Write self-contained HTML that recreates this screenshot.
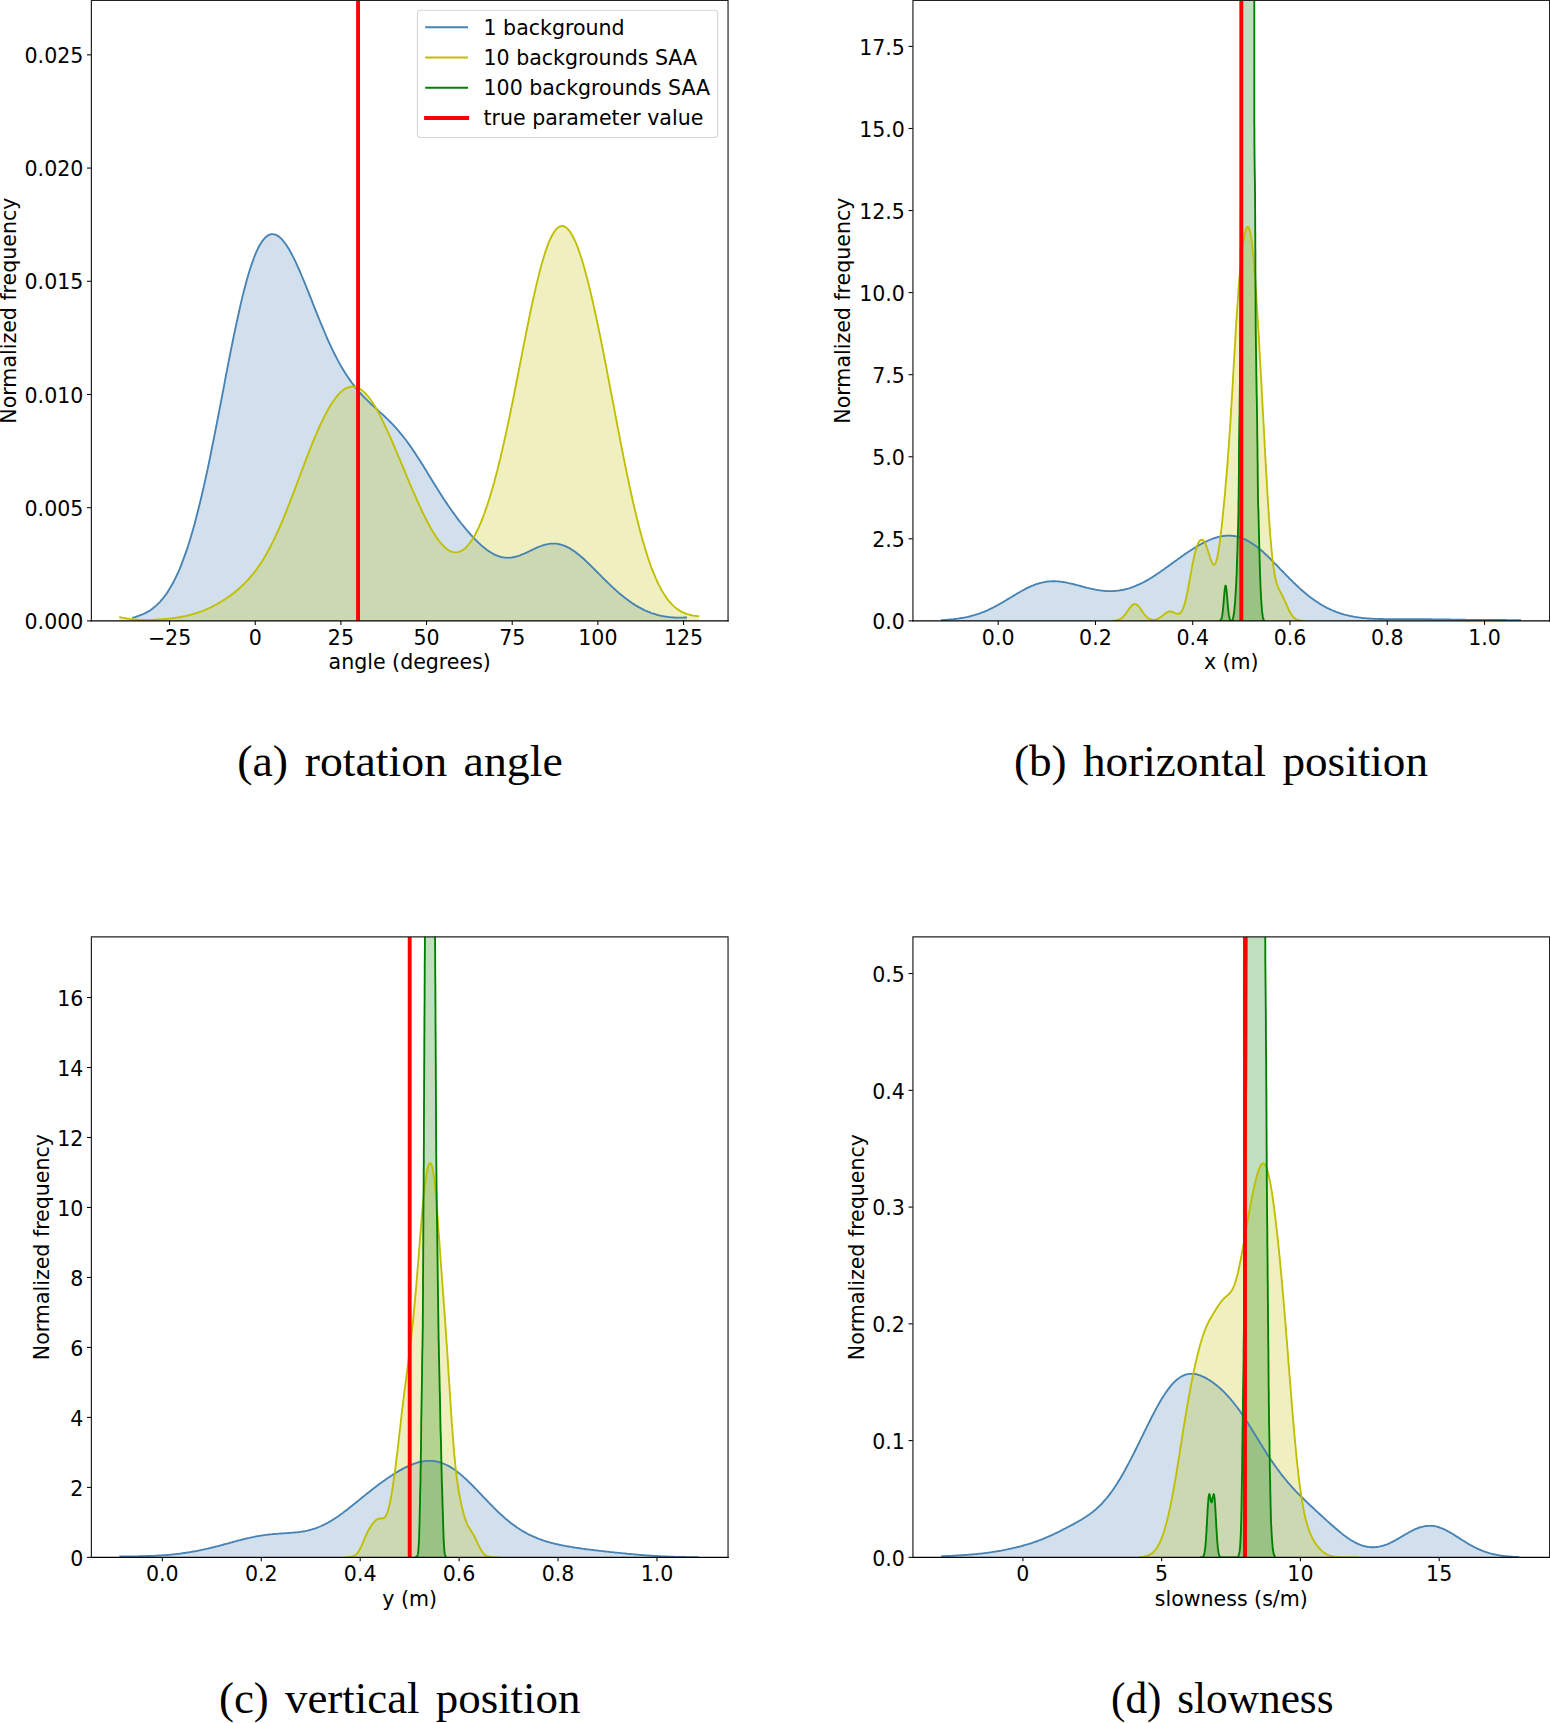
<!DOCTYPE html>
<html><head><meta charset="utf-8"><title>figure</title>
<style>
html,body{margin:0;padding:0;background:#fff}
body{width:1550px;height:1723px;overflow:hidden}
svg{display:block}
.t{font-family:"DejaVu Sans", "Liberation Sans", sans-serif;font-size:20.55px;fill:#000}
.c{font-family:"Liberation Serif","DejaVu Serif",serif;font-size:44.5px;word-spacing:5px;fill:#000}
</style></head><body>
<svg width="1550" height="1723" viewBox="0 0 1550 1723">
<rect width="1550" height="1723" fill="#fff"/>
<defs><clipPath id="cla"><rect x="91.39" y="0.36" width="636.66" height="620.52"/></clipPath></defs>
<g clip-path="url(#cla)">
<polygon points="132.2,620.9 132.2,617.8 133.6,617.4 135.0,617.1 136.4,616.6 137.8,616.2 139.1,615.7 140.5,615.2 141.9,614.7 143.3,614.0 144.7,613.4 146.1,612.7 147.5,611.9 148.9,611.1 150.3,610.2 151.7,609.2 153.0,608.2 154.4,607.0 155.8,605.9 157.2,604.6 158.6,603.2 160.0,601.8 161.4,600.2 162.8,598.6 164.2,596.8 165.6,594.9 167.0,593.0 168.3,590.9 169.7,588.6 171.1,586.3 172.5,583.8 173.9,581.2 175.3,578.4 176.7,575.5 178.1,572.5 179.5,569.3 180.9,565.9 182.2,562.4 183.6,558.7 185.0,554.9 186.4,550.9 187.8,546.7 189.2,542.3 190.6,537.8 192.0,533.1 193.4,528.3 194.8,523.2 196.1,518.0 197.5,512.6 198.9,507.1 200.3,501.4 201.7,495.5 203.1,489.5 204.5,483.4 205.9,477.0 207.3,470.6 208.7,464.0 210.1,457.3 211.4,450.5 212.8,443.6 214.2,436.6 215.6,429.5 217.0,422.4 218.4,415.2 219.8,407.9 221.2,400.6 222.6,393.4 224.0,386.1 225.3,378.8 226.7,371.6 228.1,364.4 229.5,357.3 230.9,350.2 232.3,343.3 233.7,336.4 235.1,329.7 236.5,323.1 237.9,316.7 239.3,310.5 240.6,304.4 242.0,298.6 243.4,292.9 244.8,287.5 246.2,282.3 247.6,277.3 249.0,272.6 250.4,268.1 251.8,263.9 253.2,260.0 254.5,256.3 255.9,252.9 257.3,249.8 258.7,247.0 260.1,244.5 261.5,242.2 262.9,240.3 264.3,238.6 265.7,237.2 267.1,236.0 268.4,235.2 269.8,234.6 271.2,234.2 272.6,234.1 274.0,234.3 275.4,234.6 276.8,235.3 278.2,236.1 279.6,237.2 281.0,238.4 282.4,239.9 283.7,241.5 285.1,243.3 286.5,245.3 287.9,247.5 289.3,249.8 290.7,252.3 292.1,254.9 293.5,257.6 294.9,260.4 296.3,263.3 297.6,266.4 299.0,269.5 300.4,272.7 301.8,276.0 303.2,279.3 304.6,282.7 306.0,286.1 307.4,289.6 308.8,293.1 310.2,296.6 311.6,300.1 312.9,303.6 314.3,307.1 315.7,310.6 317.1,314.1 318.5,317.6 319.9,321.0 321.3,324.4 322.7,327.7 324.1,331.0 325.5,334.3 326.8,337.5 328.2,340.6 329.6,343.7 331.0,346.7 332.4,349.6 333.8,352.5 335.2,355.2 336.6,357.9 338.0,360.6 339.4,363.1 340.7,365.6 342.1,368.0 343.5,370.3 344.9,372.6 346.3,374.7 347.7,376.8 349.1,378.9 350.5,380.9 351.9,382.8 353.3,384.6 354.7,386.4 356.0,388.1 357.4,389.8 358.8,391.4 360.2,393.0 361.6,394.5 363.0,396.0 364.4,397.4 365.8,398.8 367.2,400.2 368.6,401.6 369.9,402.9 371.3,404.2 372.7,405.5 374.1,406.8 375.5,408.1 376.9,409.3 378.3,410.6 379.7,411.9 381.1,413.1 382.5,414.4 383.9,415.7 385.2,417.0 386.6,418.3 388.0,419.7 389.4,421.1 390.8,422.5 392.2,423.9 393.6,425.4 395.0,426.9 396.4,428.4 397.8,430.0 399.1,431.6 400.5,433.3 401.9,435.0 403.3,436.7 404.7,438.5 406.1,440.3 407.5,442.2 408.9,444.1 410.3,446.1 411.7,448.0 413.0,450.1 414.4,452.1 415.8,454.2 417.2,456.4 418.6,458.5 420.0,460.7 421.4,462.9 422.8,465.1 424.2,467.4 425.6,469.6 427.0,471.9 428.3,474.2 429.7,476.5 431.1,478.7 432.5,481.0 433.9,483.3 435.3,485.5 436.7,487.7 438.1,490.0 439.5,492.2 440.9,494.4 442.2,496.5 443.6,498.7 445.0,500.8 446.4,502.9 447.8,504.9 449.2,507.0 450.6,509.0 452.0,511.0 453.4,512.9 454.8,514.8 456.2,516.7 457.5,518.6 458.9,520.4 460.3,522.2 461.7,524.0 463.1,525.7 464.5,527.4 465.9,529.1 467.3,530.7 468.7,532.3 470.1,533.9 471.4,535.4 472.8,537.0 474.2,538.4 475.6,539.9 477.0,541.2 478.4,542.6 479.8,543.9 481.2,545.2 482.6,546.4 484.0,547.5 485.3,548.6 486.7,549.7 488.1,550.7 489.5,551.6 490.9,552.5 492.3,553.3 493.7,554.1 495.1,554.8 496.5,555.4 497.9,555.9 499.3,556.4 500.6,556.8 502.0,557.2 503.4,557.4 504.8,557.6 506.2,557.7 507.6,557.8 509.0,557.7 510.4,557.6 511.8,557.5 513.2,557.2 514.5,557.0 515.9,556.6 517.3,556.2 518.7,555.8 520.1,555.3 521.5,554.7 522.9,554.2 524.3,553.6 525.7,552.9 527.1,552.3 528.5,551.6 529.8,551.0 531.2,550.3 532.6,549.6 534.0,549.0 535.4,548.3 536.8,547.7 538.2,547.1 539.6,546.5 541.0,546.0 542.4,545.5 543.7,545.1 545.1,544.7 546.5,544.3 547.9,544.1 549.3,543.8 550.7,543.7 552.1,543.6 553.5,543.6 554.9,543.6 556.3,543.7 557.6,543.9 559.0,544.1 560.4,544.5 561.8,544.8 563.2,545.3 564.6,545.8 566.0,546.4 567.4,547.1 568.8,547.8 570.2,548.6 571.6,549.5 572.9,550.4 574.3,551.3 575.7,552.3 577.1,553.4 578.5,554.5 579.9,555.6 581.3,556.8 582.7,558.0 584.1,559.3 585.5,560.6 586.8,561.9 588.2,563.2 589.6,564.5 591.0,565.9 592.4,567.3 593.8,568.7 595.2,570.1 596.6,571.5 598.0,572.9 599.4,574.3 600.8,575.7 602.1,577.1 603.5,578.5 604.9,579.9 606.3,581.2 607.7,582.6 609.1,583.9 610.5,585.3 611.9,586.6 613.3,587.9 614.7,589.2 616.0,590.4 617.4,591.6 618.8,592.9 620.2,594.0 621.6,595.2 623.0,596.3 624.4,597.4 625.8,598.5 627.2,599.6 628.6,600.6 629.9,601.6 631.3,602.5 632.7,603.5 634.1,604.4 635.5,605.3 636.9,606.1 638.3,606.9 639.7,607.7 641.1,608.4 642.5,609.1 643.9,609.8 645.2,610.5 646.6,611.1 648.0,611.7 649.4,612.2 650.8,612.8 652.2,613.3 653.6,613.7 655.0,614.2 656.4,614.6 657.8,615.0 659.1,615.3 660.5,615.7 661.9,616.0 663.3,616.2 664.7,616.5 666.1,616.7 667.5,616.9 668.9,617.1 670.3,617.2 671.7,617.3 673.0,617.4 674.4,617.5 675.8,617.6 677.2,617.6 678.6,617.6 680.0,617.6 681.4,617.6 682.8,617.6 684.2,617.5 685.6,617.5 687.0,617.4 687.0,620.9" fill="#4682b4" fill-opacity="0.25"/>
<polygon points="119.3,620.9 119.3,616.9 120.8,617.3 122.2,617.6 123.7,617.9 125.1,618.2 126.6,618.5 128.0,618.7 129.5,618.9 130.9,619.1 132.4,619.3 133.9,619.4 135.3,619.5 136.8,619.6 138.2,619.7 139.7,619.8 141.1,619.8 142.6,619.9 144.0,619.9 145.5,619.9 146.9,619.9 148.4,619.9 149.8,619.8 151.3,619.8 152.7,619.8 154.2,619.7 155.7,619.6 157.1,619.6 158.6,619.5 160.0,619.4 161.5,619.3 162.9,619.2 164.4,619.0 165.8,618.9 167.3,618.8 168.7,618.6 170.2,618.5 171.6,618.3 173.1,618.1 174.6,617.9 176.0,617.7 177.5,617.5 178.9,617.3 180.4,617.0 181.8,616.7 183.3,616.5 184.7,616.2 186.2,615.8 187.6,615.5 189.1,615.2 190.5,614.8 192.0,614.4 193.4,614.0 194.9,613.5 196.4,613.1 197.8,612.6 199.3,612.1 200.7,611.6 202.2,611.0 203.6,610.5 205.1,609.9 206.5,609.3 208.0,608.6 209.4,608.0 210.9,607.3 212.3,606.6 213.8,605.8 215.3,605.0 216.7,604.3 218.2,603.4 219.6,602.6 221.1,601.7 222.5,600.8 224.0,599.9 225.4,599.0 226.9,598.0 228.3,597.0 229.8,595.9 231.2,594.9 232.7,593.8 234.2,592.7 235.6,591.5 237.1,590.3 238.5,589.0 240.0,587.8 241.4,586.4 242.9,585.0 244.3,583.6 245.8,582.1 247.2,580.6 248.7,579.0 250.1,577.4 251.6,575.7 253.0,573.9 254.5,572.1 256.0,570.1 257.4,568.2 258.9,566.1 260.3,563.9 261.8,561.7 263.2,559.4 264.7,557.0 266.1,554.5 267.6,551.9 269.0,549.3 270.5,546.5 271.9,543.7 273.4,540.7 274.9,537.7 276.3,534.6 277.8,531.4 279.2,528.2 280.7,524.8 282.1,521.4 283.6,517.9 285.0,514.4 286.5,510.8 287.9,507.1 289.4,503.4 290.8,499.6 292.3,495.8 293.8,492.0 295.2,488.2 296.7,484.3 298.1,480.4 299.6,476.5 301.0,472.7 302.5,468.8 303.9,465.0 305.4,461.1 306.8,457.3 308.3,453.6 309.7,449.9 311.2,446.2 312.6,442.6 314.1,439.1 315.6,435.6 317.0,432.3 318.5,428.9 319.9,425.7 321.4,422.6 322.8,419.6 324.3,416.6 325.7,413.8 327.2,411.1 328.6,408.5 330.1,406.1 331.5,403.7 333.0,401.5 334.5,399.5 335.9,397.5 337.4,395.7 338.8,394.1 340.3,392.6 341.7,391.3 343.2,390.1 344.6,389.1 346.1,388.3 347.5,387.6 349.0,387.1 350.4,386.8 351.9,386.6 353.3,386.6 354.8,386.8 356.3,387.2 357.7,387.7 359.2,388.4 360.6,389.3 362.1,390.4 363.5,391.6 365.0,393.0 366.4,394.5 367.9,396.2 369.3,398.0 370.8,400.0 372.2,402.1 373.7,404.4 375.2,406.7 376.6,409.2 378.1,411.8 379.5,414.6 381.0,417.4 382.4,420.3 383.9,423.3 385.3,426.3 386.8,429.5 388.2,432.7 389.7,435.9 391.1,439.2 392.6,442.6 394.1,445.9 395.5,449.4 397.0,452.8 398.4,456.3 399.9,459.7 401.3,463.2 402.8,466.7 404.2,470.2 405.7,473.7 407.1,477.2 408.6,480.6 410.0,484.1 411.5,487.5 412.9,490.9 414.4,494.2 415.9,497.5 417.3,500.8 418.8,504.0 420.2,507.2 421.7,510.3 423.1,513.4 424.6,516.4 426.0,519.3 427.5,522.1 428.9,524.8 430.4,527.5 431.8,530.0 433.3,532.4 434.8,534.8 436.2,537.0 437.7,539.1 439.1,541.0 440.6,542.8 442.0,544.5 443.5,546.0 444.9,547.4 446.4,548.6 447.8,549.7 449.3,550.6 450.7,551.3 452.2,551.8 453.7,552.2 455.1,552.3 456.6,552.3 458.0,552.1 459.5,551.7 460.9,551.1 462.4,550.3 463.8,549.3 465.3,548.1 466.7,546.7 468.2,545.0 469.6,543.2 471.1,541.2 472.5,539.0 474.0,536.6 475.5,534.0 476.9,531.1 478.4,528.1 479.8,524.9 481.3,521.4 482.7,517.8 484.2,514.0 485.6,509.9 487.1,505.7 488.5,501.2 490.0,496.6 491.4,491.8 492.9,486.7 494.4,481.5 495.8,476.1 497.3,470.5 498.7,464.7 500.2,458.8 501.6,452.7 503.1,446.4 504.5,439.9 506.0,433.4 507.4,426.6 508.9,419.7 510.3,412.8 511.8,405.7 513.3,398.5 514.7,391.2 516.2,383.8 517.6,376.5 519.1,369.0 520.5,361.6 522.0,354.1 523.4,346.7 524.9,339.4 526.3,332.0 527.8,324.8 529.2,317.7 530.7,310.7 532.1,303.9 533.6,297.2 535.1,290.7 536.5,284.4 538.0,278.4 539.4,272.6 540.9,267.1 542.3,261.9 543.8,257.0 545.2,252.4 546.7,248.1 548.1,244.2 549.6,240.6 551.0,237.5 552.5,234.7 554.0,232.2 555.4,230.2 556.9,228.6 558.3,227.4 559.8,226.5 561.2,226.1 562.7,226.0 564.1,226.4 565.6,227.1 567.0,228.3 568.5,229.8 569.9,231.6 571.4,233.9 572.8,236.5 574.3,239.4 575.8,242.6 577.2,246.2 578.7,250.1 580.1,254.3 581.6,258.8 583.0,263.6 584.5,268.6 585.9,273.9 587.4,279.4 588.8,285.1 590.3,291.1 591.7,297.3 593.2,303.6 594.7,310.2 596.1,316.9 597.6,323.7 599.0,330.7 600.5,337.8 601.9,345.1 603.4,352.4 604.8,359.8 606.3,367.3 607.7,374.9 609.2,382.5 610.6,390.1 612.1,397.8 613.6,405.4 615.0,413.1 616.5,420.7 617.9,428.3 619.4,435.8 620.8,443.3 622.3,450.7 623.7,458.0 625.2,465.2 626.6,472.3 628.1,479.3 629.5,486.1 631.0,492.8 632.4,499.3 633.9,505.7 635.4,511.9 636.8,517.9 638.3,523.7 639.7,529.4 641.2,534.8 642.6,540.1 644.1,545.1 645.5,550.0 647.0,554.6 648.4,559.1 649.9,563.3 651.3,567.3 652.8,571.1 654.3,574.7 655.7,578.2 657.2,581.4 658.6,584.4 660.1,587.3 661.5,590.0 663.0,592.5 664.4,594.8 665.9,596.9 667.3,599.0 668.8,600.8 670.2,602.5 671.7,604.1 673.2,605.6 674.6,606.9 676.1,608.1 677.5,609.2 679.0,610.2 680.4,611.1 681.9,611.9 683.3,612.6 684.8,613.2 686.2,613.8 687.7,614.2 689.1,614.7 690.6,615.0 692.0,615.3 693.5,615.6 695.0,615.8 696.4,616.0 697.9,616.1 699.3,616.2 699.3,620.9" fill="#bfbf00" fill-opacity="0.25"/>
<polyline points="132.2,617.8 133.6,617.4 135.0,617.1 136.4,616.6 137.8,616.2 139.1,615.7 140.5,615.2 141.9,614.7 143.3,614.0 144.7,613.4 146.1,612.7 147.5,611.9 148.9,611.1 150.3,610.2 151.7,609.2 153.0,608.2 154.4,607.0 155.8,605.9 157.2,604.6 158.6,603.2 160.0,601.8 161.4,600.2 162.8,598.6 164.2,596.8 165.6,594.9 167.0,593.0 168.3,590.9 169.7,588.6 171.1,586.3 172.5,583.8 173.9,581.2 175.3,578.4 176.7,575.5 178.1,572.5 179.5,569.3 180.9,565.9 182.2,562.4 183.6,558.7 185.0,554.9 186.4,550.9 187.8,546.7 189.2,542.3 190.6,537.8 192.0,533.1 193.4,528.3 194.8,523.2 196.1,518.0 197.5,512.6 198.9,507.1 200.3,501.4 201.7,495.5 203.1,489.5 204.5,483.4 205.9,477.0 207.3,470.6 208.7,464.0 210.1,457.3 211.4,450.5 212.8,443.6 214.2,436.6 215.6,429.5 217.0,422.4 218.4,415.2 219.8,407.9 221.2,400.6 222.6,393.4 224.0,386.1 225.3,378.8 226.7,371.6 228.1,364.4 229.5,357.3 230.9,350.2 232.3,343.3 233.7,336.4 235.1,329.7 236.5,323.1 237.9,316.7 239.3,310.5 240.6,304.4 242.0,298.6 243.4,292.9 244.8,287.5 246.2,282.3 247.6,277.3 249.0,272.6 250.4,268.1 251.8,263.9 253.2,260.0 254.5,256.3 255.9,252.9 257.3,249.8 258.7,247.0 260.1,244.5 261.5,242.2 262.9,240.3 264.3,238.6 265.7,237.2 267.1,236.0 268.4,235.2 269.8,234.6 271.2,234.2 272.6,234.1 274.0,234.3 275.4,234.6 276.8,235.3 278.2,236.1 279.6,237.2 281.0,238.4 282.4,239.9 283.7,241.5 285.1,243.3 286.5,245.3 287.9,247.5 289.3,249.8 290.7,252.3 292.1,254.9 293.5,257.6 294.9,260.4 296.3,263.3 297.6,266.4 299.0,269.5 300.4,272.7 301.8,276.0 303.2,279.3 304.6,282.7 306.0,286.1 307.4,289.6 308.8,293.1 310.2,296.6 311.6,300.1 312.9,303.6 314.3,307.1 315.7,310.6 317.1,314.1 318.5,317.6 319.9,321.0 321.3,324.4 322.7,327.7 324.1,331.0 325.5,334.3 326.8,337.5 328.2,340.6 329.6,343.7 331.0,346.7 332.4,349.6 333.8,352.5 335.2,355.2 336.6,357.9 338.0,360.6 339.4,363.1 340.7,365.6 342.1,368.0 343.5,370.3 344.9,372.6 346.3,374.7 347.7,376.8 349.1,378.9 350.5,380.9 351.9,382.8 353.3,384.6 354.7,386.4 356.0,388.1 357.4,389.8 358.8,391.4 360.2,393.0 361.6,394.5 363.0,396.0 364.4,397.4 365.8,398.8 367.2,400.2 368.6,401.6 369.9,402.9 371.3,404.2 372.7,405.5 374.1,406.8 375.5,408.1 376.9,409.3 378.3,410.6 379.7,411.9 381.1,413.1 382.5,414.4 383.9,415.7 385.2,417.0 386.6,418.3 388.0,419.7 389.4,421.1 390.8,422.5 392.2,423.9 393.6,425.4 395.0,426.9 396.4,428.4 397.8,430.0 399.1,431.6 400.5,433.3 401.9,435.0 403.3,436.7 404.7,438.5 406.1,440.3 407.5,442.2 408.9,444.1 410.3,446.1 411.7,448.0 413.0,450.1 414.4,452.1 415.8,454.2 417.2,456.4 418.6,458.5 420.0,460.7 421.4,462.9 422.8,465.1 424.2,467.4 425.6,469.6 427.0,471.9 428.3,474.2 429.7,476.5 431.1,478.7 432.5,481.0 433.9,483.3 435.3,485.5 436.7,487.7 438.1,490.0 439.5,492.2 440.9,494.4 442.2,496.5 443.6,498.7 445.0,500.8 446.4,502.9 447.8,504.9 449.2,507.0 450.6,509.0 452.0,511.0 453.4,512.9 454.8,514.8 456.2,516.7 457.5,518.6 458.9,520.4 460.3,522.2 461.7,524.0 463.1,525.7 464.5,527.4 465.9,529.1 467.3,530.7 468.7,532.3 470.1,533.9 471.4,535.4 472.8,537.0 474.2,538.4 475.6,539.9 477.0,541.2 478.4,542.6 479.8,543.9 481.2,545.2 482.6,546.4 484.0,547.5 485.3,548.6 486.7,549.7 488.1,550.7 489.5,551.6 490.9,552.5 492.3,553.3 493.7,554.1 495.1,554.8 496.5,555.4 497.9,555.9 499.3,556.4 500.6,556.8 502.0,557.2 503.4,557.4 504.8,557.6 506.2,557.7 507.6,557.8 509.0,557.7 510.4,557.6 511.8,557.5 513.2,557.2 514.5,557.0 515.9,556.6 517.3,556.2 518.7,555.8 520.1,555.3 521.5,554.7 522.9,554.2 524.3,553.6 525.7,552.9 527.1,552.3 528.5,551.6 529.8,551.0 531.2,550.3 532.6,549.6 534.0,549.0 535.4,548.3 536.8,547.7 538.2,547.1 539.6,546.5 541.0,546.0 542.4,545.5 543.7,545.1 545.1,544.7 546.5,544.3 547.9,544.1 549.3,543.8 550.7,543.7 552.1,543.6 553.5,543.6 554.9,543.6 556.3,543.7 557.6,543.9 559.0,544.1 560.4,544.5 561.8,544.8 563.2,545.3 564.6,545.8 566.0,546.4 567.4,547.1 568.8,547.8 570.2,548.6 571.6,549.5 572.9,550.4 574.3,551.3 575.7,552.3 577.1,553.4 578.5,554.5 579.9,555.6 581.3,556.8 582.7,558.0 584.1,559.3 585.5,560.6 586.8,561.9 588.2,563.2 589.6,564.5 591.0,565.9 592.4,567.3 593.8,568.7 595.2,570.1 596.6,571.5 598.0,572.9 599.4,574.3 600.8,575.7 602.1,577.1 603.5,578.5 604.9,579.9 606.3,581.2 607.7,582.6 609.1,583.9 610.5,585.3 611.9,586.6 613.3,587.9 614.7,589.2 616.0,590.4 617.4,591.6 618.8,592.9 620.2,594.0 621.6,595.2 623.0,596.3 624.4,597.4 625.8,598.5 627.2,599.6 628.6,600.6 629.9,601.6 631.3,602.5 632.7,603.5 634.1,604.4 635.5,605.3 636.9,606.1 638.3,606.9 639.7,607.7 641.1,608.4 642.5,609.1 643.9,609.8 645.2,610.5 646.6,611.1 648.0,611.7 649.4,612.2 650.8,612.8 652.2,613.3 653.6,613.7 655.0,614.2 656.4,614.6 657.8,615.0 659.1,615.3 660.5,615.7 661.9,616.0 663.3,616.2 664.7,616.5 666.1,616.7 667.5,616.9 668.9,617.1 670.3,617.2 671.7,617.3 673.0,617.4 674.4,617.5 675.8,617.6 677.2,617.6 678.6,617.6 680.0,617.6 681.4,617.6 682.8,617.6 684.2,617.5 685.6,617.5 687.0,617.4" fill="none" stroke="#4682b4" stroke-width="1.85" stroke-linejoin="round"/>
<polyline points="119.3,616.9 120.8,617.3 122.2,617.6 123.7,617.9 125.1,618.2 126.6,618.5 128.0,618.7 129.5,618.9 130.9,619.1 132.4,619.3 133.9,619.4 135.3,619.5 136.8,619.6 138.2,619.7 139.7,619.8 141.1,619.8 142.6,619.9 144.0,619.9 145.5,619.9 146.9,619.9 148.4,619.9 149.8,619.8 151.3,619.8 152.7,619.8 154.2,619.7 155.7,619.6 157.1,619.6 158.6,619.5 160.0,619.4 161.5,619.3 162.9,619.2 164.4,619.0 165.8,618.9 167.3,618.8 168.7,618.6 170.2,618.5 171.6,618.3 173.1,618.1 174.6,617.9 176.0,617.7 177.5,617.5 178.9,617.3 180.4,617.0 181.8,616.7 183.3,616.5 184.7,616.2 186.2,615.8 187.6,615.5 189.1,615.2 190.5,614.8 192.0,614.4 193.4,614.0 194.9,613.5 196.4,613.1 197.8,612.6 199.3,612.1 200.7,611.6 202.2,611.0 203.6,610.5 205.1,609.9 206.5,609.3 208.0,608.6 209.4,608.0 210.9,607.3 212.3,606.6 213.8,605.8 215.3,605.0 216.7,604.3 218.2,603.4 219.6,602.6 221.1,601.7 222.5,600.8 224.0,599.9 225.4,599.0 226.9,598.0 228.3,597.0 229.8,595.9 231.2,594.9 232.7,593.8 234.2,592.7 235.6,591.5 237.1,590.3 238.5,589.0 240.0,587.8 241.4,586.4 242.9,585.0 244.3,583.6 245.8,582.1 247.2,580.6 248.7,579.0 250.1,577.4 251.6,575.7 253.0,573.9 254.5,572.1 256.0,570.1 257.4,568.2 258.9,566.1 260.3,563.9 261.8,561.7 263.2,559.4 264.7,557.0 266.1,554.5 267.6,551.9 269.0,549.3 270.5,546.5 271.9,543.7 273.4,540.7 274.9,537.7 276.3,534.6 277.8,531.4 279.2,528.2 280.7,524.8 282.1,521.4 283.6,517.9 285.0,514.4 286.5,510.8 287.9,507.1 289.4,503.4 290.8,499.6 292.3,495.8 293.8,492.0 295.2,488.2 296.7,484.3 298.1,480.4 299.6,476.5 301.0,472.7 302.5,468.8 303.9,465.0 305.4,461.1 306.8,457.3 308.3,453.6 309.7,449.9 311.2,446.2 312.6,442.6 314.1,439.1 315.6,435.6 317.0,432.3 318.5,428.9 319.9,425.7 321.4,422.6 322.8,419.6 324.3,416.6 325.7,413.8 327.2,411.1 328.6,408.5 330.1,406.1 331.5,403.7 333.0,401.5 334.5,399.5 335.9,397.5 337.4,395.7 338.8,394.1 340.3,392.6 341.7,391.3 343.2,390.1 344.6,389.1 346.1,388.3 347.5,387.6 349.0,387.1 350.4,386.8 351.9,386.6 353.3,386.6 354.8,386.8 356.3,387.2 357.7,387.7 359.2,388.4 360.6,389.3 362.1,390.4 363.5,391.6 365.0,393.0 366.4,394.5 367.9,396.2 369.3,398.0 370.8,400.0 372.2,402.1 373.7,404.4 375.2,406.7 376.6,409.2 378.1,411.8 379.5,414.6 381.0,417.4 382.4,420.3 383.9,423.3 385.3,426.3 386.8,429.5 388.2,432.7 389.7,435.9 391.1,439.2 392.6,442.6 394.1,445.9 395.5,449.4 397.0,452.8 398.4,456.3 399.9,459.7 401.3,463.2 402.8,466.7 404.2,470.2 405.7,473.7 407.1,477.2 408.6,480.6 410.0,484.1 411.5,487.5 412.9,490.9 414.4,494.2 415.9,497.5 417.3,500.8 418.8,504.0 420.2,507.2 421.7,510.3 423.1,513.4 424.6,516.4 426.0,519.3 427.5,522.1 428.9,524.8 430.4,527.5 431.8,530.0 433.3,532.4 434.8,534.8 436.2,537.0 437.7,539.1 439.1,541.0 440.6,542.8 442.0,544.5 443.5,546.0 444.9,547.4 446.4,548.6 447.8,549.7 449.3,550.6 450.7,551.3 452.2,551.8 453.7,552.2 455.1,552.3 456.6,552.3 458.0,552.1 459.5,551.7 460.9,551.1 462.4,550.3 463.8,549.3 465.3,548.1 466.7,546.7 468.2,545.0 469.6,543.2 471.1,541.2 472.5,539.0 474.0,536.6 475.5,534.0 476.9,531.1 478.4,528.1 479.8,524.9 481.3,521.4 482.7,517.8 484.2,514.0 485.6,509.9 487.1,505.7 488.5,501.2 490.0,496.6 491.4,491.8 492.9,486.7 494.4,481.5 495.8,476.1 497.3,470.5 498.7,464.7 500.2,458.8 501.6,452.7 503.1,446.4 504.5,439.9 506.0,433.4 507.4,426.6 508.9,419.7 510.3,412.8 511.8,405.7 513.3,398.5 514.7,391.2 516.2,383.8 517.6,376.5 519.1,369.0 520.5,361.6 522.0,354.1 523.4,346.7 524.9,339.4 526.3,332.0 527.8,324.8 529.2,317.7 530.7,310.7 532.1,303.9 533.6,297.2 535.1,290.7 536.5,284.4 538.0,278.4 539.4,272.6 540.9,267.1 542.3,261.9 543.8,257.0 545.2,252.4 546.7,248.1 548.1,244.2 549.6,240.6 551.0,237.5 552.5,234.7 554.0,232.2 555.4,230.2 556.9,228.6 558.3,227.4 559.8,226.5 561.2,226.1 562.7,226.0 564.1,226.4 565.6,227.1 567.0,228.3 568.5,229.8 569.9,231.6 571.4,233.9 572.8,236.5 574.3,239.4 575.8,242.6 577.2,246.2 578.7,250.1 580.1,254.3 581.6,258.8 583.0,263.6 584.5,268.6 585.9,273.9 587.4,279.4 588.8,285.1 590.3,291.1 591.7,297.3 593.2,303.6 594.7,310.2 596.1,316.9 597.6,323.7 599.0,330.7 600.5,337.8 601.9,345.1 603.4,352.4 604.8,359.8 606.3,367.3 607.7,374.9 609.2,382.5 610.6,390.1 612.1,397.8 613.6,405.4 615.0,413.1 616.5,420.7 617.9,428.3 619.4,435.8 620.8,443.3 622.3,450.7 623.7,458.0 625.2,465.2 626.6,472.3 628.1,479.3 629.5,486.1 631.0,492.8 632.4,499.3 633.9,505.7 635.4,511.9 636.8,517.9 638.3,523.7 639.7,529.4 641.2,534.8 642.6,540.1 644.1,545.1 645.5,550.0 647.0,554.6 648.4,559.1 649.9,563.3 651.3,567.3 652.8,571.1 654.3,574.7 655.7,578.2 657.2,581.4 658.6,584.4 660.1,587.3 661.5,590.0 663.0,592.5 664.4,594.8 665.9,596.9 667.3,599.0 668.8,600.8 670.2,602.5 671.7,604.1 673.2,605.6 674.6,606.9 676.1,608.1 677.5,609.2 679.0,610.2 680.4,611.1 681.9,611.9 683.3,612.6 684.8,613.2 686.2,613.8 687.7,614.2 689.1,614.7 690.6,615.0 692.0,615.3 693.5,615.6 695.0,615.8 696.4,616.0 697.9,616.1 699.3,616.2" fill="none" stroke="#bfbf00" stroke-width="1.85" stroke-linejoin="round"/>
<line x1="358.05" y1="0.36" x2="358.05" y2="620.88" stroke="#ff0000" stroke-width="3.9"/>
</g>
<line x1="169.58" y1="620.88" x2="169.58" y2="624.88" stroke="#000" stroke-width="1.05"/><text class="t" x="169.58" y="645.38" text-anchor="middle">−25</text>
<line x1="255.24" y1="620.88" x2="255.24" y2="624.88" stroke="#000" stroke-width="1.05"/><text class="t" x="255.24" y="645.38" text-anchor="middle">0</text>
<line x1="340.90" y1="620.88" x2="340.90" y2="624.88" stroke="#000" stroke-width="1.05"/><text class="t" x="340.90" y="645.38" text-anchor="middle">25</text>
<line x1="426.56" y1="620.88" x2="426.56" y2="624.88" stroke="#000" stroke-width="1.05"/><text class="t" x="426.56" y="645.38" text-anchor="middle">50</text>
<line x1="512.23" y1="620.88" x2="512.23" y2="624.88" stroke="#000" stroke-width="1.05"/><text class="t" x="512.23" y="645.38" text-anchor="middle">75</text>
<line x1="597.89" y1="620.88" x2="597.89" y2="624.88" stroke="#000" stroke-width="1.05"/><text class="t" x="597.89" y="645.38" text-anchor="middle">100</text>
<line x1="683.55" y1="620.88" x2="683.55" y2="624.88" stroke="#000" stroke-width="1.05"/><text class="t" x="683.55" y="645.38" text-anchor="middle">125</text>
<line x1="86.99" y1="620.88" x2="91.39" y2="620.88" stroke="#000" stroke-width="1.05"/><text class="t" x="83.39" y="629.08" text-anchor="end">0.000</text>
<line x1="86.99" y1="507.68" x2="91.39" y2="507.68" stroke="#000" stroke-width="1.05"/><text class="t" x="83.39" y="515.88" text-anchor="end">0.005</text>
<line x1="86.99" y1="394.47" x2="91.39" y2="394.47" stroke="#000" stroke-width="1.05"/><text class="t" x="83.39" y="402.67" text-anchor="end">0.010</text>
<line x1="86.99" y1="281.26" x2="91.39" y2="281.26" stroke="#000" stroke-width="1.05"/><text class="t" x="83.39" y="289.46" text-anchor="end">0.015</text>
<line x1="86.99" y1="168.06" x2="91.39" y2="168.06" stroke="#000" stroke-width="1.05"/><text class="t" x="83.39" y="176.26" text-anchor="end">0.020</text>
<line x1="86.99" y1="54.86" x2="91.39" y2="54.86" stroke="#000" stroke-width="1.05"/><text class="t" x="83.39" y="63.06" text-anchor="end">0.025</text>
<path d="M91.39,620.88 L91.39,0.36 L728.05,0.36 L728.05,620.88" fill="none" stroke="#222" stroke-width="1.2" stroke-linecap="square"/>
<line x1="91.39" y1="620.88" x2="728.05" y2="620.88" stroke="#000" stroke-width="1.26" stroke-linecap="square"/>
<text class="t" x="409.72" y="668.68" text-anchor="middle">angle (degrees)</text>
<text class="t" transform="translate(15.50,310.62) rotate(-90)" text-anchor="middle">Normalized frequency</text>
<text class="c" x="400.00" y="776.08" text-anchor="middle" textLength="325.5" lengthAdjust="spacingAndGlyphs">(a) rotation angle</text>
<defs><clipPath id="clb"><rect x="912.94" y="0.36" width="636.66" height="620.52"/></clipPath></defs>
<g clip-path="url(#clb)">
<polygon points="940.9,620.9 940.9,620.2 942.0,620.1 943.2,620.1 944.3,620.0 945.5,619.9 946.7,619.8 947.8,619.7 949.0,619.6 950.2,619.5 951.3,619.4 952.5,619.3 953.6,619.2 954.8,619.0 956.0,618.9 957.1,618.7 958.3,618.6 959.5,618.4 960.6,618.2 961.8,618.0 962.9,617.8 964.1,617.6 965.3,617.4 966.4,617.1 967.6,616.9 968.8,616.6 969.9,616.3 971.1,616.0 972.2,615.7 973.4,615.4 974.6,615.1 975.7,614.7 976.9,614.3 978.1,613.9 979.2,613.5 980.4,613.1 981.5,612.7 982.7,612.2 983.9,611.8 985.0,611.3 986.2,610.8 987.4,610.3 988.5,609.8 989.7,609.2 990.8,608.7 992.0,608.1 993.2,607.5 994.3,606.9 995.5,606.3 996.7,605.7 997.8,605.0 999.0,604.4 1000.1,603.7 1001.3,603.1 1002.5,602.4 1003.6,601.7 1004.8,601.0 1006.0,600.3 1007.1,599.6 1008.3,598.9 1009.5,598.2 1010.6,597.5 1011.8,596.8 1012.9,596.1 1014.1,595.4 1015.3,594.7 1016.4,594.0 1017.6,593.3 1018.8,592.6 1019.9,592.0 1021.1,591.3 1022.2,590.7 1023.4,590.0 1024.6,589.4 1025.7,588.8 1026.9,588.2 1028.1,587.6 1029.2,587.1 1030.4,586.6 1031.5,586.0 1032.7,585.6 1033.9,585.1 1035.0,584.7 1036.2,584.2 1037.4,583.8 1038.5,583.5 1039.7,583.1 1040.8,582.8 1042.0,582.6 1043.2,582.3 1044.3,582.1 1045.5,581.9 1046.7,581.7 1047.8,581.5 1049.0,581.4 1050.1,581.3 1051.3,581.3 1052.5,581.2 1053.6,581.2 1054.8,581.2 1056.0,581.3 1057.1,581.3 1058.3,581.4 1059.4,581.5 1060.6,581.7 1061.8,581.8 1062.9,582.0 1064.1,582.2 1065.3,582.4 1066.4,582.6 1067.6,582.8 1068.7,583.1 1069.9,583.3 1071.1,583.6 1072.2,583.9 1073.4,584.2 1074.6,584.5 1075.7,584.8 1076.9,585.1 1078.0,585.4 1079.2,585.7 1080.4,586.0 1081.5,586.3 1082.7,586.7 1083.9,587.0 1085.0,587.3 1086.2,587.6 1087.3,587.9 1088.5,588.1 1089.7,588.4 1090.8,588.7 1092.0,588.9 1093.2,589.2 1094.3,589.4 1095.5,589.7 1096.6,589.9 1097.8,590.1 1099.0,590.2 1100.1,590.4 1101.3,590.6 1102.5,590.7 1103.6,590.8 1104.8,590.9 1105.9,591.0 1107.1,591.1 1108.3,591.1 1109.4,591.1 1110.6,591.1 1111.8,591.1 1112.9,591.1 1114.1,591.0 1115.2,590.9 1116.4,590.8 1117.6,590.7 1118.7,590.6 1119.9,590.4 1121.1,590.2 1122.2,590.0 1123.4,589.8 1124.5,589.5 1125.7,589.2 1126.9,588.9 1128.0,588.6 1129.2,588.3 1130.4,587.9 1131.5,587.5 1132.7,587.1 1133.9,586.7 1135.0,586.2 1136.2,585.7 1137.3,585.2 1138.5,584.7 1139.7,584.2 1140.8,583.6 1142.0,583.0 1143.2,582.5 1144.3,581.8 1145.5,581.2 1146.6,580.6 1147.8,579.9 1149.0,579.2 1150.1,578.5 1151.3,577.8 1152.5,577.1 1153.6,576.3 1154.8,575.6 1155.9,574.8 1157.1,574.0 1158.3,573.2 1159.4,572.4 1160.6,571.6 1161.8,570.8 1162.9,570.0 1164.1,569.2 1165.2,568.3 1166.4,567.5 1167.6,566.7 1168.7,565.8 1169.9,565.0 1171.1,564.1 1172.2,563.3 1173.4,562.4 1174.5,561.6 1175.7,560.7 1176.9,559.9 1178.0,559.1 1179.2,558.2 1180.4,557.4 1181.5,556.6 1182.7,555.7 1183.8,554.9 1185.0,554.1 1186.2,553.3 1187.3,552.5 1188.5,551.8 1189.7,551.0 1190.8,550.2 1192.0,549.5 1193.1,548.7 1194.3,548.0 1195.5,547.3 1196.6,546.6 1197.8,545.9 1199.0,545.2 1200.1,544.6 1201.3,544.0 1202.4,543.3 1203.6,542.7 1204.8,542.1 1205.9,541.6 1207.1,541.0 1208.3,540.5 1209.4,540.0 1210.6,539.5 1211.7,539.1 1212.9,538.6 1214.1,538.2 1215.2,537.8 1216.4,537.5 1217.6,537.2 1218.7,536.9 1219.9,536.6 1221.0,536.4 1222.2,536.2 1223.4,536.0 1224.5,535.8 1225.7,535.7 1226.9,535.7 1228.0,535.6 1229.2,535.6 1230.3,535.7 1231.5,535.7 1232.7,535.9 1233.8,536.0 1235.0,536.2 1236.2,536.4 1237.3,536.7 1238.5,537.0 1239.6,537.3 1240.8,537.7 1242.0,538.1 1243.1,538.6 1244.3,539.1 1245.5,539.6 1246.6,540.2 1247.8,540.8 1248.9,541.5 1250.1,542.2 1251.3,542.9 1252.4,543.6 1253.6,544.4 1254.8,545.3 1255.9,546.1 1257.1,547.0 1258.3,547.9 1259.4,548.9 1260.6,549.8 1261.7,550.8 1262.9,551.8 1264.1,552.9 1265.2,554.0 1266.4,555.0 1267.6,556.1 1268.7,557.3 1269.9,558.4 1271.0,559.5 1272.2,560.7 1273.4,561.9 1274.5,563.1 1275.7,564.3 1276.9,565.4 1278.0,566.6 1279.2,567.9 1280.3,569.1 1281.5,570.3 1282.7,571.5 1283.8,572.7 1285.0,573.9 1286.2,575.1 1287.3,576.3 1288.5,577.4 1289.6,578.6 1290.8,579.8 1292.0,580.9 1293.1,582.1 1294.3,583.2 1295.5,584.3 1296.6,585.4 1297.8,586.5 1298.9,587.6 1300.1,588.7 1301.3,589.7 1302.4,590.7 1303.6,591.7 1304.8,592.7 1305.9,593.7 1307.1,594.7 1308.2,595.6 1309.4,596.5 1310.6,597.4 1311.7,598.3 1312.9,599.1 1314.1,600.0 1315.2,600.8 1316.4,601.6 1317.5,602.3 1318.7,603.1 1319.9,603.8 1321.0,604.5 1322.2,605.2 1323.4,605.9 1324.5,606.5 1325.7,607.1 1326.8,607.8 1328.0,608.3 1329.2,608.9 1330.3,609.4 1331.5,610.0 1332.7,610.5 1333.8,611.0 1335.0,611.4 1336.1,611.9 1337.3,612.3 1338.5,612.7 1339.6,613.1 1340.8,613.5 1342.0,613.9 1343.1,614.2 1344.3,614.6 1345.4,614.9 1346.6,615.2 1347.8,615.4 1348.9,615.7 1350.1,616.0 1351.3,616.2 1352.4,616.4 1353.6,616.7 1354.7,616.9 1355.9,617.1 1357.1,617.2 1358.2,617.4 1359.4,617.6 1360.6,617.7 1361.7,617.8 1362.9,618.0 1364.0,618.1 1365.2,618.2 1366.4,618.3 1367.5,618.4 1368.7,618.5 1369.9,618.6 1371.0,618.6 1372.2,618.7 1373.4,618.8 1374.5,618.8 1375.7,618.9 1376.8,618.9 1378.0,618.9 1379.2,619.0 1380.3,619.0 1381.5,619.0 1382.7,619.0 1383.8,619.1 1385.0,619.1 1386.1,619.1 1387.3,619.1 1388.5,619.1 1389.6,619.1 1390.8,619.1 1392.0,619.1 1393.1,619.1 1394.3,619.1 1395.4,619.1 1396.6,619.1 1397.8,619.1 1398.9,619.1 1400.1,619.1 1401.3,619.1 1402.4,619.1 1403.6,619.1 1404.7,619.1 1405.9,619.1 1407.1,619.1 1408.2,619.1 1409.4,619.1 1410.6,619.1 1411.7,619.1 1412.9,619.1 1414.0,619.1 1415.2,619.1 1416.4,619.1 1417.5,619.1 1418.7,619.1 1419.9,619.1 1421.0,619.1 1422.2,619.1 1423.3,619.2 1424.5,619.2 1425.7,619.2 1426.8,619.2 1428.0,619.2 1429.2,619.2 1430.3,619.2 1431.5,619.2 1432.6,619.3 1433.8,619.3 1435.0,619.3 1436.1,619.3 1437.3,619.3 1438.5,619.4 1439.6,619.4 1440.8,619.4 1441.9,619.4 1443.1,619.4 1444.3,619.4 1445.4,619.5 1446.6,619.5 1447.8,619.5 1448.9,619.5 1450.1,619.5 1451.2,619.6 1452.4,619.6 1453.6,619.6 1454.7,619.6 1455.9,619.6 1457.1,619.6 1458.2,619.7 1459.4,619.7 1460.5,619.7 1461.7,619.7 1462.9,619.7 1464.0,619.7 1465.2,619.7 1466.4,619.8 1467.5,619.8 1468.7,619.8 1469.8,619.8 1471.0,619.8 1472.2,619.8 1473.3,619.8 1474.5,619.8 1475.7,619.8 1476.8,619.9 1478.0,619.9 1479.1,619.9 1480.3,619.9 1481.5,619.9 1482.6,619.9 1483.8,619.9 1485.0,619.9 1486.1,619.9 1487.3,619.9 1488.4,619.9 1489.6,619.9 1490.8,619.9 1491.9,619.9 1493.1,620.0 1494.3,620.0 1495.4,620.0 1496.6,620.0 1497.8,620.0 1498.9,620.0 1500.1,620.0 1501.2,620.0 1502.4,620.0 1503.6,620.0 1504.7,620.0 1505.9,620.0 1507.1,620.1 1508.2,620.1 1509.4,620.1 1510.5,620.1 1511.7,620.1 1512.9,620.1 1514.0,620.1 1515.2,620.1 1516.4,620.2 1517.5,620.2 1518.7,620.2 1519.8,620.2 1521.0,620.2 1521.0,620.9" fill="#4682b4" fill-opacity="0.25"/>
<polygon points="1112.2,620.9 1112.2,620.8 1112.6,620.8 1112.9,620.8 1113.3,620.7 1113.7,620.7 1114.1,620.7 1114.5,620.6 1114.9,620.6 1115.3,620.6 1115.6,620.5 1116.0,620.4 1116.4,620.4 1116.8,620.3 1117.2,620.2 1117.6,620.1 1118.0,620.0 1118.3,619.9 1118.7,619.7 1119.1,619.6 1119.5,619.4 1119.9,619.2 1120.3,619.0 1120.7,618.8 1121.0,618.5 1121.4,618.3 1121.8,618.0 1122.2,617.7 1122.6,617.3 1123.0,617.0 1123.3,616.6 1123.7,616.2 1124.1,615.7 1124.5,615.3 1124.9,614.8 1125.3,614.3 1125.7,613.8 1126.0,613.3 1126.4,612.8 1126.8,612.2 1127.2,611.7 1127.6,611.1 1128.0,610.5 1128.4,610.0 1128.7,609.4 1129.1,608.9 1129.5,608.3 1129.9,607.8 1130.3,607.3 1130.7,606.8 1131.1,606.4 1131.4,605.9 1131.8,605.5 1132.2,605.2 1132.6,604.9 1133.0,604.6 1133.4,604.4 1133.7,604.3 1134.1,604.1 1134.5,604.1 1134.9,604.1 1135.3,604.1 1135.7,604.2 1136.1,604.3 1136.4,604.5 1136.8,604.8 1137.2,605.0 1137.6,605.4 1138.0,605.7 1138.4,606.1 1138.8,606.6 1139.1,607.0 1139.5,607.5 1139.9,608.0 1140.3,608.6 1140.7,609.1 1141.1,609.7 1141.5,610.2 1141.8,610.8 1142.2,611.4 1142.6,611.9 1143.0,612.5 1143.4,613.0 1143.8,613.6 1144.2,614.1 1144.5,614.6 1144.9,615.1 1145.3,615.5 1145.7,615.9 1146.1,616.4 1146.5,616.7 1146.8,617.1 1147.2,617.5 1147.6,617.8 1148.0,618.1 1148.4,618.3 1148.8,618.6 1149.2,618.8 1149.5,619.0 1149.9,619.2 1150.3,619.3 1150.7,619.5 1151.1,619.6 1151.5,619.7 1151.9,619.7 1152.2,619.8 1152.6,619.8 1153.0,619.9 1153.4,619.9 1153.8,619.9 1154.2,619.8 1154.6,619.8 1154.9,619.7 1155.3,619.7 1155.7,619.6 1156.1,619.5 1156.5,619.3 1156.9,619.2 1157.3,619.1 1157.6,618.9 1158.0,618.7 1158.4,618.5 1158.8,618.3 1159.2,618.1 1159.6,617.8 1159.9,617.6 1160.3,617.3 1160.7,617.0 1161.1,616.8 1161.5,616.5 1161.9,616.2 1162.3,615.9 1162.6,615.5 1163.0,615.2 1163.4,614.9 1163.8,614.6 1164.2,614.3 1164.6,614.0 1165.0,613.7 1165.3,613.4 1165.7,613.1 1166.1,612.9 1166.5,612.7 1166.9,612.4 1167.3,612.2 1167.7,612.1 1168.0,611.9 1168.4,611.8 1168.8,611.7 1169.2,611.6 1169.6,611.5 1170.0,611.5 1170.3,611.5 1170.7,611.5 1171.1,611.6 1171.5,611.6 1171.9,611.7 1172.3,611.9 1172.7,612.0 1173.0,612.1 1173.4,612.3 1173.8,612.5 1174.2,612.7 1174.6,612.8 1175.0,613.0 1175.4,613.2 1175.7,613.4 1176.1,613.5 1176.5,613.6 1176.9,613.7 1177.3,613.8 1177.7,613.9 1178.1,613.9 1178.4,613.8 1178.8,613.7 1179.2,613.6 1179.6,613.4 1180.0,613.2 1180.4,612.8 1180.8,612.4 1181.1,612.0 1181.5,611.4 1181.9,610.8 1182.3,610.1 1182.7,609.3 1183.1,608.4 1183.4,607.4 1183.8,606.3 1184.2,605.1 1184.6,603.9 1185.0,602.5 1185.4,601.1 1185.8,599.5 1186.1,597.9 1186.5,596.2 1186.9,594.4 1187.3,592.6 1187.7,590.7 1188.1,588.7 1188.5,586.7 1188.8,584.6 1189.2,582.5 1189.6,580.4 1190.0,578.2 1190.4,576.1 1190.8,573.9 1191.2,571.8 1191.5,569.7 1191.9,567.6 1192.3,565.5 1192.7,563.5 1193.1,561.6 1193.5,559.7 1193.9,557.9 1194.2,556.1 1194.6,554.5 1195.0,552.9 1195.4,551.4 1195.8,550.0 1196.2,548.6 1196.5,547.4 1196.9,546.3 1197.3,545.2 1197.7,544.3 1198.1,543.4 1198.5,542.6 1198.9,542.0 1199.2,541.4 1199.6,540.9 1200.0,540.5 1200.4,540.1 1200.8,539.9 1201.2,539.8 1201.6,539.7 1201.9,539.7 1202.3,539.9 1202.7,540.1 1203.1,540.4 1203.5,540.7 1203.9,541.2 1204.3,541.7 1204.6,542.4 1205.0,543.1 1205.4,543.9 1205.8,544.7 1206.2,545.7 1206.6,546.7 1206.9,547.8 1207.3,548.9 1207.7,550.1 1208.1,551.3 1208.5,552.5 1208.9,553.7 1209.3,555.0 1209.6,556.2 1210.0,557.4 1210.4,558.6 1210.8,559.7 1211.2,560.7 1211.6,561.7 1212.0,562.5 1212.3,563.2 1212.7,563.8 1213.1,564.3 1213.5,564.6 1213.9,564.7 1214.3,564.6 1214.7,564.4 1215.0,563.9 1215.4,563.3 1215.8,562.4 1216.2,561.3 1216.6,560.1 1217.0,558.6 1217.4,556.9 1217.7,555.0 1218.1,553.0 1218.5,550.7 1218.9,548.2 1219.3,545.6 1219.7,542.9 1220.0,539.9 1220.4,536.9 1220.8,533.7 1221.2,530.4 1221.6,527.0 1222.0,523.4 1222.4,519.8 1222.7,516.1 1223.1,512.3 1223.5,508.4 1223.9,504.4 1224.3,500.4 1224.7,496.3 1225.1,492.0 1225.4,487.7 1225.8,483.3 1226.2,478.8 1226.6,474.2 1227.0,469.5 1227.4,464.6 1227.8,459.7 1228.1,454.5 1228.5,449.3 1228.9,443.9 1229.3,438.4 1229.7,432.7 1230.1,426.9 1230.5,420.9 1230.8,414.9 1231.2,408.6 1231.6,402.3 1232.0,395.9 1232.4,389.4 1232.8,382.8 1233.1,376.2 1233.5,369.5 1233.9,362.8 1234.3,356.2 1234.7,349.5 1235.1,342.9 1235.5,336.4 1235.8,330.0 1236.2,323.7 1236.6,317.6 1237.0,311.6 1237.4,305.7 1237.8,300.1 1238.2,294.6 1238.5,289.4 1238.9,284.3 1239.3,279.5 1239.7,274.9 1240.1,270.5 1240.5,266.3 1240.9,262.3 1241.2,258.6 1241.6,255.1 1242.0,251.7 1242.4,248.6 1242.8,245.7 1243.2,243.0 1243.5,240.5 1243.9,238.2 1244.3,236.1 1244.7,234.2 1245.1,232.5 1245.5,231.0 1245.9,229.7 1246.2,228.6 1246.6,227.8 1247.0,227.2 1247.4,226.8 1247.8,226.7 1248.2,226.9 1248.6,227.3 1248.9,228.0 1249.3,229.0 1249.7,230.2 1250.1,231.8 1250.5,233.7 1250.9,235.9 1251.3,238.4 1251.6,241.2 1252.0,244.3 1252.4,247.6 1252.8,251.3 1253.2,255.3 1253.6,259.5 1254.0,264.0 1254.3,268.8 1254.7,273.8 1255.1,279.0 1255.5,284.4 1255.9,290.0 1256.3,295.8 1256.6,301.7 1257.0,307.8 1257.4,314.0 1257.8,320.4 1258.2,326.9 1258.6,333.4 1259.0,340.1 1259.3,346.8 1259.7,353.6 1260.1,360.5 1260.5,367.5 1260.9,374.5 1261.3,381.5 1261.7,388.6 1262.0,395.7 1262.4,402.9 1262.8,410.0 1263.2,417.2 1263.6,424.3 1264.0,431.5 1264.4,438.6 1264.7,445.7 1265.1,452.7 1265.5,459.7 1265.9,466.6 1266.3,473.4 1266.7,480.1 1267.1,486.7 1267.4,493.1 1267.8,499.4 1268.2,505.5 1268.6,511.5 1269.0,517.2 1269.4,522.7 1269.7,528.0 1270.1,533.1 1270.5,538.0 1270.9,542.5 1271.3,546.9 1271.7,551.0 1272.1,554.8 1272.4,558.4 1272.8,561.7 1273.2,564.8 1273.6,567.7 1274.0,570.3 1274.4,572.7 1274.8,574.9 1275.1,576.9 1275.5,578.7 1275.9,580.3 1276.3,581.8 1276.7,583.2 1277.1,584.4 1277.5,585.6 1277.8,586.6 1278.2,587.5 1278.6,588.4 1279.0,589.2 1279.4,590.0 1279.8,590.8 1280.1,591.5 1280.5,592.3 1280.9,593.0 1281.3,593.7 1281.7,594.4 1282.1,595.2 1282.5,595.9 1282.8,596.7 1283.2,597.5 1283.6,598.3 1284.0,599.1 1284.4,599.9 1284.8,600.8 1285.2,601.7 1285.5,602.5 1285.9,603.4 1286.3,604.3 1286.7,605.2 1287.1,606.0 1287.5,606.9 1287.9,607.8 1288.2,608.6 1288.6,609.4 1289.0,610.2 1289.4,611.0 1289.8,611.7 1290.2,612.4 1290.6,613.1 1290.9,613.7 1291.3,614.3 1291.7,614.9 1292.1,615.5 1292.5,616.0 1292.9,616.4 1293.2,616.9 1293.6,617.3 1294.0,617.7 1294.4,618.0 1294.8,618.3 1295.2,618.6 1295.6,618.9 1295.9,619.1 1296.3,619.3 1296.7,619.5 1297.1,619.7 1297.5,619.8 1297.9,620.0 1298.3,620.1 1298.6,620.2 1299.0,620.3 1299.4,620.4 1299.8,620.5 1300.2,620.5 1300.6,620.6 1301.0,620.6 1301.3,620.7 1301.7,620.7 1302.1,620.7 1302.5,620.7 1302.9,620.8 1303.3,620.8 1303.7,620.8 1304.0,620.8 1304.4,620.8 1304.4,620.9" fill="#bfbf00" fill-opacity="0.25"/>
<polygon points="1219.4,620.9 1219.4,620.8 1219.5,620.8 1219.5,620.8 1219.6,620.8 1219.7,620.8 1219.7,620.7 1219.8,620.7 1219.9,620.7 1219.9,620.7 1220.0,620.7 1220.1,620.6 1220.2,620.6 1220.2,620.6 1220.3,620.5 1220.4,620.5 1220.4,620.4 1220.5,620.4 1220.6,620.3 1220.6,620.2 1220.7,620.2 1220.8,620.1 1220.8,620.0 1220.9,619.9 1221.0,619.8 1221.0,619.7 1221.1,619.5 1221.2,619.4 1221.3,619.2 1221.3,619.1 1221.4,618.9 1221.5,618.7 1221.5,618.5 1221.6,618.2 1221.7,618.0 1221.7,617.7 1221.8,617.4 1221.9,617.1 1221.9,616.8 1222.0,616.5 1222.1,616.1 1222.2,615.7 1222.2,615.3 1222.3,614.9 1222.4,614.4 1222.4,613.9 1222.5,613.4 1222.6,612.9 1222.6,612.4 1222.7,611.8 1222.8,611.2 1222.8,610.6 1222.9,609.9 1223.0,609.2 1223.0,608.5 1223.1,607.8 1223.2,607.1 1223.3,606.3 1223.3,605.6 1223.4,604.8 1223.5,604.0 1223.5,603.2 1223.6,602.3 1223.7,601.5 1223.7,600.7 1223.8,599.8 1223.9,599.0 1223.9,598.1 1224.0,597.3 1224.1,596.5 1224.2,595.7 1224.2,594.8 1224.3,594.1 1224.4,593.3 1224.4,592.5 1224.5,591.8 1224.6,591.1 1224.6,590.4 1224.7,589.8 1224.8,589.2 1224.8,588.6 1224.9,588.1 1225.0,587.6 1225.1,587.2 1225.1,586.8 1225.2,586.5 1225.3,586.2 1225.3,586.0 1225.4,585.8 1225.5,585.7 1225.5,585.6 1225.6,585.6 1225.7,585.6 1225.7,585.7 1225.8,585.8 1225.9,586.0 1225.9,586.3 1226.0,586.6 1226.1,586.9 1226.2,587.3 1226.2,587.8 1226.3,588.3 1226.4,588.8 1226.4,589.4 1226.5,590.0 1226.6,590.7 1226.6,591.3 1226.7,592.0 1226.8,592.8 1226.8,593.5 1226.9,594.3 1227.0,595.1 1227.1,595.9 1227.1,596.8 1227.2,597.6 1227.3,598.4 1227.3,599.3 1227.4,600.1 1227.5,600.9 1227.5,601.8 1227.6,602.6 1227.7,603.4 1227.7,604.2 1227.8,605.0 1227.9,605.8 1227.9,606.6 1228.0,607.3 1228.1,608.1 1228.2,608.8 1228.2,609.5 1228.3,610.1 1228.4,610.8 1228.4,611.4 1228.5,612.0 1228.6,612.5 1228.6,613.1 1228.7,613.6 1228.8,614.1 1228.8,614.6 1228.9,615.0 1229.0,615.5 1229.1,615.9 1229.1,616.2 1229.2,616.6 1229.3,616.9 1229.3,617.2 1229.4,617.5 1229.5,617.8 1229.5,618.1 1229.6,618.3 1229.7,618.5 1229.7,618.7 1229.8,618.9 1229.9,619.1 1229.9,619.3 1230.0,619.4 1230.1,619.6 1230.2,619.7 1230.2,619.8 1230.3,619.9 1230.4,620.0 1230.4,620.1 1230.5,620.2 1230.6,620.3 1230.6,620.3 1230.7,620.4 1230.8,620.4 1230.8,620.5 1230.9,620.5 1231.0,620.6 1231.1,620.6 1231.1,620.6 1231.2,620.7 1231.3,620.7 1231.3,620.7 1231.4,620.7 1231.5,620.8 1231.5,620.8 1231.6,620.8 1231.7,620.8 1231.7,620.8 1231.8,620.8 1231.9,620.8 1231.9,620.8 1232.0,620.8 1232.1,620.8 1232.2,620.8 1232.2,620.9 1232.3,620.9 1232.4,620.9 1232.4,620.9 1232.5,620.9 1232.6,620.9 1232.6,620.9 1232.7,620.9 1232.8,620.9 1232.8,620.9 1232.9,620.9 1233.0,620.9 1233.1,620.9 1233.1,620.9 1233.1,620.9" fill="#008000" fill-opacity="0.25"/>
<polygon points="1232.5,620.9 1232.5,620.9 1232.5,620.8 1232.5,620.7 1232.6,620.4 1232.7,620.1 1232.8,619.6 1232.9,619.0 1233.0,618.4 1233.2,617.6 1233.3,616.8 1233.5,615.8 1233.7,614.7 1233.9,613.5 1234.1,612.3 1234.2,610.9 1234.4,609.4 1234.5,607.8 1234.7,606.2 1234.9,604.4 1235.0,602.5 1235.2,600.5 1235.3,598.4 1235.5,596.2 1235.6,594.0 1235.7,591.6 1235.9,589.1 1236.0,586.5 1236.2,583.8 1236.3,581.0 1236.4,578.1 1236.6,575.1 1236.7,572.0 1236.8,568.8 1236.9,565.4 1237.0,562.0 1237.1,558.5 1237.3,554.9 1237.4,551.2 1237.5,547.4 1237.6,543.5 1237.7,539.4 1237.9,535.3 1238.0,531.1 1238.1,526.8 1238.2,522.3 1238.3,517.8 1238.4,513.2 1238.5,508.4 1238.5,503.6 1238.6,498.7 1238.7,493.6 1238.7,488.5 1238.8,483.2 1238.8,477.9 1238.9,472.4 1238.9,466.9 1238.9,461.2 1238.9,455.5 1239.0,449.6 1239.0,443.7 1239.1,437.6 1239.2,431.5 1239.3,425.2 1239.4,418.8 1239.6,412.4 1239.6,405.8 1239.7,399.1 1239.8,392.4 1239.9,385.5 1240.0,378.5 1240.0,371.4 1240.1,364.3 1240.2,357.0 1240.2,349.6 1240.3,342.1 1240.3,334.5 1240.4,326.8 1240.4,319.1 1240.5,311.2 1240.5,303.2 1240.5,295.1 1240.6,286.9 1240.6,278.6 1240.7,270.2 1240.7,261.7 1240.7,253.1 1240.8,244.4 1240.8,235.6 1240.8,226.7 1240.8,217.7 1240.9,208.5 1240.9,199.3 1240.9,190.0 1241.0,180.6 1241.0,171.1 1241.0,161.5 1241.0,151.7 1241.0,141.9 1241.1,132.0 1241.1,122.0 1241.1,111.8 1241.1,101.6 1241.1,91.3 1241.2,80.8 1241.2,70.3 1241.2,59.6 1241.2,48.9 1241.2,38.1 1241.2,27.1 1241.3,16.1 1241.3,4.9 1241.3,-6.3 1241.3,-17.7 1241.4,-19.6 1241.4,-19.6 1241.4,-19.6 1241.4,-19.6 1241.5,-19.6 1241.5,-19.6 1241.5,-19.6 1254.0,-19.6 1254.0,-19.6 1254.1,-19.6 1254.1,-19.6 1254.2,-19.6 1254.2,-19.6 1254.3,-19.6 1254.3,-17.7 1254.3,-6.3 1254.3,4.9 1254.3,16.1 1254.3,27.1 1254.3,38.1 1254.3,48.9 1254.3,59.6 1254.3,70.3 1254.3,80.8 1254.3,91.3 1254.3,101.6 1254.3,111.8 1254.3,122.0 1254.4,132.0 1254.4,141.9 1254.5,151.7 1254.6,161.5 1254.7,171.1 1254.9,180.6 1255.0,190.0 1255.1,199.3 1255.1,208.5 1255.2,217.7 1255.2,226.7 1255.3,235.6 1255.3,244.4 1255.4,253.1 1255.4,261.7 1255.4,270.2 1255.5,278.6 1255.5,286.9 1255.6,295.1 1255.6,303.2 1255.6,311.2 1255.7,319.1 1255.7,326.8 1255.8,334.5 1255.9,342.1 1256.0,349.6 1256.1,357.0 1256.2,364.3 1256.3,371.4 1256.4,378.5 1256.5,385.5 1256.6,392.4 1256.8,399.1 1256.9,405.8 1257.0,412.4 1257.1,418.8 1257.2,425.2 1257.2,431.5 1257.3,437.6 1257.4,443.7 1257.5,449.6 1257.5,455.5 1257.6,461.2 1257.7,466.9 1257.7,472.4 1257.8,477.9 1257.8,483.2 1257.9,488.5 1257.9,493.6 1258.0,498.7 1258.1,503.6 1258.3,508.4 1258.5,513.2 1258.6,517.8 1258.7,522.3 1258.8,526.8 1258.9,531.1 1259.0,535.3 1259.1,539.4 1259.2,543.5 1259.3,547.4 1259.4,551.2 1259.5,554.9 1259.6,558.5 1259.7,562.0 1259.8,565.4 1259.9,568.8 1260.0,572.0 1260.1,575.1 1260.2,578.1 1260.3,581.0 1260.4,583.8 1260.5,586.5 1260.6,589.1 1260.8,591.6 1260.9,594.0 1261.0,596.2 1261.1,598.4 1261.3,600.5 1261.4,602.5 1261.5,604.4 1261.7,606.2 1261.8,607.8 1261.9,609.4 1262.0,610.9 1262.2,612.3 1262.3,613.5 1262.5,614.7 1262.6,615.8 1262.8,616.8 1263.0,617.6 1263.2,618.4 1263.4,619.0 1263.5,619.6 1263.6,620.1 1263.7,620.4 1263.8,620.7 1263.8,620.8 1263.8,620.9 1263.8,620.9" fill="#008000" fill-opacity="0.25"/>
<polyline points="940.9,620.2 942.0,620.1 943.2,620.1 944.3,620.0 945.5,619.9 946.7,619.8 947.8,619.7 949.0,619.6 950.2,619.5 951.3,619.4 952.5,619.3 953.6,619.2 954.8,619.0 956.0,618.9 957.1,618.7 958.3,618.6 959.5,618.4 960.6,618.2 961.8,618.0 962.9,617.8 964.1,617.6 965.3,617.4 966.4,617.1 967.6,616.9 968.8,616.6 969.9,616.3 971.1,616.0 972.2,615.7 973.4,615.4 974.6,615.1 975.7,614.7 976.9,614.3 978.1,613.9 979.2,613.5 980.4,613.1 981.5,612.7 982.7,612.2 983.9,611.8 985.0,611.3 986.2,610.8 987.4,610.3 988.5,609.8 989.7,609.2 990.8,608.7 992.0,608.1 993.2,607.5 994.3,606.9 995.5,606.3 996.7,605.7 997.8,605.0 999.0,604.4 1000.1,603.7 1001.3,603.1 1002.5,602.4 1003.6,601.7 1004.8,601.0 1006.0,600.3 1007.1,599.6 1008.3,598.9 1009.5,598.2 1010.6,597.5 1011.8,596.8 1012.9,596.1 1014.1,595.4 1015.3,594.7 1016.4,594.0 1017.6,593.3 1018.8,592.6 1019.9,592.0 1021.1,591.3 1022.2,590.7 1023.4,590.0 1024.6,589.4 1025.7,588.8 1026.9,588.2 1028.1,587.6 1029.2,587.1 1030.4,586.6 1031.5,586.0 1032.7,585.6 1033.9,585.1 1035.0,584.7 1036.2,584.2 1037.4,583.8 1038.5,583.5 1039.7,583.1 1040.8,582.8 1042.0,582.6 1043.2,582.3 1044.3,582.1 1045.5,581.9 1046.7,581.7 1047.8,581.5 1049.0,581.4 1050.1,581.3 1051.3,581.3 1052.5,581.2 1053.6,581.2 1054.8,581.2 1056.0,581.3 1057.1,581.3 1058.3,581.4 1059.4,581.5 1060.6,581.7 1061.8,581.8 1062.9,582.0 1064.1,582.2 1065.3,582.4 1066.4,582.6 1067.6,582.8 1068.7,583.1 1069.9,583.3 1071.1,583.6 1072.2,583.9 1073.4,584.2 1074.6,584.5 1075.7,584.8 1076.9,585.1 1078.0,585.4 1079.2,585.7 1080.4,586.0 1081.5,586.3 1082.7,586.7 1083.9,587.0 1085.0,587.3 1086.2,587.6 1087.3,587.9 1088.5,588.1 1089.7,588.4 1090.8,588.7 1092.0,588.9 1093.2,589.2 1094.3,589.4 1095.5,589.7 1096.6,589.9 1097.8,590.1 1099.0,590.2 1100.1,590.4 1101.3,590.6 1102.5,590.7 1103.6,590.8 1104.8,590.9 1105.9,591.0 1107.1,591.1 1108.3,591.1 1109.4,591.1 1110.6,591.1 1111.8,591.1 1112.9,591.1 1114.1,591.0 1115.2,590.9 1116.4,590.8 1117.6,590.7 1118.7,590.6 1119.9,590.4 1121.1,590.2 1122.2,590.0 1123.4,589.8 1124.5,589.5 1125.7,589.2 1126.9,588.9 1128.0,588.6 1129.2,588.3 1130.4,587.9 1131.5,587.5 1132.7,587.1 1133.9,586.7 1135.0,586.2 1136.2,585.7 1137.3,585.2 1138.5,584.7 1139.7,584.2 1140.8,583.6 1142.0,583.0 1143.2,582.5 1144.3,581.8 1145.5,581.2 1146.6,580.6 1147.8,579.9 1149.0,579.2 1150.1,578.5 1151.3,577.8 1152.5,577.1 1153.6,576.3 1154.8,575.6 1155.9,574.8 1157.1,574.0 1158.3,573.2 1159.4,572.4 1160.6,571.6 1161.8,570.8 1162.9,570.0 1164.1,569.2 1165.2,568.3 1166.4,567.5 1167.6,566.7 1168.7,565.8 1169.9,565.0 1171.1,564.1 1172.2,563.3 1173.4,562.4 1174.5,561.6 1175.7,560.7 1176.9,559.9 1178.0,559.1 1179.2,558.2 1180.4,557.4 1181.5,556.6 1182.7,555.7 1183.8,554.9 1185.0,554.1 1186.2,553.3 1187.3,552.5 1188.5,551.8 1189.7,551.0 1190.8,550.2 1192.0,549.5 1193.1,548.7 1194.3,548.0 1195.5,547.3 1196.6,546.6 1197.8,545.9 1199.0,545.2 1200.1,544.6 1201.3,544.0 1202.4,543.3 1203.6,542.7 1204.8,542.1 1205.9,541.6 1207.1,541.0 1208.3,540.5 1209.4,540.0 1210.6,539.5 1211.7,539.1 1212.9,538.6 1214.1,538.2 1215.2,537.8 1216.4,537.5 1217.6,537.2 1218.7,536.9 1219.9,536.6 1221.0,536.4 1222.2,536.2 1223.4,536.0 1224.5,535.8 1225.7,535.7 1226.9,535.7 1228.0,535.6 1229.2,535.6 1230.3,535.7 1231.5,535.7 1232.7,535.9 1233.8,536.0 1235.0,536.2 1236.2,536.4 1237.3,536.7 1238.5,537.0 1239.6,537.3 1240.8,537.7 1242.0,538.1 1243.1,538.6 1244.3,539.1 1245.5,539.6 1246.6,540.2 1247.8,540.8 1248.9,541.5 1250.1,542.2 1251.3,542.9 1252.4,543.6 1253.6,544.4 1254.8,545.3 1255.9,546.1 1257.1,547.0 1258.3,547.9 1259.4,548.9 1260.6,549.8 1261.7,550.8 1262.9,551.8 1264.1,552.9 1265.2,554.0 1266.4,555.0 1267.6,556.1 1268.7,557.3 1269.9,558.4 1271.0,559.5 1272.2,560.7 1273.4,561.9 1274.5,563.1 1275.7,564.3 1276.9,565.4 1278.0,566.6 1279.2,567.9 1280.3,569.1 1281.5,570.3 1282.7,571.5 1283.8,572.7 1285.0,573.9 1286.2,575.1 1287.3,576.3 1288.5,577.4 1289.6,578.6 1290.8,579.8 1292.0,580.9 1293.1,582.1 1294.3,583.2 1295.5,584.3 1296.6,585.4 1297.8,586.5 1298.9,587.6 1300.1,588.7 1301.3,589.7 1302.4,590.7 1303.6,591.7 1304.8,592.7 1305.9,593.7 1307.1,594.7 1308.2,595.6 1309.4,596.5 1310.6,597.4 1311.7,598.3 1312.9,599.1 1314.1,600.0 1315.2,600.8 1316.4,601.6 1317.5,602.3 1318.7,603.1 1319.9,603.8 1321.0,604.5 1322.2,605.2 1323.4,605.9 1324.5,606.5 1325.7,607.1 1326.8,607.8 1328.0,608.3 1329.2,608.9 1330.3,609.4 1331.5,610.0 1332.7,610.5 1333.8,611.0 1335.0,611.4 1336.1,611.9 1337.3,612.3 1338.5,612.7 1339.6,613.1 1340.8,613.5 1342.0,613.9 1343.1,614.2 1344.3,614.6 1345.4,614.9 1346.6,615.2 1347.8,615.4 1348.9,615.7 1350.1,616.0 1351.3,616.2 1352.4,616.4 1353.6,616.7 1354.7,616.9 1355.9,617.1 1357.1,617.2 1358.2,617.4 1359.4,617.6 1360.6,617.7 1361.7,617.8 1362.9,618.0 1364.0,618.1 1365.2,618.2 1366.4,618.3 1367.5,618.4 1368.7,618.5 1369.9,618.6 1371.0,618.6 1372.2,618.7 1373.4,618.8 1374.5,618.8 1375.7,618.9 1376.8,618.9 1378.0,618.9 1379.2,619.0 1380.3,619.0 1381.5,619.0 1382.7,619.0 1383.8,619.1 1385.0,619.1 1386.1,619.1 1387.3,619.1 1388.5,619.1 1389.6,619.1 1390.8,619.1 1392.0,619.1 1393.1,619.1 1394.3,619.1 1395.4,619.1 1396.6,619.1 1397.8,619.1 1398.9,619.1 1400.1,619.1 1401.3,619.1 1402.4,619.1 1403.6,619.1 1404.7,619.1 1405.9,619.1 1407.1,619.1 1408.2,619.1 1409.4,619.1 1410.6,619.1 1411.7,619.1 1412.9,619.1 1414.0,619.1 1415.2,619.1 1416.4,619.1 1417.5,619.1 1418.7,619.1 1419.9,619.1 1421.0,619.1 1422.2,619.1 1423.3,619.2 1424.5,619.2 1425.7,619.2 1426.8,619.2 1428.0,619.2 1429.2,619.2 1430.3,619.2 1431.5,619.2 1432.6,619.3 1433.8,619.3 1435.0,619.3 1436.1,619.3 1437.3,619.3 1438.5,619.4 1439.6,619.4 1440.8,619.4 1441.9,619.4 1443.1,619.4 1444.3,619.4 1445.4,619.5 1446.6,619.5 1447.8,619.5 1448.9,619.5 1450.1,619.5 1451.2,619.6 1452.4,619.6 1453.6,619.6 1454.7,619.6 1455.9,619.6 1457.1,619.6 1458.2,619.7 1459.4,619.7 1460.5,619.7 1461.7,619.7 1462.9,619.7 1464.0,619.7 1465.2,619.7 1466.4,619.8 1467.5,619.8 1468.7,619.8 1469.8,619.8 1471.0,619.8 1472.2,619.8 1473.3,619.8 1474.5,619.8 1475.7,619.8 1476.8,619.9 1478.0,619.9 1479.1,619.9 1480.3,619.9 1481.5,619.9 1482.6,619.9 1483.8,619.9 1485.0,619.9 1486.1,619.9 1487.3,619.9 1488.4,619.9 1489.6,619.9 1490.8,619.9 1491.9,619.9 1493.1,620.0 1494.3,620.0 1495.4,620.0 1496.6,620.0 1497.8,620.0 1498.9,620.0 1500.1,620.0 1501.2,620.0 1502.4,620.0 1503.6,620.0 1504.7,620.0 1505.9,620.0 1507.1,620.1 1508.2,620.1 1509.4,620.1 1510.5,620.1 1511.7,620.1 1512.9,620.1 1514.0,620.1 1515.2,620.1 1516.4,620.2 1517.5,620.2 1518.7,620.2 1519.8,620.2 1521.0,620.2" fill="none" stroke="#4682b4" stroke-width="1.85" stroke-linejoin="round"/>
<polyline points="1112.2,620.8 1112.6,620.8 1112.9,620.8 1113.3,620.7 1113.7,620.7 1114.1,620.7 1114.5,620.6 1114.9,620.6 1115.3,620.6 1115.6,620.5 1116.0,620.4 1116.4,620.4 1116.8,620.3 1117.2,620.2 1117.6,620.1 1118.0,620.0 1118.3,619.9 1118.7,619.7 1119.1,619.6 1119.5,619.4 1119.9,619.2 1120.3,619.0 1120.7,618.8 1121.0,618.5 1121.4,618.3 1121.8,618.0 1122.2,617.7 1122.6,617.3 1123.0,617.0 1123.3,616.6 1123.7,616.2 1124.1,615.7 1124.5,615.3 1124.9,614.8 1125.3,614.3 1125.7,613.8 1126.0,613.3 1126.4,612.8 1126.8,612.2 1127.2,611.7 1127.6,611.1 1128.0,610.5 1128.4,610.0 1128.7,609.4 1129.1,608.9 1129.5,608.3 1129.9,607.8 1130.3,607.3 1130.7,606.8 1131.1,606.4 1131.4,605.9 1131.8,605.5 1132.2,605.2 1132.6,604.9 1133.0,604.6 1133.4,604.4 1133.7,604.3 1134.1,604.1 1134.5,604.1 1134.9,604.1 1135.3,604.1 1135.7,604.2 1136.1,604.3 1136.4,604.5 1136.8,604.8 1137.2,605.0 1137.6,605.4 1138.0,605.7 1138.4,606.1 1138.8,606.6 1139.1,607.0 1139.5,607.5 1139.9,608.0 1140.3,608.6 1140.7,609.1 1141.1,609.7 1141.5,610.2 1141.8,610.8 1142.2,611.4 1142.6,611.9 1143.0,612.5 1143.4,613.0 1143.8,613.6 1144.2,614.1 1144.5,614.6 1144.9,615.1 1145.3,615.5 1145.7,615.9 1146.1,616.4 1146.5,616.7 1146.8,617.1 1147.2,617.5 1147.6,617.8 1148.0,618.1 1148.4,618.3 1148.8,618.6 1149.2,618.8 1149.5,619.0 1149.9,619.2 1150.3,619.3 1150.7,619.5 1151.1,619.6 1151.5,619.7 1151.9,619.7 1152.2,619.8 1152.6,619.8 1153.0,619.9 1153.4,619.9 1153.8,619.9 1154.2,619.8 1154.6,619.8 1154.9,619.7 1155.3,619.7 1155.7,619.6 1156.1,619.5 1156.5,619.3 1156.9,619.2 1157.3,619.1 1157.6,618.9 1158.0,618.7 1158.4,618.5 1158.8,618.3 1159.2,618.1 1159.6,617.8 1159.9,617.6 1160.3,617.3 1160.7,617.0 1161.1,616.8 1161.5,616.5 1161.9,616.2 1162.3,615.9 1162.6,615.5 1163.0,615.2 1163.4,614.9 1163.8,614.6 1164.2,614.3 1164.6,614.0 1165.0,613.7 1165.3,613.4 1165.7,613.1 1166.1,612.9 1166.5,612.7 1166.9,612.4 1167.3,612.2 1167.7,612.1 1168.0,611.9 1168.4,611.8 1168.8,611.7 1169.2,611.6 1169.6,611.5 1170.0,611.5 1170.3,611.5 1170.7,611.5 1171.1,611.6 1171.5,611.6 1171.9,611.7 1172.3,611.9 1172.7,612.0 1173.0,612.1 1173.4,612.3 1173.8,612.5 1174.2,612.7 1174.6,612.8 1175.0,613.0 1175.4,613.2 1175.7,613.4 1176.1,613.5 1176.5,613.6 1176.9,613.7 1177.3,613.8 1177.7,613.9 1178.1,613.9 1178.4,613.8 1178.8,613.7 1179.2,613.6 1179.6,613.4 1180.0,613.2 1180.4,612.8 1180.8,612.4 1181.1,612.0 1181.5,611.4 1181.9,610.8 1182.3,610.1 1182.7,609.3 1183.1,608.4 1183.4,607.4 1183.8,606.3 1184.2,605.1 1184.6,603.9 1185.0,602.5 1185.4,601.1 1185.8,599.5 1186.1,597.9 1186.5,596.2 1186.9,594.4 1187.3,592.6 1187.7,590.7 1188.1,588.7 1188.5,586.7 1188.8,584.6 1189.2,582.5 1189.6,580.4 1190.0,578.2 1190.4,576.1 1190.8,573.9 1191.2,571.8 1191.5,569.7 1191.9,567.6 1192.3,565.5 1192.7,563.5 1193.1,561.6 1193.5,559.7 1193.9,557.9 1194.2,556.1 1194.6,554.5 1195.0,552.9 1195.4,551.4 1195.8,550.0 1196.2,548.6 1196.5,547.4 1196.9,546.3 1197.3,545.2 1197.7,544.3 1198.1,543.4 1198.5,542.6 1198.9,542.0 1199.2,541.4 1199.6,540.9 1200.0,540.5 1200.4,540.1 1200.8,539.9 1201.2,539.8 1201.6,539.7 1201.9,539.7 1202.3,539.9 1202.7,540.1 1203.1,540.4 1203.5,540.7 1203.9,541.2 1204.3,541.7 1204.6,542.4 1205.0,543.1 1205.4,543.9 1205.8,544.7 1206.2,545.7 1206.6,546.7 1206.9,547.8 1207.3,548.9 1207.7,550.1 1208.1,551.3 1208.5,552.5 1208.9,553.7 1209.3,555.0 1209.6,556.2 1210.0,557.4 1210.4,558.6 1210.8,559.7 1211.2,560.7 1211.6,561.7 1212.0,562.5 1212.3,563.2 1212.7,563.8 1213.1,564.3 1213.5,564.6 1213.9,564.7 1214.3,564.6 1214.7,564.4 1215.0,563.9 1215.4,563.3 1215.8,562.4 1216.2,561.3 1216.6,560.1 1217.0,558.6 1217.4,556.9 1217.7,555.0 1218.1,553.0 1218.5,550.7 1218.9,548.2 1219.3,545.6 1219.7,542.9 1220.0,539.9 1220.4,536.9 1220.8,533.7 1221.2,530.4 1221.6,527.0 1222.0,523.4 1222.4,519.8 1222.7,516.1 1223.1,512.3 1223.5,508.4 1223.9,504.4 1224.3,500.4 1224.7,496.3 1225.1,492.0 1225.4,487.7 1225.8,483.3 1226.2,478.8 1226.6,474.2 1227.0,469.5 1227.4,464.6 1227.8,459.7 1228.1,454.5 1228.5,449.3 1228.9,443.9 1229.3,438.4 1229.7,432.7 1230.1,426.9 1230.5,420.9 1230.8,414.9 1231.2,408.6 1231.6,402.3 1232.0,395.9 1232.4,389.4 1232.8,382.8 1233.1,376.2 1233.5,369.5 1233.9,362.8 1234.3,356.2 1234.7,349.5 1235.1,342.9 1235.5,336.4 1235.8,330.0 1236.2,323.7 1236.6,317.6 1237.0,311.6 1237.4,305.7 1237.8,300.1 1238.2,294.6 1238.5,289.4 1238.9,284.3 1239.3,279.5 1239.7,274.9 1240.1,270.5 1240.5,266.3 1240.9,262.3 1241.2,258.6 1241.6,255.1 1242.0,251.7 1242.4,248.6 1242.8,245.7 1243.2,243.0 1243.5,240.5 1243.9,238.2 1244.3,236.1 1244.7,234.2 1245.1,232.5 1245.5,231.0 1245.9,229.7 1246.2,228.6 1246.6,227.8 1247.0,227.2 1247.4,226.8 1247.8,226.7 1248.2,226.9 1248.6,227.3 1248.9,228.0 1249.3,229.0 1249.7,230.2 1250.1,231.8 1250.5,233.7 1250.9,235.9 1251.3,238.4 1251.6,241.2 1252.0,244.3 1252.4,247.6 1252.8,251.3 1253.2,255.3 1253.6,259.5 1254.0,264.0 1254.3,268.8 1254.7,273.8 1255.1,279.0 1255.5,284.4 1255.9,290.0 1256.3,295.8 1256.6,301.7 1257.0,307.8 1257.4,314.0 1257.8,320.4 1258.2,326.9 1258.6,333.4 1259.0,340.1 1259.3,346.8 1259.7,353.6 1260.1,360.5 1260.5,367.5 1260.9,374.5 1261.3,381.5 1261.7,388.6 1262.0,395.7 1262.4,402.9 1262.8,410.0 1263.2,417.2 1263.6,424.3 1264.0,431.5 1264.4,438.6 1264.7,445.7 1265.1,452.7 1265.5,459.7 1265.9,466.6 1266.3,473.4 1266.7,480.1 1267.1,486.7 1267.4,493.1 1267.8,499.4 1268.2,505.5 1268.6,511.5 1269.0,517.2 1269.4,522.7 1269.7,528.0 1270.1,533.1 1270.5,538.0 1270.9,542.5 1271.3,546.9 1271.7,551.0 1272.1,554.8 1272.4,558.4 1272.8,561.7 1273.2,564.8 1273.6,567.7 1274.0,570.3 1274.4,572.7 1274.8,574.9 1275.1,576.9 1275.5,578.7 1275.9,580.3 1276.3,581.8 1276.7,583.2 1277.1,584.4 1277.5,585.6 1277.8,586.6 1278.2,587.5 1278.6,588.4 1279.0,589.2 1279.4,590.0 1279.8,590.8 1280.1,591.5 1280.5,592.3 1280.9,593.0 1281.3,593.7 1281.7,594.4 1282.1,595.2 1282.5,595.9 1282.8,596.7 1283.2,597.5 1283.6,598.3 1284.0,599.1 1284.4,599.9 1284.8,600.8 1285.2,601.7 1285.5,602.5 1285.9,603.4 1286.3,604.3 1286.7,605.2 1287.1,606.0 1287.5,606.9 1287.9,607.8 1288.2,608.6 1288.6,609.4 1289.0,610.2 1289.4,611.0 1289.8,611.7 1290.2,612.4 1290.6,613.1 1290.9,613.7 1291.3,614.3 1291.7,614.9 1292.1,615.5 1292.5,616.0 1292.9,616.4 1293.2,616.9 1293.6,617.3 1294.0,617.7 1294.4,618.0 1294.8,618.3 1295.2,618.6 1295.6,618.9 1295.9,619.1 1296.3,619.3 1296.7,619.5 1297.1,619.7 1297.5,619.8 1297.9,620.0 1298.3,620.1 1298.6,620.2 1299.0,620.3 1299.4,620.4 1299.8,620.5 1300.2,620.5 1300.6,620.6 1301.0,620.6 1301.3,620.7 1301.7,620.7 1302.1,620.7 1302.5,620.7 1302.9,620.8 1303.3,620.8 1303.7,620.8 1304.0,620.8 1304.4,620.8" fill="none" stroke="#bfbf00" stroke-width="1.85" stroke-linejoin="round"/>
<polyline points="1219.4,620.8 1219.5,620.8 1219.5,620.8 1219.6,620.8 1219.7,620.8 1219.7,620.7 1219.8,620.7 1219.9,620.7 1219.9,620.7 1220.0,620.7 1220.1,620.6 1220.2,620.6 1220.2,620.6 1220.3,620.5 1220.4,620.5 1220.4,620.4 1220.5,620.4 1220.6,620.3 1220.6,620.2 1220.7,620.2 1220.8,620.1 1220.8,620.0 1220.9,619.9 1221.0,619.8 1221.0,619.7 1221.1,619.5 1221.2,619.4 1221.3,619.2 1221.3,619.1 1221.4,618.9 1221.5,618.7 1221.5,618.5 1221.6,618.2 1221.7,618.0 1221.7,617.7 1221.8,617.4 1221.9,617.1 1221.9,616.8 1222.0,616.5 1222.1,616.1 1222.2,615.7 1222.2,615.3 1222.3,614.9 1222.4,614.4 1222.4,613.9 1222.5,613.4 1222.6,612.9 1222.6,612.4 1222.7,611.8 1222.8,611.2 1222.8,610.6 1222.9,609.9 1223.0,609.2 1223.0,608.5 1223.1,607.8 1223.2,607.1 1223.3,606.3 1223.3,605.6 1223.4,604.8 1223.5,604.0 1223.5,603.2 1223.6,602.3 1223.7,601.5 1223.7,600.7 1223.8,599.8 1223.9,599.0 1223.9,598.1 1224.0,597.3 1224.1,596.5 1224.2,595.7 1224.2,594.8 1224.3,594.1 1224.4,593.3 1224.4,592.5 1224.5,591.8 1224.6,591.1 1224.6,590.4 1224.7,589.8 1224.8,589.2 1224.8,588.6 1224.9,588.1 1225.0,587.6 1225.1,587.2 1225.1,586.8 1225.2,586.5 1225.3,586.2 1225.3,586.0 1225.4,585.8 1225.5,585.7 1225.5,585.6 1225.6,585.6 1225.7,585.6 1225.7,585.7 1225.8,585.8 1225.9,586.0 1225.9,586.3 1226.0,586.6 1226.1,586.9 1226.2,587.3 1226.2,587.8 1226.3,588.3 1226.4,588.8 1226.4,589.4 1226.5,590.0 1226.6,590.7 1226.6,591.3 1226.7,592.0 1226.8,592.8 1226.8,593.5 1226.9,594.3 1227.0,595.1 1227.1,595.9 1227.1,596.8 1227.2,597.6 1227.3,598.4 1227.3,599.3 1227.4,600.1 1227.5,600.9 1227.5,601.8 1227.6,602.6 1227.7,603.4 1227.7,604.2 1227.8,605.0 1227.9,605.8 1227.9,606.6 1228.0,607.3 1228.1,608.1 1228.2,608.8 1228.2,609.5 1228.3,610.1 1228.4,610.8 1228.4,611.4 1228.5,612.0 1228.6,612.5 1228.6,613.1 1228.7,613.6 1228.8,614.1 1228.8,614.6 1228.9,615.0 1229.0,615.5 1229.1,615.9 1229.1,616.2 1229.2,616.6 1229.3,616.9 1229.3,617.2 1229.4,617.5 1229.5,617.8 1229.5,618.1 1229.6,618.3 1229.7,618.5 1229.7,618.7 1229.8,618.9 1229.9,619.1 1229.9,619.3 1230.0,619.4 1230.1,619.6 1230.2,619.7 1230.2,619.8 1230.3,619.9 1230.4,620.0 1230.4,620.1 1230.5,620.2 1230.6,620.3 1230.6,620.3 1230.7,620.4 1230.8,620.4 1230.8,620.5 1230.9,620.5 1231.0,620.6 1231.1,620.6 1231.1,620.6 1231.2,620.7 1231.3,620.7 1231.3,620.7 1231.4,620.7 1231.5,620.8 1231.5,620.8 1231.6,620.8 1231.7,620.8 1231.7,620.8 1231.8,620.8 1231.9,620.8 1231.9,620.8 1232.0,620.8 1232.1,620.8 1232.2,620.8 1232.2,620.9 1232.3,620.9 1232.4,620.9 1232.4,620.9 1232.5,620.9 1232.6,620.9 1232.6,620.9 1232.7,620.9 1232.8,620.9 1232.8,620.9 1232.9,620.9 1233.0,620.9 1233.1,620.9 1233.1,620.9" fill="none" stroke="#008000" stroke-width="1.85" stroke-linejoin="round"/>
<polyline points="1232.5,620.9 1232.5,620.8 1232.5,620.7 1232.6,620.4 1232.7,620.1 1232.8,619.6 1232.9,619.0 1233.0,618.4 1233.2,617.6 1233.3,616.8 1233.5,615.8 1233.7,614.7 1233.9,613.5 1234.1,612.3 1234.2,610.9 1234.4,609.4 1234.5,607.8 1234.7,606.2 1234.9,604.4 1235.0,602.5 1235.2,600.5 1235.3,598.4 1235.5,596.2 1235.6,594.0 1235.7,591.6 1235.9,589.1 1236.0,586.5 1236.2,583.8 1236.3,581.0 1236.4,578.1 1236.6,575.1 1236.7,572.0 1236.8,568.8 1236.9,565.4 1237.0,562.0 1237.1,558.5 1237.3,554.9 1237.4,551.2 1237.5,547.4 1237.6,543.5 1237.7,539.4 1237.9,535.3 1238.0,531.1 1238.1,526.8 1238.2,522.3 1238.3,517.8 1238.4,513.2 1238.5,508.4 1238.5,503.6 1238.6,498.7 1238.7,493.6 1238.7,488.5 1238.8,483.2 1238.8,477.9 1238.9,472.4 1238.9,466.9 1238.9,461.2 1238.9,455.5 1239.0,449.6 1239.0,443.7 1239.1,437.6 1239.2,431.5 1239.3,425.2 1239.4,418.8 1239.6,412.4 1239.6,405.8 1239.7,399.1 1239.8,392.4 1239.9,385.5 1240.0,378.5 1240.0,371.4 1240.1,364.3 1240.2,357.0 1240.2,349.6 1240.3,342.1 1240.3,334.5 1240.4,326.8 1240.4,319.1 1240.5,311.2 1240.5,303.2 1240.5,295.1 1240.6,286.9 1240.6,278.6 1240.7,270.2 1240.7,261.7 1240.7,253.1 1240.8,244.4 1240.8,235.6 1240.8,226.7 1240.8,217.7 1240.9,208.5 1240.9,199.3 1240.9,190.0 1241.0,180.6 1241.0,171.1 1241.0,161.5 1241.0,151.7 1241.0,141.9 1241.1,132.0 1241.1,122.0 1241.1,111.8 1241.1,101.6 1241.1,91.3 1241.2,80.8 1241.2,70.3 1241.2,59.6 1241.2,48.9 1241.2,38.1 1241.2,27.1 1241.3,16.1 1241.3,4.9 1241.3,-6.3 1241.3,-17.7 1241.4,-19.6 1241.4,-19.6 1241.4,-19.6 1241.4,-19.6 1241.5,-19.6 1241.5,-19.6 1241.5,-19.6 1254.0,-19.6 1254.0,-19.6 1254.1,-19.6 1254.1,-19.6 1254.2,-19.6 1254.2,-19.6 1254.3,-19.6 1254.3,-17.7 1254.3,-6.3 1254.3,4.9 1254.3,16.1 1254.3,27.1 1254.3,38.1 1254.3,48.9 1254.3,59.6 1254.3,70.3 1254.3,80.8 1254.3,91.3 1254.3,101.6 1254.3,111.8 1254.3,122.0 1254.4,132.0 1254.4,141.9 1254.5,151.7 1254.6,161.5 1254.7,171.1 1254.9,180.6 1255.0,190.0 1255.1,199.3 1255.1,208.5 1255.2,217.7 1255.2,226.7 1255.3,235.6 1255.3,244.4 1255.4,253.1 1255.4,261.7 1255.4,270.2 1255.5,278.6 1255.5,286.9 1255.6,295.1 1255.6,303.2 1255.6,311.2 1255.7,319.1 1255.7,326.8 1255.8,334.5 1255.9,342.1 1256.0,349.6 1256.1,357.0 1256.2,364.3 1256.3,371.4 1256.4,378.5 1256.5,385.5 1256.6,392.4 1256.8,399.1 1256.9,405.8 1257.0,412.4 1257.1,418.8 1257.2,425.2 1257.2,431.5 1257.3,437.6 1257.4,443.7 1257.5,449.6 1257.5,455.5 1257.6,461.2 1257.7,466.9 1257.7,472.4 1257.8,477.9 1257.8,483.2 1257.9,488.5 1257.9,493.6 1258.0,498.7 1258.1,503.6 1258.3,508.4 1258.5,513.2 1258.6,517.8 1258.7,522.3 1258.8,526.8 1258.9,531.1 1259.0,535.3 1259.1,539.4 1259.2,543.5 1259.3,547.4 1259.4,551.2 1259.5,554.9 1259.6,558.5 1259.7,562.0 1259.8,565.4 1259.9,568.8 1260.0,572.0 1260.1,575.1 1260.2,578.1 1260.3,581.0 1260.4,583.8 1260.5,586.5 1260.6,589.1 1260.8,591.6 1260.9,594.0 1261.0,596.2 1261.1,598.4 1261.3,600.5 1261.4,602.5 1261.5,604.4 1261.7,606.2 1261.8,607.8 1261.9,609.4 1262.0,610.9 1262.2,612.3 1262.3,613.5 1262.5,614.7 1262.6,615.8 1262.8,616.8 1263.0,617.6 1263.2,618.4 1263.4,619.0 1263.5,619.6 1263.6,620.1 1263.7,620.4 1263.8,620.7 1263.8,620.8 1263.8,620.9" fill="none" stroke="#008000" stroke-width="1.85" stroke-linejoin="round"/>
<line x1="1241.30" y1="0.36" x2="1241.30" y2="620.88" stroke="#ff0000" stroke-width="3.9"/>
</g>
<line x1="998.19" y1="620.88" x2="998.19" y2="624.88" stroke="#000" stroke-width="1.05"/><text class="t" x="998.19" y="645.38" text-anchor="middle">0.0</text>
<line x1="1095.46" y1="620.88" x2="1095.46" y2="624.88" stroke="#000" stroke-width="1.05"/><text class="t" x="1095.46" y="645.38" text-anchor="middle">0.2</text>
<line x1="1192.72" y1="620.88" x2="1192.72" y2="624.88" stroke="#000" stroke-width="1.05"/><text class="t" x="1192.72" y="645.38" text-anchor="middle">0.4</text>
<line x1="1289.99" y1="620.88" x2="1289.99" y2="624.88" stroke="#000" stroke-width="1.05"/><text class="t" x="1289.99" y="645.38" text-anchor="middle">0.6</text>
<line x1="1387.25" y1="620.88" x2="1387.25" y2="624.88" stroke="#000" stroke-width="1.05"/><text class="t" x="1387.25" y="645.38" text-anchor="middle">0.8</text>
<line x1="1484.52" y1="620.88" x2="1484.52" y2="624.88" stroke="#000" stroke-width="1.05"/><text class="t" x="1484.52" y="645.38" text-anchor="middle">1.0</text>
<line x1="908.54" y1="620.88" x2="912.94" y2="620.88" stroke="#000" stroke-width="1.05"/><text class="t" x="904.94" y="629.08" text-anchor="end">0.0</text>
<line x1="908.54" y1="538.81" x2="912.94" y2="538.81" stroke="#000" stroke-width="1.05"/><text class="t" x="904.94" y="547.01" text-anchor="end">2.5</text>
<line x1="908.54" y1="456.75" x2="912.94" y2="456.75" stroke="#000" stroke-width="1.05"/><text class="t" x="904.94" y="464.94" text-anchor="end">5.0</text>
<line x1="908.54" y1="374.68" x2="912.94" y2="374.68" stroke="#000" stroke-width="1.05"/><text class="t" x="904.94" y="382.88" text-anchor="end">7.5</text>
<line x1="908.54" y1="292.61" x2="912.94" y2="292.61" stroke="#000" stroke-width="1.05"/><text class="t" x="904.94" y="300.81" text-anchor="end">10.0</text>
<line x1="908.54" y1="210.54" x2="912.94" y2="210.54" stroke="#000" stroke-width="1.05"/><text class="t" x="904.94" y="218.74" text-anchor="end">12.5</text>
<line x1="908.54" y1="128.48" x2="912.94" y2="128.48" stroke="#000" stroke-width="1.05"/><text class="t" x="904.94" y="136.68" text-anchor="end">15.0</text>
<line x1="908.54" y1="46.41" x2="912.94" y2="46.41" stroke="#000" stroke-width="1.05"/><text class="t" x="904.94" y="54.61" text-anchor="end">17.5</text>
<path d="M912.94,620.88 L912.94,0.36 L1549.60,0.36 L1549.60,620.88" fill="none" stroke="#222" stroke-width="1.2" stroke-linecap="square"/>
<line x1="912.94" y1="620.88" x2="1549.60" y2="620.88" stroke="#000" stroke-width="1.26" stroke-linecap="square"/>
<text class="t" x="1231.27" y="668.68" text-anchor="middle">x (m)</text>
<text class="t" transform="translate(850.40,310.62) rotate(-90)" text-anchor="middle">Normalized frequency</text>
<text class="c" x="1221.00" y="776.08" text-anchor="middle" textLength="414.0" lengthAdjust="spacingAndGlyphs">(b) horizontal position</text>
<defs><clipPath id="clc"><rect x="91.39" y="936.85" width="636.66" height="620.51"/></clipPath></defs>
<g clip-path="url(#clc)">
<polygon points="119.3,1557.4 119.3,1556.5 120.5,1556.5 121.6,1556.5 122.8,1556.5 123.9,1556.5 125.1,1556.5 126.3,1556.4 127.4,1556.4 128.6,1556.4 129.8,1556.4 130.9,1556.4 132.1,1556.4 133.2,1556.4 134.4,1556.3 135.6,1556.3 136.7,1556.3 137.9,1556.3 139.0,1556.2 140.2,1556.2 141.4,1556.2 142.5,1556.2 143.7,1556.1 144.8,1556.1 146.0,1556.1 147.2,1556.0 148.3,1556.0 149.5,1555.9 150.6,1555.9 151.8,1555.9 153.0,1555.8 154.1,1555.8 155.3,1555.7 156.4,1555.6 157.6,1555.6 158.8,1555.5 159.9,1555.5 161.1,1555.4 162.3,1555.3 163.4,1555.2 164.6,1555.1 165.7,1555.1 166.9,1555.0 168.1,1554.9 169.2,1554.8 170.4,1554.7 171.5,1554.6 172.7,1554.4 173.9,1554.3 175.0,1554.2 176.2,1554.1 177.3,1553.9 178.5,1553.8 179.7,1553.7 180.8,1553.5 182.0,1553.4 183.1,1553.2 184.3,1553.0 185.5,1552.9 186.6,1552.7 187.8,1552.5 188.9,1552.3 190.1,1552.1 191.3,1551.9 192.4,1551.7 193.6,1551.5 194.8,1551.3 195.9,1551.1 197.1,1550.9 198.2,1550.7 199.4,1550.4 200.6,1550.2 201.7,1549.9 202.9,1549.7 204.0,1549.4 205.2,1549.2 206.4,1548.9 207.5,1548.7 208.7,1548.4 209.8,1548.1 211.0,1547.8 212.2,1547.5 213.3,1547.3 214.5,1547.0 215.6,1546.7 216.8,1546.4 218.0,1546.1 219.1,1545.8 220.3,1545.5 221.4,1545.1 222.6,1544.8 223.8,1544.5 224.9,1544.2 226.1,1543.9 227.3,1543.6 228.4,1543.3 229.6,1542.9 230.7,1542.6 231.9,1542.3 233.1,1542.0 234.2,1541.7 235.4,1541.4 236.5,1541.0 237.7,1540.7 238.9,1540.4 240.0,1540.1 241.2,1539.8 242.3,1539.5 243.5,1539.2 244.7,1539.0 245.8,1538.7 247.0,1538.4 248.1,1538.1 249.3,1537.9 250.5,1537.6 251.6,1537.4 252.8,1537.1 253.9,1536.9 255.1,1536.6 256.3,1536.4 257.4,1536.2 258.6,1536.0 259.8,1535.8 260.9,1535.6 262.1,1535.4 263.2,1535.3 264.4,1535.1 265.6,1534.9 266.7,1534.8 267.9,1534.6 269.0,1534.5 270.2,1534.4 271.4,1534.3 272.5,1534.2 273.7,1534.0 274.8,1533.9 276.0,1533.8 277.2,1533.8 278.3,1533.7 279.5,1533.6 280.6,1533.5 281.8,1533.4 283.0,1533.4 284.1,1533.3 285.3,1533.2 286.4,1533.1 287.6,1533.1 288.8,1533.0 289.9,1532.9 291.1,1532.8 292.3,1532.7 293.4,1532.6 294.6,1532.5 295.7,1532.4 296.9,1532.3 298.1,1532.1 299.2,1532.0 300.4,1531.8 301.5,1531.7 302.7,1531.5 303.9,1531.3 305.0,1531.1 306.2,1530.8 307.3,1530.6 308.5,1530.3 309.7,1530.0 310.8,1529.7 312.0,1529.4 313.1,1529.0 314.3,1528.7 315.5,1528.3 316.6,1527.8 317.8,1527.4 318.9,1527.0 320.1,1526.5 321.3,1526.0 322.4,1525.4 323.6,1524.9 324.8,1524.3 325.9,1523.7 327.1,1523.1 328.2,1522.5 329.4,1521.8 330.6,1521.2 331.7,1520.5 332.9,1519.7 334.0,1519.0 335.2,1518.2 336.4,1517.5 337.5,1516.7 338.7,1515.9 339.8,1515.1 341.0,1514.2 342.2,1513.4 343.3,1512.5 344.5,1511.6 345.6,1510.8 346.8,1509.9 348.0,1509.0 349.1,1508.0 350.3,1507.1 351.4,1506.2 352.6,1505.3 353.8,1504.3 354.9,1503.4 356.1,1502.5 357.3,1501.5 358.4,1500.6 359.6,1499.6 360.7,1498.7 361.9,1497.8 363.1,1496.8 364.2,1495.9 365.4,1494.9 366.5,1494.0 367.7,1493.1 368.9,1492.2 370.0,1491.2 371.2,1490.3 372.3,1489.4 373.5,1488.5 374.7,1487.6 375.8,1486.7 377.0,1485.9 378.1,1485.0 379.3,1484.1 380.5,1483.3 381.6,1482.4 382.8,1481.6 384.0,1480.7 385.1,1479.9 386.3,1479.1 387.4,1478.3 388.6,1477.5 389.8,1476.7 390.9,1475.9 392.1,1475.2 393.2,1474.4 394.4,1473.7 395.6,1473.0 396.7,1472.3 397.9,1471.6 399.0,1470.9 400.2,1470.2 401.4,1469.6 402.5,1468.9 403.7,1468.3 404.8,1467.7 406.0,1467.1 407.2,1466.6 408.3,1466.0 409.5,1465.5 410.6,1465.0 411.8,1464.5 413.0,1464.1 414.1,1463.7 415.3,1463.3 416.5,1462.9 417.6,1462.5 418.8,1462.2 419.9,1461.9 421.1,1461.7 422.3,1461.5 423.4,1461.3 424.6,1461.1 425.7,1461.0 426.9,1460.9 428.1,1460.8 429.2,1460.8 430.4,1460.8 431.5,1460.9 432.7,1461.0 433.9,1461.1 435.0,1461.2 436.2,1461.5 437.3,1461.7 438.5,1462.0 439.7,1462.3 440.8,1462.7 442.0,1463.0 443.1,1463.5 444.3,1464.0 445.5,1464.5 446.6,1465.0 447.8,1465.6 449.0,1466.2 450.1,1466.9 451.3,1467.6 452.4,1468.3 453.6,1469.1 454.8,1469.9 455.9,1470.7 457.1,1471.6 458.2,1472.5 459.4,1473.4 460.6,1474.4 461.7,1475.4 462.9,1476.4 464.0,1477.4 465.2,1478.5 466.4,1479.5 467.5,1480.6 468.7,1481.7 469.8,1482.9 471.0,1484.0 472.2,1485.2 473.3,1486.4 474.5,1487.5 475.6,1488.7 476.8,1489.9 478.0,1491.2 479.1,1492.4 480.3,1493.6 481.5,1494.8 482.6,1496.0 483.8,1497.3 484.9,1498.5 486.1,1499.7 487.3,1500.9 488.4,1502.1 489.6,1503.3 490.7,1504.5 491.9,1505.7 493.1,1506.9 494.2,1508.1 495.4,1509.2 496.5,1510.4 497.7,1511.5 498.9,1512.6 500.0,1513.7 501.2,1514.7 502.3,1515.8 503.5,1516.8 504.7,1517.9 505.8,1518.9 507.0,1519.8 508.1,1520.8 509.3,1521.8 510.5,1522.7 511.6,1523.6 512.8,1524.5 514.0,1525.3 515.1,1526.1 516.3,1527.0 517.4,1527.8 518.6,1528.5 519.8,1529.3 520.9,1530.0 522.1,1530.7 523.2,1531.4 524.4,1532.1 525.6,1532.7 526.7,1533.4 527.9,1534.0 529.0,1534.6 530.2,1535.1 531.4,1535.7 532.5,1536.2 533.7,1536.7 534.8,1537.2 536.0,1537.7 537.2,1538.2 538.3,1538.7 539.5,1539.1 540.6,1539.5 541.8,1539.9 543.0,1540.3 544.1,1540.7 545.3,1541.1 546.5,1541.5 547.6,1541.8 548.8,1542.1 549.9,1542.5 551.1,1542.8 552.3,1543.1 553.4,1543.4 554.6,1543.7 555.7,1544.0 556.9,1544.2 558.1,1544.5 559.2,1544.7 560.4,1545.0 561.5,1545.2 562.7,1545.5 563.9,1545.7 565.0,1545.9 566.2,1546.1 567.3,1546.3 568.5,1546.5 569.7,1546.7 570.8,1546.9 572.0,1547.1 573.1,1547.3 574.3,1547.5 575.5,1547.7 576.6,1547.8 577.8,1548.0 579.0,1548.2 580.1,1548.4 581.3,1548.5 582.4,1548.7 583.6,1548.8 584.8,1549.0 585.9,1549.1 587.1,1549.3 588.2,1549.4 589.4,1549.6 590.6,1549.7 591.7,1549.9 592.9,1550.0 594.0,1550.1 595.2,1550.3 596.4,1550.4 597.5,1550.5 598.7,1550.7 599.8,1550.8 601.0,1550.9 602.2,1551.1 603.3,1551.2 604.5,1551.3 605.6,1551.5 606.8,1551.6 608.0,1551.7 609.1,1551.8 610.3,1552.0 611.5,1552.1 612.6,1552.2 613.8,1552.3 614.9,1552.5 616.1,1552.6 617.3,1552.7 618.4,1552.8 619.6,1552.9 620.7,1553.1 621.9,1553.2 623.1,1553.3 624.2,1553.4 625.4,1553.5 626.5,1553.6 627.7,1553.8 628.9,1553.9 630.0,1554.0 631.2,1554.1 632.3,1554.2 633.5,1554.3 634.7,1554.4 635.8,1554.5 637.0,1554.6 638.1,1554.7 639.3,1554.8 640.5,1554.9 641.6,1555.0 642.8,1555.1 644.0,1555.2 645.1,1555.3 646.3,1555.3 647.4,1555.4 648.6,1555.5 649.8,1555.6 650.9,1555.7 652.1,1555.7 653.2,1555.8 654.4,1555.9 655.6,1555.9 656.7,1556.0 657.9,1556.1 659.0,1556.1 660.2,1556.2 661.4,1556.3 662.5,1556.3 663.7,1556.4 664.8,1556.4 666.0,1556.5 667.2,1556.5 668.3,1556.6 669.5,1556.6 670.6,1556.7 671.8,1556.7 673.0,1556.7 674.1,1556.8 675.3,1556.8 676.5,1556.8 677.6,1556.9 678.8,1556.9 679.9,1556.9 681.1,1557.0 682.3,1557.0 683.4,1557.0 684.6,1557.0 685.7,1557.1 686.9,1557.1 688.1,1557.1 689.2,1557.1 690.4,1557.1 691.5,1557.1 692.7,1557.2 693.9,1557.2 695.0,1557.2 696.2,1557.2 697.3,1557.2 698.5,1557.2 698.5,1557.4" fill="#4682b4" fill-opacity="0.25"/>
<polygon points="345.2,1557.4 345.2,1557.3 345.5,1557.3 345.8,1557.3 346.1,1557.3 346.4,1557.3 346.7,1557.3 347.0,1557.3 347.3,1557.3 347.6,1557.3 348.0,1557.3 348.3,1557.2 348.6,1557.2 348.9,1557.2 349.2,1557.2 349.5,1557.1 349.8,1557.1 350.1,1557.1 350.5,1557.0 350.8,1557.0 351.1,1556.9 351.4,1556.9 351.7,1556.8 352.0,1556.7 352.3,1556.6 352.6,1556.5 353.0,1556.4 353.3,1556.3 353.6,1556.1 353.9,1556.0 354.2,1555.8 354.5,1555.6 354.8,1555.4 355.1,1555.2 355.4,1555.0 355.8,1554.7 356.1,1554.5 356.4,1554.2 356.7,1553.9 357.0,1553.5 357.3,1553.1 357.6,1552.8 357.9,1552.3 358.3,1551.9 358.6,1551.4 358.9,1550.9 359.2,1550.4 359.5,1549.9 359.8,1549.3 360.1,1548.8 360.4,1548.1 360.8,1547.5 361.1,1546.9 361.4,1546.2 361.7,1545.5 362.0,1544.8 362.3,1544.1 362.6,1543.4 362.9,1542.7 363.2,1541.9 363.6,1541.2 363.9,1540.4 364.2,1539.7 364.5,1538.9 364.8,1538.2 365.1,1537.5 365.4,1536.7 365.7,1536.0 366.1,1535.3 366.4,1534.6 366.7,1533.9 367.0,1533.2 367.3,1532.6 367.6,1531.9 367.9,1531.3 368.2,1530.7 368.6,1530.1 368.9,1529.5 369.2,1529.0 369.5,1528.4 369.8,1527.9 370.1,1527.4 370.4,1526.9 370.7,1526.4 371.0,1525.9 371.4,1525.5 371.7,1525.0 372.0,1524.6 372.3,1524.2 372.6,1523.8 372.9,1523.4 373.2,1523.0 373.5,1522.6 373.9,1522.3 374.2,1521.9 374.5,1521.6 374.8,1521.3 375.1,1521.0 375.4,1520.7 375.7,1520.4 376.0,1520.1 376.4,1519.9 376.7,1519.7 377.0,1519.5 377.3,1519.3 377.6,1519.1 377.9,1519.0 378.2,1518.8 378.5,1518.7 378.8,1518.7 379.2,1518.6 379.5,1518.6 379.8,1518.5 380.1,1518.5 380.4,1518.5 380.7,1518.5 381.0,1518.5 381.3,1518.5 381.7,1518.5 382.0,1518.5 382.3,1518.5 382.6,1518.4 382.9,1518.4 383.2,1518.3 383.5,1518.2 383.8,1518.0 384.2,1517.8 384.5,1517.6 384.8,1517.3 385.1,1516.9 385.4,1516.5 385.7,1516.1 386.0,1515.5 386.3,1514.9 386.6,1514.2 387.0,1513.5 387.3,1512.7 387.6,1511.8 387.9,1510.8 388.2,1509.8 388.5,1508.7 388.8,1507.5 389.1,1506.2 389.5,1504.9 389.8,1503.4 390.1,1502.0 390.4,1500.4 390.7,1498.8 391.0,1497.1 391.3,1495.4 391.6,1493.6 391.9,1491.7 392.3,1489.8 392.6,1487.8 392.9,1485.8 393.2,1483.7 393.5,1481.6 393.8,1479.4 394.1,1477.2 394.4,1474.9 394.8,1472.6 395.1,1470.3 395.4,1467.9 395.7,1465.4 396.0,1463.0 396.3,1460.4 396.6,1457.9 396.9,1455.3 397.3,1452.7 397.6,1450.1 397.9,1447.4 398.2,1444.7 398.5,1442.0 398.8,1439.3 399.1,1436.5 399.4,1433.8 399.7,1431.1 400.1,1428.3 400.4,1425.6 400.7,1422.8 401.0,1420.1 401.3,1417.4 401.6,1414.7 401.9,1412.0 402.2,1409.4 402.6,1406.8 402.9,1404.2 403.2,1401.6 403.5,1399.0 403.8,1396.5 404.1,1394.0 404.4,1391.5 404.7,1389.1 405.1,1386.7 405.4,1384.3 405.7,1381.9 406.0,1379.5 406.3,1377.1 406.6,1374.7 406.9,1372.3 407.2,1370.0 407.5,1367.6 407.9,1365.2 408.2,1362.7 408.5,1360.3 408.8,1357.8 409.1,1355.3 409.4,1352.8 409.7,1350.2 410.0,1347.6 410.4,1345.0 410.7,1342.3 411.0,1339.6 411.3,1336.8 411.6,1334.0 411.9,1331.1 412.2,1328.2 412.5,1325.2 412.9,1322.2 413.2,1319.1 413.5,1316.0 413.8,1312.8 414.1,1309.6 414.4,1306.3 414.7,1302.9 415.0,1299.5 415.3,1296.0 415.7,1292.4 416.0,1288.9 416.3,1285.2 416.6,1281.5 416.9,1277.8 417.2,1274.0 417.5,1270.1 417.8,1266.2 418.2,1262.3 418.5,1258.4 418.8,1254.5 419.1,1250.5 419.4,1246.5 419.7,1242.6 420.0,1238.6 420.3,1234.7 420.7,1230.8 421.0,1226.9 421.3,1223.1 421.6,1219.4 421.9,1215.7 422.2,1212.1 422.5,1208.6 422.8,1205.2 423.1,1201.9 423.5,1198.7 423.8,1195.6 424.1,1192.6 424.4,1189.8 424.7,1187.1 425.0,1184.5 425.3,1182.1 425.6,1179.8 426.0,1177.6 426.3,1175.6 426.6,1173.7 426.9,1172.0 427.2,1170.4 427.5,1168.9 427.8,1167.6 428.1,1166.5 428.4,1165.5 428.8,1164.7 429.1,1164.0 429.4,1163.5 429.7,1163.1 430.0,1162.9 430.3,1162.9 430.6,1163.1 430.9,1163.5 431.3,1164.0 431.6,1164.8 431.9,1165.7 432.2,1166.9 432.5,1168.2 432.8,1169.8 433.1,1171.6 433.4,1173.6 433.8,1175.7 434.1,1178.2 434.4,1180.8 434.7,1183.6 435.0,1186.5 435.3,1189.7 435.6,1193.1 435.9,1196.6 436.2,1200.2 436.6,1204.0 436.9,1207.9 437.2,1211.9 437.5,1216.0 437.8,1220.2 438.1,1224.5 438.4,1228.8 438.7,1233.1 439.1,1237.5 439.4,1241.9 439.7,1246.3 440.0,1250.7 440.3,1255.0 440.6,1259.4 440.9,1263.7 441.2,1268.1 441.6,1272.4 441.9,1276.6 442.2,1280.9 442.5,1285.1 442.8,1289.4 443.1,1293.6 443.4,1297.8 443.7,1302.1 444.0,1306.3 444.4,1310.6 444.7,1314.9 445.0,1319.2 445.3,1323.6 445.6,1328.1 445.9,1332.5 446.2,1337.1 446.5,1341.7 446.9,1346.3 447.2,1351.0 447.5,1355.8 447.8,1360.6 448.1,1365.4 448.4,1370.3 448.7,1375.2 449.0,1380.1 449.4,1385.0 449.7,1389.9 450.0,1394.8 450.3,1399.6 450.6,1404.4 450.9,1409.2 451.2,1413.9 451.5,1418.5 451.8,1423.0 452.2,1427.4 452.5,1431.7 452.8,1435.9 453.1,1439.9 453.4,1443.9 453.7,1447.7 454.0,1451.3 454.3,1454.8 454.7,1458.2 455.0,1461.5 455.3,1464.6 455.6,1467.5 455.9,1470.4 456.2,1473.1 456.5,1475.7 456.8,1478.1 457.2,1480.5 457.5,1482.7 457.8,1484.9 458.1,1487.0 458.4,1488.9 458.7,1490.8 459.0,1492.7 459.3,1494.4 459.6,1496.1 460.0,1497.8 460.3,1499.4 460.6,1500.9 460.9,1502.4 461.2,1503.9 461.5,1505.3 461.8,1506.6 462.1,1508.0 462.5,1509.3 462.8,1510.5 463.1,1511.7 463.4,1512.9 463.7,1514.1 464.0,1515.2 464.3,1516.2 464.6,1517.3 465.0,1518.2 465.3,1519.2 465.6,1520.1 465.9,1520.9 466.2,1521.8 466.5,1522.5 466.8,1523.3 467.1,1524.0 467.4,1524.7 467.8,1525.3 468.1,1525.9 468.4,1526.5 468.7,1527.1 469.0,1527.6 469.3,1528.1 469.6,1528.6 469.9,1529.1 470.3,1529.6 470.6,1530.1 470.9,1530.5 471.2,1531.0 471.5,1531.5 471.8,1532.0 472.1,1532.5 472.4,1533.0 472.7,1533.5 473.1,1534.0 473.4,1534.5 473.7,1535.1 474.0,1535.7 474.3,1536.3 474.6,1536.9 474.9,1537.5 475.2,1538.1 475.6,1538.7 475.9,1539.4 476.2,1540.0 476.5,1540.7 476.8,1541.4 477.1,1542.1 477.4,1542.7 477.7,1543.4 478.1,1544.1 478.4,1544.7 478.7,1545.4 479.0,1546.1 479.3,1546.7 479.6,1547.3 479.9,1547.9 480.2,1548.5 480.5,1549.1 480.9,1549.6 481.2,1550.2 481.5,1550.7 481.8,1551.2 482.1,1551.6 482.4,1552.1 482.7,1552.5 483.0,1552.9 483.4,1553.3 483.7,1553.6 484.0,1554.0 484.3,1554.3 484.6,1554.6 484.9,1554.8 485.2,1555.1 485.5,1555.3 485.9,1555.5 486.2,1555.7 486.5,1555.9 486.8,1556.0 487.1,1556.2 487.4,1556.3 487.7,1556.4 488.0,1556.5 488.3,1556.6 488.7,1556.7 489.0,1556.8 489.3,1556.9 489.6,1556.9 489.9,1557.0 490.2,1557.0 490.5,1557.1 490.8,1557.1 491.2,1557.2 491.5,1557.2 491.8,1557.2 492.1,1557.2 492.4,1557.2 492.7,1557.3 493.0,1557.3 493.3,1557.3 493.7,1557.3 494.0,1557.3 494.3,1557.3 494.6,1557.3 494.9,1557.3 495.2,1557.3 495.5,1557.3 495.8,1557.3 496.1,1557.3 496.5,1557.3 496.8,1557.4 497.1,1557.4 497.4,1557.4 497.7,1557.4 498.0,1557.4 498.3,1557.4 498.6,1557.4 499.0,1557.4 499.3,1557.4 499.6,1557.4 499.9,1557.4 500.2,1557.4 500.5,1557.4 500.8,1557.4 500.8,1557.4" fill="#bfbf00" fill-opacity="0.25"/>
<polygon points="415.7,1557.4 415.7,1557.4 415.8,1557.3 415.9,1557.1 416.3,1556.9 417.0,1556.5 417.3,1556.0 417.5,1555.4 417.7,1554.7 417.9,1553.9 418.1,1553.0 418.2,1552.0 418.3,1550.9 418.4,1549.7 418.5,1548.3 418.6,1546.9 418.7,1545.3 418.8,1543.7 418.9,1541.9 419.0,1540.0 419.1,1538.1 419.1,1536.0 419.2,1533.8 419.3,1531.5 419.3,1529.1 419.4,1526.6 419.5,1523.9 419.6,1521.2 419.6,1518.4 419.7,1515.4 419.8,1512.4 419.8,1509.2 419.9,1506.0 420.0,1502.6 420.0,1499.1 420.1,1495.5 420.2,1491.8 420.3,1488.0 420.4,1484.1 420.5,1480.1 420.5,1476.0 420.6,1471.8 420.7,1467.5 420.8,1463.0 420.8,1458.5 420.9,1453.8 421.0,1449.1 421.0,1444.2 421.1,1439.2 421.1,1434.1 421.2,1428.9 421.2,1423.7 421.3,1418.3 421.4,1412.7 421.5,1407.1 421.6,1401.4 421.7,1395.6 421.8,1389.6 421.9,1383.6 422.0,1377.4 422.1,1371.2 422.1,1364.8 422.2,1358.4 422.3,1351.8 422.5,1345.1 422.6,1338.3 422.7,1331.4 422.8,1324.4 422.8,1317.3 422.9,1310.1 422.9,1302.7 423.0,1295.3 423.0,1287.8 423.0,1280.1 423.1,1272.4 423.1,1264.5 423.2,1256.5 423.2,1248.4 423.3,1240.3 423.3,1232.0 423.4,1223.6 423.4,1215.1 423.5,1206.5 423.5,1197.7 423.6,1188.9 423.7,1180.0 423.7,1171.0 423.8,1161.8 423.8,1152.6 423.9,1143.2 423.9,1133.7 423.9,1124.2 424.0,1114.5 424.0,1104.7 424.1,1094.8 424.1,1084.8 424.2,1074.7 424.2,1064.5 424.3,1054.1 424.3,1043.7 424.4,1033.2 424.4,1022.5 424.5,1011.8 424.6,1000.9 424.6,990.0 424.7,978.9 424.7,967.7 424.8,956.4 424.9,945.0 424.9,933.5 425.0,921.9 425.0,916.9 425.1,916.9 425.1,916.9 425.2,916.9 425.2,916.9 425.3,916.9 425.3,916.9 425.4,916.9 425.4,916.9 425.5,916.9 434.5,916.9 434.5,916.9 434.6,916.9 434.6,916.9 434.7,916.9 434.7,916.9 434.8,916.9 434.8,916.9 434.9,916.9 435.0,916.9 435.0,921.9 435.1,933.5 435.1,945.0 435.2,956.4 435.2,967.7 435.3,978.9 435.4,990.0 435.4,1000.9 435.5,1011.8 435.5,1022.5 435.6,1033.2 435.7,1043.7 435.7,1054.1 435.8,1064.5 435.8,1074.7 435.9,1084.8 435.9,1094.8 436.0,1104.7 436.0,1114.5 436.1,1124.2 436.1,1133.7 436.2,1143.2 436.2,1152.6 436.3,1161.8 436.4,1171.0 436.5,1180.0 436.6,1188.9 436.7,1197.7 436.8,1206.5 436.9,1215.1 437.1,1223.6 437.2,1232.0 437.3,1240.3 437.4,1248.4 437.5,1256.5 437.6,1264.5 437.7,1272.4 437.8,1280.1 437.9,1287.8 438.0,1295.3 438.1,1302.7 438.2,1310.1 438.3,1317.3 438.4,1324.4 438.5,1331.4 438.6,1338.3 438.8,1345.1 438.9,1351.8 439.0,1358.4 439.2,1364.8 439.3,1371.2 439.5,1377.4 439.6,1383.6 439.7,1389.6 439.9,1395.6 440.0,1401.4 440.1,1407.1 440.2,1412.7 440.3,1418.3 440.4,1423.7 440.5,1428.9 440.7,1434.1 440.9,1439.2 441.0,1444.2 441.1,1449.1 441.2,1453.8 441.3,1458.5 441.4,1463.0 441.5,1467.5 441.6,1471.8 441.7,1476.0 441.8,1480.1 441.9,1484.1 442.1,1488.0 442.2,1491.8 442.3,1495.5 442.4,1499.1 442.5,1502.6 442.6,1506.0 442.7,1509.2 442.8,1512.4 442.9,1515.4 443.0,1518.4 443.1,1521.2 443.1,1523.9 443.2,1526.6 443.3,1529.1 443.4,1531.5 443.5,1533.8 443.5,1536.0 443.6,1538.1 443.7,1540.0 443.8,1541.9 443.9,1543.7 444.0,1545.3 444.1,1546.9 444.2,1548.3 444.3,1549.7 444.4,1550.9 444.5,1552.0 444.6,1553.0 444.8,1553.9 445.0,1554.7 445.2,1555.4 445.4,1556.0 445.6,1556.5 445.8,1556.9 445.9,1557.1 445.9,1557.3 445.9,1557.4 445.9,1557.4" fill="#008000" fill-opacity="0.25"/>
<polyline points="119.3,1556.5 120.5,1556.5 121.6,1556.5 122.8,1556.5 123.9,1556.5 125.1,1556.5 126.3,1556.4 127.4,1556.4 128.6,1556.4 129.8,1556.4 130.9,1556.4 132.1,1556.4 133.2,1556.4 134.4,1556.3 135.6,1556.3 136.7,1556.3 137.9,1556.3 139.0,1556.2 140.2,1556.2 141.4,1556.2 142.5,1556.2 143.7,1556.1 144.8,1556.1 146.0,1556.1 147.2,1556.0 148.3,1556.0 149.5,1555.9 150.6,1555.9 151.8,1555.9 153.0,1555.8 154.1,1555.8 155.3,1555.7 156.4,1555.6 157.6,1555.6 158.8,1555.5 159.9,1555.5 161.1,1555.4 162.3,1555.3 163.4,1555.2 164.6,1555.1 165.7,1555.1 166.9,1555.0 168.1,1554.9 169.2,1554.8 170.4,1554.7 171.5,1554.6 172.7,1554.4 173.9,1554.3 175.0,1554.2 176.2,1554.1 177.3,1553.9 178.5,1553.8 179.7,1553.7 180.8,1553.5 182.0,1553.4 183.1,1553.2 184.3,1553.0 185.5,1552.9 186.6,1552.7 187.8,1552.5 188.9,1552.3 190.1,1552.1 191.3,1551.9 192.4,1551.7 193.6,1551.5 194.8,1551.3 195.9,1551.1 197.1,1550.9 198.2,1550.7 199.4,1550.4 200.6,1550.2 201.7,1549.9 202.9,1549.7 204.0,1549.4 205.2,1549.2 206.4,1548.9 207.5,1548.7 208.7,1548.4 209.8,1548.1 211.0,1547.8 212.2,1547.5 213.3,1547.3 214.5,1547.0 215.6,1546.7 216.8,1546.4 218.0,1546.1 219.1,1545.8 220.3,1545.5 221.4,1545.1 222.6,1544.8 223.8,1544.5 224.9,1544.2 226.1,1543.9 227.3,1543.6 228.4,1543.3 229.6,1542.9 230.7,1542.6 231.9,1542.3 233.1,1542.0 234.2,1541.7 235.4,1541.4 236.5,1541.0 237.7,1540.7 238.9,1540.4 240.0,1540.1 241.2,1539.8 242.3,1539.5 243.5,1539.2 244.7,1539.0 245.8,1538.7 247.0,1538.4 248.1,1538.1 249.3,1537.9 250.5,1537.6 251.6,1537.4 252.8,1537.1 253.9,1536.9 255.1,1536.6 256.3,1536.4 257.4,1536.2 258.6,1536.0 259.8,1535.8 260.9,1535.6 262.1,1535.4 263.2,1535.3 264.4,1535.1 265.6,1534.9 266.7,1534.8 267.9,1534.6 269.0,1534.5 270.2,1534.4 271.4,1534.3 272.5,1534.2 273.7,1534.0 274.8,1533.9 276.0,1533.8 277.2,1533.8 278.3,1533.7 279.5,1533.6 280.6,1533.5 281.8,1533.4 283.0,1533.4 284.1,1533.3 285.3,1533.2 286.4,1533.1 287.6,1533.1 288.8,1533.0 289.9,1532.9 291.1,1532.8 292.3,1532.7 293.4,1532.6 294.6,1532.5 295.7,1532.4 296.9,1532.3 298.1,1532.1 299.2,1532.0 300.4,1531.8 301.5,1531.7 302.7,1531.5 303.9,1531.3 305.0,1531.1 306.2,1530.8 307.3,1530.6 308.5,1530.3 309.7,1530.0 310.8,1529.7 312.0,1529.4 313.1,1529.0 314.3,1528.7 315.5,1528.3 316.6,1527.8 317.8,1527.4 318.9,1527.0 320.1,1526.5 321.3,1526.0 322.4,1525.4 323.6,1524.9 324.8,1524.3 325.9,1523.7 327.1,1523.1 328.2,1522.5 329.4,1521.8 330.6,1521.2 331.7,1520.5 332.9,1519.7 334.0,1519.0 335.2,1518.2 336.4,1517.5 337.5,1516.7 338.7,1515.9 339.8,1515.1 341.0,1514.2 342.2,1513.4 343.3,1512.5 344.5,1511.6 345.6,1510.8 346.8,1509.9 348.0,1509.0 349.1,1508.0 350.3,1507.1 351.4,1506.2 352.6,1505.3 353.8,1504.3 354.9,1503.4 356.1,1502.5 357.3,1501.5 358.4,1500.6 359.6,1499.6 360.7,1498.7 361.9,1497.8 363.1,1496.8 364.2,1495.9 365.4,1494.9 366.5,1494.0 367.7,1493.1 368.9,1492.2 370.0,1491.2 371.2,1490.3 372.3,1489.4 373.5,1488.5 374.7,1487.6 375.8,1486.7 377.0,1485.9 378.1,1485.0 379.3,1484.1 380.5,1483.3 381.6,1482.4 382.8,1481.6 384.0,1480.7 385.1,1479.9 386.3,1479.1 387.4,1478.3 388.6,1477.5 389.8,1476.7 390.9,1475.9 392.1,1475.2 393.2,1474.4 394.4,1473.7 395.6,1473.0 396.7,1472.3 397.9,1471.6 399.0,1470.9 400.2,1470.2 401.4,1469.6 402.5,1468.9 403.7,1468.3 404.8,1467.7 406.0,1467.1 407.2,1466.6 408.3,1466.0 409.5,1465.5 410.6,1465.0 411.8,1464.5 413.0,1464.1 414.1,1463.7 415.3,1463.3 416.5,1462.9 417.6,1462.5 418.8,1462.2 419.9,1461.9 421.1,1461.7 422.3,1461.5 423.4,1461.3 424.6,1461.1 425.7,1461.0 426.9,1460.9 428.1,1460.8 429.2,1460.8 430.4,1460.8 431.5,1460.9 432.7,1461.0 433.9,1461.1 435.0,1461.2 436.2,1461.5 437.3,1461.7 438.5,1462.0 439.7,1462.3 440.8,1462.7 442.0,1463.0 443.1,1463.5 444.3,1464.0 445.5,1464.5 446.6,1465.0 447.8,1465.6 449.0,1466.2 450.1,1466.9 451.3,1467.6 452.4,1468.3 453.6,1469.1 454.8,1469.9 455.9,1470.7 457.1,1471.6 458.2,1472.5 459.4,1473.4 460.6,1474.4 461.7,1475.4 462.9,1476.4 464.0,1477.4 465.2,1478.5 466.4,1479.5 467.5,1480.6 468.7,1481.7 469.8,1482.9 471.0,1484.0 472.2,1485.2 473.3,1486.4 474.5,1487.5 475.6,1488.7 476.8,1489.9 478.0,1491.2 479.1,1492.4 480.3,1493.6 481.5,1494.8 482.6,1496.0 483.8,1497.3 484.9,1498.5 486.1,1499.7 487.3,1500.9 488.4,1502.1 489.6,1503.3 490.7,1504.5 491.9,1505.7 493.1,1506.9 494.2,1508.1 495.4,1509.2 496.5,1510.4 497.7,1511.5 498.9,1512.6 500.0,1513.7 501.2,1514.7 502.3,1515.8 503.5,1516.8 504.7,1517.9 505.8,1518.9 507.0,1519.8 508.1,1520.8 509.3,1521.8 510.5,1522.7 511.6,1523.6 512.8,1524.5 514.0,1525.3 515.1,1526.1 516.3,1527.0 517.4,1527.8 518.6,1528.5 519.8,1529.3 520.9,1530.0 522.1,1530.7 523.2,1531.4 524.4,1532.1 525.6,1532.7 526.7,1533.4 527.9,1534.0 529.0,1534.6 530.2,1535.1 531.4,1535.7 532.5,1536.2 533.7,1536.7 534.8,1537.2 536.0,1537.7 537.2,1538.2 538.3,1538.7 539.5,1539.1 540.6,1539.5 541.8,1539.9 543.0,1540.3 544.1,1540.7 545.3,1541.1 546.5,1541.5 547.6,1541.8 548.8,1542.1 549.9,1542.5 551.1,1542.8 552.3,1543.1 553.4,1543.4 554.6,1543.7 555.7,1544.0 556.9,1544.2 558.1,1544.5 559.2,1544.7 560.4,1545.0 561.5,1545.2 562.7,1545.5 563.9,1545.7 565.0,1545.9 566.2,1546.1 567.3,1546.3 568.5,1546.5 569.7,1546.7 570.8,1546.9 572.0,1547.1 573.1,1547.3 574.3,1547.5 575.5,1547.7 576.6,1547.8 577.8,1548.0 579.0,1548.2 580.1,1548.4 581.3,1548.5 582.4,1548.7 583.6,1548.8 584.8,1549.0 585.9,1549.1 587.1,1549.3 588.2,1549.4 589.4,1549.6 590.6,1549.7 591.7,1549.9 592.9,1550.0 594.0,1550.1 595.2,1550.3 596.4,1550.4 597.5,1550.5 598.7,1550.7 599.8,1550.8 601.0,1550.9 602.2,1551.1 603.3,1551.2 604.5,1551.3 605.6,1551.5 606.8,1551.6 608.0,1551.7 609.1,1551.8 610.3,1552.0 611.5,1552.1 612.6,1552.2 613.8,1552.3 614.9,1552.5 616.1,1552.6 617.3,1552.7 618.4,1552.8 619.6,1552.9 620.7,1553.1 621.9,1553.2 623.1,1553.3 624.2,1553.4 625.4,1553.5 626.5,1553.6 627.7,1553.8 628.9,1553.9 630.0,1554.0 631.2,1554.1 632.3,1554.2 633.5,1554.3 634.7,1554.4 635.8,1554.5 637.0,1554.6 638.1,1554.7 639.3,1554.8 640.5,1554.9 641.6,1555.0 642.8,1555.1 644.0,1555.2 645.1,1555.3 646.3,1555.3 647.4,1555.4 648.6,1555.5 649.8,1555.6 650.9,1555.7 652.1,1555.7 653.2,1555.8 654.4,1555.9 655.6,1555.9 656.7,1556.0 657.9,1556.1 659.0,1556.1 660.2,1556.2 661.4,1556.3 662.5,1556.3 663.7,1556.4 664.8,1556.4 666.0,1556.5 667.2,1556.5 668.3,1556.6 669.5,1556.6 670.6,1556.7 671.8,1556.7 673.0,1556.7 674.1,1556.8 675.3,1556.8 676.5,1556.8 677.6,1556.9 678.8,1556.9 679.9,1556.9 681.1,1557.0 682.3,1557.0 683.4,1557.0 684.6,1557.0 685.7,1557.1 686.9,1557.1 688.1,1557.1 689.2,1557.1 690.4,1557.1 691.5,1557.1 692.7,1557.2 693.9,1557.2 695.0,1557.2 696.2,1557.2 697.3,1557.2 698.5,1557.2" fill="none" stroke="#4682b4" stroke-width="1.85" stroke-linejoin="round"/>
<polyline points="345.2,1557.3 345.5,1557.3 345.8,1557.3 346.1,1557.3 346.4,1557.3 346.7,1557.3 347.0,1557.3 347.3,1557.3 347.6,1557.3 348.0,1557.3 348.3,1557.2 348.6,1557.2 348.9,1557.2 349.2,1557.2 349.5,1557.1 349.8,1557.1 350.1,1557.1 350.5,1557.0 350.8,1557.0 351.1,1556.9 351.4,1556.9 351.7,1556.8 352.0,1556.7 352.3,1556.6 352.6,1556.5 353.0,1556.4 353.3,1556.3 353.6,1556.1 353.9,1556.0 354.2,1555.8 354.5,1555.6 354.8,1555.4 355.1,1555.2 355.4,1555.0 355.8,1554.7 356.1,1554.5 356.4,1554.2 356.7,1553.9 357.0,1553.5 357.3,1553.1 357.6,1552.8 357.9,1552.3 358.3,1551.9 358.6,1551.4 358.9,1550.9 359.2,1550.4 359.5,1549.9 359.8,1549.3 360.1,1548.8 360.4,1548.1 360.8,1547.5 361.1,1546.9 361.4,1546.2 361.7,1545.5 362.0,1544.8 362.3,1544.1 362.6,1543.4 362.9,1542.7 363.2,1541.9 363.6,1541.2 363.9,1540.4 364.2,1539.7 364.5,1538.9 364.8,1538.2 365.1,1537.5 365.4,1536.7 365.7,1536.0 366.1,1535.3 366.4,1534.6 366.7,1533.9 367.0,1533.2 367.3,1532.6 367.6,1531.9 367.9,1531.3 368.2,1530.7 368.6,1530.1 368.9,1529.5 369.2,1529.0 369.5,1528.4 369.8,1527.9 370.1,1527.4 370.4,1526.9 370.7,1526.4 371.0,1525.9 371.4,1525.5 371.7,1525.0 372.0,1524.6 372.3,1524.2 372.6,1523.8 372.9,1523.4 373.2,1523.0 373.5,1522.6 373.9,1522.3 374.2,1521.9 374.5,1521.6 374.8,1521.3 375.1,1521.0 375.4,1520.7 375.7,1520.4 376.0,1520.1 376.4,1519.9 376.7,1519.7 377.0,1519.5 377.3,1519.3 377.6,1519.1 377.9,1519.0 378.2,1518.8 378.5,1518.7 378.8,1518.7 379.2,1518.6 379.5,1518.6 379.8,1518.5 380.1,1518.5 380.4,1518.5 380.7,1518.5 381.0,1518.5 381.3,1518.5 381.7,1518.5 382.0,1518.5 382.3,1518.5 382.6,1518.4 382.9,1518.4 383.2,1518.3 383.5,1518.2 383.8,1518.0 384.2,1517.8 384.5,1517.6 384.8,1517.3 385.1,1516.9 385.4,1516.5 385.7,1516.1 386.0,1515.5 386.3,1514.9 386.6,1514.2 387.0,1513.5 387.3,1512.7 387.6,1511.8 387.9,1510.8 388.2,1509.8 388.5,1508.7 388.8,1507.5 389.1,1506.2 389.5,1504.9 389.8,1503.4 390.1,1502.0 390.4,1500.4 390.7,1498.8 391.0,1497.1 391.3,1495.4 391.6,1493.6 391.9,1491.7 392.3,1489.8 392.6,1487.8 392.9,1485.8 393.2,1483.7 393.5,1481.6 393.8,1479.4 394.1,1477.2 394.4,1474.9 394.8,1472.6 395.1,1470.3 395.4,1467.9 395.7,1465.4 396.0,1463.0 396.3,1460.4 396.6,1457.9 396.9,1455.3 397.3,1452.7 397.6,1450.1 397.9,1447.4 398.2,1444.7 398.5,1442.0 398.8,1439.3 399.1,1436.5 399.4,1433.8 399.7,1431.1 400.1,1428.3 400.4,1425.6 400.7,1422.8 401.0,1420.1 401.3,1417.4 401.6,1414.7 401.9,1412.0 402.2,1409.4 402.6,1406.8 402.9,1404.2 403.2,1401.6 403.5,1399.0 403.8,1396.5 404.1,1394.0 404.4,1391.5 404.7,1389.1 405.1,1386.7 405.4,1384.3 405.7,1381.9 406.0,1379.5 406.3,1377.1 406.6,1374.7 406.9,1372.3 407.2,1370.0 407.5,1367.6 407.9,1365.2 408.2,1362.7 408.5,1360.3 408.8,1357.8 409.1,1355.3 409.4,1352.8 409.7,1350.2 410.0,1347.6 410.4,1345.0 410.7,1342.3 411.0,1339.6 411.3,1336.8 411.6,1334.0 411.9,1331.1 412.2,1328.2 412.5,1325.2 412.9,1322.2 413.2,1319.1 413.5,1316.0 413.8,1312.8 414.1,1309.6 414.4,1306.3 414.7,1302.9 415.0,1299.5 415.3,1296.0 415.7,1292.4 416.0,1288.9 416.3,1285.2 416.6,1281.5 416.9,1277.8 417.2,1274.0 417.5,1270.1 417.8,1266.2 418.2,1262.3 418.5,1258.4 418.8,1254.5 419.1,1250.5 419.4,1246.5 419.7,1242.6 420.0,1238.6 420.3,1234.7 420.7,1230.8 421.0,1226.9 421.3,1223.1 421.6,1219.4 421.9,1215.7 422.2,1212.1 422.5,1208.6 422.8,1205.2 423.1,1201.9 423.5,1198.7 423.8,1195.6 424.1,1192.6 424.4,1189.8 424.7,1187.1 425.0,1184.5 425.3,1182.1 425.6,1179.8 426.0,1177.6 426.3,1175.6 426.6,1173.7 426.9,1172.0 427.2,1170.4 427.5,1168.9 427.8,1167.6 428.1,1166.5 428.4,1165.5 428.8,1164.7 429.1,1164.0 429.4,1163.5 429.7,1163.1 430.0,1162.9 430.3,1162.9 430.6,1163.1 430.9,1163.5 431.3,1164.0 431.6,1164.8 431.9,1165.7 432.2,1166.9 432.5,1168.2 432.8,1169.8 433.1,1171.6 433.4,1173.6 433.8,1175.7 434.1,1178.2 434.4,1180.8 434.7,1183.6 435.0,1186.5 435.3,1189.7 435.6,1193.1 435.9,1196.6 436.2,1200.2 436.6,1204.0 436.9,1207.9 437.2,1211.9 437.5,1216.0 437.8,1220.2 438.1,1224.5 438.4,1228.8 438.7,1233.1 439.1,1237.5 439.4,1241.9 439.7,1246.3 440.0,1250.7 440.3,1255.0 440.6,1259.4 440.9,1263.7 441.2,1268.1 441.6,1272.4 441.9,1276.6 442.2,1280.9 442.5,1285.1 442.8,1289.4 443.1,1293.6 443.4,1297.8 443.7,1302.1 444.0,1306.3 444.4,1310.6 444.7,1314.9 445.0,1319.2 445.3,1323.6 445.6,1328.1 445.9,1332.5 446.2,1337.1 446.5,1341.7 446.9,1346.3 447.2,1351.0 447.5,1355.8 447.8,1360.6 448.1,1365.4 448.4,1370.3 448.7,1375.2 449.0,1380.1 449.4,1385.0 449.7,1389.9 450.0,1394.8 450.3,1399.6 450.6,1404.4 450.9,1409.2 451.2,1413.9 451.5,1418.5 451.8,1423.0 452.2,1427.4 452.5,1431.7 452.8,1435.9 453.1,1439.9 453.4,1443.9 453.7,1447.7 454.0,1451.3 454.3,1454.8 454.7,1458.2 455.0,1461.5 455.3,1464.6 455.6,1467.5 455.9,1470.4 456.2,1473.1 456.5,1475.7 456.8,1478.1 457.2,1480.5 457.5,1482.7 457.8,1484.9 458.1,1487.0 458.4,1488.9 458.7,1490.8 459.0,1492.7 459.3,1494.4 459.6,1496.1 460.0,1497.8 460.3,1499.4 460.6,1500.9 460.9,1502.4 461.2,1503.9 461.5,1505.3 461.8,1506.6 462.1,1508.0 462.5,1509.3 462.8,1510.5 463.1,1511.7 463.4,1512.9 463.7,1514.1 464.0,1515.2 464.3,1516.2 464.6,1517.3 465.0,1518.2 465.3,1519.2 465.6,1520.1 465.9,1520.9 466.2,1521.8 466.5,1522.5 466.8,1523.3 467.1,1524.0 467.4,1524.7 467.8,1525.3 468.1,1525.9 468.4,1526.5 468.7,1527.1 469.0,1527.6 469.3,1528.1 469.6,1528.6 469.9,1529.1 470.3,1529.6 470.6,1530.1 470.9,1530.5 471.2,1531.0 471.5,1531.5 471.8,1532.0 472.1,1532.5 472.4,1533.0 472.7,1533.5 473.1,1534.0 473.4,1534.5 473.7,1535.1 474.0,1535.7 474.3,1536.3 474.6,1536.9 474.9,1537.5 475.2,1538.1 475.6,1538.7 475.9,1539.4 476.2,1540.0 476.5,1540.7 476.8,1541.4 477.1,1542.1 477.4,1542.7 477.7,1543.4 478.1,1544.1 478.4,1544.7 478.7,1545.4 479.0,1546.1 479.3,1546.7 479.6,1547.3 479.9,1547.9 480.2,1548.5 480.5,1549.1 480.9,1549.6 481.2,1550.2 481.5,1550.7 481.8,1551.2 482.1,1551.6 482.4,1552.1 482.7,1552.5 483.0,1552.9 483.4,1553.3 483.7,1553.6 484.0,1554.0 484.3,1554.3 484.6,1554.6 484.9,1554.8 485.2,1555.1 485.5,1555.3 485.9,1555.5 486.2,1555.7 486.5,1555.9 486.8,1556.0 487.1,1556.2 487.4,1556.3 487.7,1556.4 488.0,1556.5 488.3,1556.6 488.7,1556.7 489.0,1556.8 489.3,1556.9 489.6,1556.9 489.9,1557.0 490.2,1557.0 490.5,1557.1 490.8,1557.1 491.2,1557.2 491.5,1557.2 491.8,1557.2 492.1,1557.2 492.4,1557.2 492.7,1557.3 493.0,1557.3 493.3,1557.3 493.7,1557.3 494.0,1557.3 494.3,1557.3 494.6,1557.3 494.9,1557.3 495.2,1557.3 495.5,1557.3 495.8,1557.3 496.1,1557.3 496.5,1557.3 496.8,1557.4 497.1,1557.4 497.4,1557.4 497.7,1557.4 498.0,1557.4 498.3,1557.4 498.6,1557.4 499.0,1557.4 499.3,1557.4 499.6,1557.4 499.9,1557.4 500.2,1557.4 500.5,1557.4 500.8,1557.4" fill="none" stroke="#bfbf00" stroke-width="1.85" stroke-linejoin="round"/>
<polyline points="415.7,1557.4 415.8,1557.3 415.9,1557.1 416.3,1556.9 417.0,1556.5 417.3,1556.0 417.5,1555.4 417.7,1554.7 417.9,1553.9 418.1,1553.0 418.2,1552.0 418.3,1550.9 418.4,1549.7 418.5,1548.3 418.6,1546.9 418.7,1545.3 418.8,1543.7 418.9,1541.9 419.0,1540.0 419.1,1538.1 419.1,1536.0 419.2,1533.8 419.3,1531.5 419.3,1529.1 419.4,1526.6 419.5,1523.9 419.6,1521.2 419.6,1518.4 419.7,1515.4 419.8,1512.4 419.8,1509.2 419.9,1506.0 420.0,1502.6 420.0,1499.1 420.1,1495.5 420.2,1491.8 420.3,1488.0 420.4,1484.1 420.5,1480.1 420.5,1476.0 420.6,1471.8 420.7,1467.5 420.8,1463.0 420.8,1458.5 420.9,1453.8 421.0,1449.1 421.0,1444.2 421.1,1439.2 421.1,1434.1 421.2,1428.9 421.2,1423.7 421.3,1418.3 421.4,1412.7 421.5,1407.1 421.6,1401.4 421.7,1395.6 421.8,1389.6 421.9,1383.6 422.0,1377.4 422.1,1371.2 422.1,1364.8 422.2,1358.4 422.3,1351.8 422.5,1345.1 422.6,1338.3 422.7,1331.4 422.8,1324.4 422.8,1317.3 422.9,1310.1 422.9,1302.7 423.0,1295.3 423.0,1287.8 423.0,1280.1 423.1,1272.4 423.1,1264.5 423.2,1256.5 423.2,1248.4 423.3,1240.3 423.3,1232.0 423.4,1223.6 423.4,1215.1 423.5,1206.5 423.5,1197.7 423.6,1188.9 423.7,1180.0 423.7,1171.0 423.8,1161.8 423.8,1152.6 423.9,1143.2 423.9,1133.7 423.9,1124.2 424.0,1114.5 424.0,1104.7 424.1,1094.8 424.1,1084.8 424.2,1074.7 424.2,1064.5 424.3,1054.1 424.3,1043.7 424.4,1033.2 424.4,1022.5 424.5,1011.8 424.6,1000.9 424.6,990.0 424.7,978.9 424.7,967.7 424.8,956.4 424.9,945.0 424.9,933.5 425.0,921.9 425.0,916.9 425.1,916.9 425.1,916.9 425.2,916.9 425.2,916.9 425.3,916.9 425.3,916.9 425.4,916.9 425.4,916.9 425.5,916.9 434.5,916.9 434.5,916.9 434.6,916.9 434.6,916.9 434.7,916.9 434.7,916.9 434.8,916.9 434.8,916.9 434.9,916.9 435.0,916.9 435.0,921.9 435.1,933.5 435.1,945.0 435.2,956.4 435.2,967.7 435.3,978.9 435.4,990.0 435.4,1000.9 435.5,1011.8 435.5,1022.5 435.6,1033.2 435.7,1043.7 435.7,1054.1 435.8,1064.5 435.8,1074.7 435.9,1084.8 435.9,1094.8 436.0,1104.7 436.0,1114.5 436.1,1124.2 436.1,1133.7 436.2,1143.2 436.2,1152.6 436.3,1161.8 436.4,1171.0 436.5,1180.0 436.6,1188.9 436.7,1197.7 436.8,1206.5 436.9,1215.1 437.1,1223.6 437.2,1232.0 437.3,1240.3 437.4,1248.4 437.5,1256.5 437.6,1264.5 437.7,1272.4 437.8,1280.1 437.9,1287.8 438.0,1295.3 438.1,1302.7 438.2,1310.1 438.3,1317.3 438.4,1324.4 438.5,1331.4 438.6,1338.3 438.8,1345.1 438.9,1351.8 439.0,1358.4 439.2,1364.8 439.3,1371.2 439.5,1377.4 439.6,1383.6 439.7,1389.6 439.9,1395.6 440.0,1401.4 440.1,1407.1 440.2,1412.7 440.3,1418.3 440.4,1423.7 440.5,1428.9 440.7,1434.1 440.9,1439.2 441.0,1444.2 441.1,1449.1 441.2,1453.8 441.3,1458.5 441.4,1463.0 441.5,1467.5 441.6,1471.8 441.7,1476.0 441.8,1480.1 441.9,1484.1 442.1,1488.0 442.2,1491.8 442.3,1495.5 442.4,1499.1 442.5,1502.6 442.6,1506.0 442.7,1509.2 442.8,1512.4 442.9,1515.4 443.0,1518.4 443.1,1521.2 443.1,1523.9 443.2,1526.6 443.3,1529.1 443.4,1531.5 443.5,1533.8 443.5,1536.0 443.6,1538.1 443.7,1540.0 443.8,1541.9 443.9,1543.7 444.0,1545.3 444.1,1546.9 444.2,1548.3 444.3,1549.7 444.4,1550.9 444.5,1552.0 444.6,1553.0 444.8,1553.9 445.0,1554.7 445.2,1555.4 445.4,1556.0 445.6,1556.5 445.8,1556.9 445.9,1557.1 445.9,1557.3 445.9,1557.4" fill="none" stroke="#008000" stroke-width="1.85" stroke-linejoin="round"/>
<line x1="409.70" y1="936.85" x2="409.70" y2="1557.36" stroke="#ff0000" stroke-width="3.9"/>
</g>
<line x1="162.35" y1="1557.36" x2="162.35" y2="1561.36" stroke="#000" stroke-width="1.05"/><text class="t" x="162.35" y="1581.16" text-anchor="middle">0.0</text>
<line x1="261.27" y1="1557.36" x2="261.27" y2="1561.36" stroke="#000" stroke-width="1.05"/><text class="t" x="261.27" y="1581.16" text-anchor="middle">0.2</text>
<line x1="360.20" y1="1557.36" x2="360.20" y2="1561.36" stroke="#000" stroke-width="1.05"/><text class="t" x="360.20" y="1581.16" text-anchor="middle">0.4</text>
<line x1="459.12" y1="1557.36" x2="459.12" y2="1561.36" stroke="#000" stroke-width="1.05"/><text class="t" x="459.12" y="1581.16" text-anchor="middle">0.6</text>
<line x1="558.05" y1="1557.36" x2="558.05" y2="1561.36" stroke="#000" stroke-width="1.05"/><text class="t" x="558.05" y="1581.16" text-anchor="middle">0.8</text>
<line x1="656.97" y1="1557.36" x2="656.97" y2="1561.36" stroke="#000" stroke-width="1.05"/><text class="t" x="656.97" y="1581.16" text-anchor="middle">1.0</text>
<line x1="86.99" y1="1557.36" x2="91.39" y2="1557.36" stroke="#000" stroke-width="1.05"/><text class="t" x="83.39" y="1565.56" text-anchor="end">0</text>
<line x1="86.99" y1="1487.38" x2="91.39" y2="1487.38" stroke="#000" stroke-width="1.05"/><text class="t" x="83.39" y="1495.58" text-anchor="end">2</text>
<line x1="86.99" y1="1417.40" x2="91.39" y2="1417.40" stroke="#000" stroke-width="1.05"/><text class="t" x="83.39" y="1425.60" text-anchor="end">4</text>
<line x1="86.99" y1="1347.43" x2="91.39" y2="1347.43" stroke="#000" stroke-width="1.05"/><text class="t" x="83.39" y="1355.63" text-anchor="end">6</text>
<line x1="86.99" y1="1277.45" x2="91.39" y2="1277.45" stroke="#000" stroke-width="1.05"/><text class="t" x="83.39" y="1285.65" text-anchor="end">8</text>
<line x1="86.99" y1="1207.47" x2="91.39" y2="1207.47" stroke="#000" stroke-width="1.05"/><text class="t" x="83.39" y="1215.67" text-anchor="end">10</text>
<line x1="86.99" y1="1137.49" x2="91.39" y2="1137.49" stroke="#000" stroke-width="1.05"/><text class="t" x="83.39" y="1145.69" text-anchor="end">12</text>
<line x1="86.99" y1="1067.51" x2="91.39" y2="1067.51" stroke="#000" stroke-width="1.05"/><text class="t" x="83.39" y="1075.71" text-anchor="end">14</text>
<line x1="86.99" y1="997.54" x2="91.39" y2="997.54" stroke="#000" stroke-width="1.05"/><text class="t" x="83.39" y="1005.74" text-anchor="end">16</text>
<path d="M91.39,1557.36 L91.39,936.85 L728.05,936.85 L728.05,1557.36" fill="none" stroke="#222" stroke-width="1.2" stroke-linecap="square"/>
<line x1="91.39" y1="1557.36" x2="728.05" y2="1557.36" stroke="#000" stroke-width="1.26" stroke-linecap="square"/>
<text class="t" x="409.72" y="1605.76" text-anchor="middle">y (m)</text>
<text class="t" transform="translate(48.50,1247.11) rotate(-90)" text-anchor="middle">Normalized frequency</text>
<text class="c" x="399.70" y="1713.06" text-anchor="middle" textLength="361.5" lengthAdjust="spacingAndGlyphs">(c) vertical position</text>
<defs><clipPath id="cld"><rect x="912.94" y="936.85" width="636.66" height="620.51"/></clipPath></defs>
<g clip-path="url(#cld)">
<polygon points="941.1,1557.4 941.1,1556.3 942.3,1556.2 943.4,1556.2 944.6,1556.1 945.8,1556.1 946.9,1556.0 948.1,1556.0 949.2,1555.9 950.4,1555.8 951.6,1555.8 952.7,1555.7 953.9,1555.7 955.0,1555.6 956.2,1555.5 957.3,1555.5 958.5,1555.4 959.7,1555.3 960.8,1555.2 962.0,1555.2 963.1,1555.1 964.3,1555.0 965.4,1554.9 966.6,1554.8 967.8,1554.8 968.9,1554.7 970.1,1554.6 971.2,1554.5 972.4,1554.4 973.6,1554.3 974.7,1554.2 975.9,1554.1 977.0,1554.0 978.2,1553.8 979.3,1553.7 980.5,1553.6 981.7,1553.5 982.8,1553.3 984.0,1553.2 985.1,1553.1 986.3,1552.9 987.5,1552.8 988.6,1552.6 989.8,1552.4 990.9,1552.3 992.1,1552.1 993.2,1551.9 994.4,1551.7 995.6,1551.6 996.7,1551.4 997.9,1551.2 999.0,1551.0 1000.2,1550.8 1001.4,1550.6 1002.5,1550.3 1003.7,1550.1 1004.8,1549.9 1006.0,1549.7 1007.1,1549.4 1008.3,1549.2 1009.5,1548.9 1010.6,1548.7 1011.8,1548.4 1012.9,1548.2 1014.1,1547.9 1015.3,1547.6 1016.4,1547.3 1017.6,1547.0 1018.7,1546.8 1019.9,1546.5 1021.0,1546.2 1022.2,1545.8 1023.4,1545.5 1024.5,1545.2 1025.7,1544.9 1026.8,1544.5 1028.0,1544.2 1029.2,1543.8 1030.3,1543.5 1031.5,1543.1 1032.6,1542.7 1033.8,1542.3 1034.9,1541.9 1036.1,1541.5 1037.3,1541.1 1038.4,1540.7 1039.6,1540.2 1040.7,1539.8 1041.9,1539.3 1043.1,1538.9 1044.2,1538.4 1045.4,1537.9 1046.5,1537.4 1047.7,1536.9 1048.8,1536.4 1050.0,1535.9 1051.2,1535.4 1052.3,1534.8 1053.5,1534.3 1054.6,1533.7 1055.8,1533.2 1057.0,1532.6 1058.1,1532.1 1059.3,1531.5 1060.4,1530.9 1061.6,1530.3 1062.7,1529.7 1063.9,1529.1 1065.1,1528.5 1066.2,1527.9 1067.4,1527.3 1068.5,1526.7 1069.7,1526.1 1070.8,1525.5 1072.0,1524.9 1073.2,1524.3 1074.3,1523.6 1075.5,1523.0 1076.6,1522.3 1077.8,1521.7 1079.0,1521.0 1080.1,1520.4 1081.3,1519.7 1082.4,1519.0 1083.6,1518.2 1084.7,1517.5 1085.9,1516.8 1087.1,1516.0 1088.2,1515.2 1089.4,1514.4 1090.5,1513.5 1091.7,1512.7 1092.9,1511.8 1094.0,1510.8 1095.2,1509.9 1096.3,1508.9 1097.5,1507.8 1098.6,1506.7 1099.8,1505.6 1101.0,1504.5 1102.1,1503.3 1103.3,1502.0 1104.4,1500.7 1105.6,1499.4 1106.8,1498.0 1107.9,1496.6 1109.1,1495.1 1110.2,1493.6 1111.4,1492.0 1112.5,1490.4 1113.7,1488.7 1114.9,1487.0 1116.0,1485.2 1117.2,1483.4 1118.3,1481.6 1119.5,1479.7 1120.7,1477.8 1121.8,1475.8 1123.0,1473.8 1124.1,1471.7 1125.3,1469.6 1126.4,1467.5 1127.6,1465.3 1128.8,1463.1 1129.9,1460.9 1131.1,1458.7 1132.2,1456.4 1133.4,1454.1 1134.6,1451.8 1135.7,1449.5 1136.9,1447.2 1138.0,1444.8 1139.2,1442.5 1140.3,1440.1 1141.5,1437.7 1142.7,1435.4 1143.8,1433.0 1145.0,1430.6 1146.1,1428.3 1147.3,1425.9 1148.5,1423.6 1149.6,1421.3 1150.8,1419.0 1151.9,1416.7 1153.1,1414.5 1154.2,1412.3 1155.4,1410.1 1156.6,1407.9 1157.7,1405.8 1158.9,1403.8 1160.0,1401.8 1161.2,1399.8 1162.3,1397.9 1163.5,1396.0 1164.7,1394.3 1165.8,1392.5 1167.0,1390.9 1168.1,1389.3 1169.3,1387.8 1170.5,1386.3 1171.6,1384.9 1172.8,1383.6 1173.9,1382.4 1175.1,1381.3 1176.2,1380.2 1177.4,1379.3 1178.6,1378.4 1179.7,1377.5 1180.9,1376.8 1182.0,1376.2 1183.2,1375.6 1184.4,1375.1 1185.5,1374.7 1186.7,1374.4 1187.8,1374.1 1189.0,1373.9 1190.1,1373.8 1191.3,1373.8 1192.5,1373.8 1193.6,1373.9 1194.8,1374.0 1195.9,1374.2 1197.1,1374.5 1198.3,1374.8 1199.4,1375.2 1200.6,1375.6 1201.7,1376.1 1202.9,1376.6 1204.0,1377.1 1205.2,1377.7 1206.4,1378.3 1207.5,1379.0 1208.7,1379.7 1209.8,1380.4 1211.0,1381.2 1212.2,1382.0 1213.3,1382.8 1214.5,1383.7 1215.6,1384.6 1216.8,1385.5 1217.9,1386.4 1219.1,1387.4 1220.3,1388.5 1221.4,1389.5 1222.6,1390.6 1223.7,1391.7 1224.9,1392.9 1226.1,1394.1 1227.2,1395.3 1228.4,1396.6 1229.5,1397.9 1230.7,1399.2 1231.8,1400.6 1233.0,1402.0 1234.2,1403.5 1235.3,1405.0 1236.5,1406.5 1237.6,1408.0 1238.8,1409.6 1240.0,1411.3 1241.1,1412.9 1242.3,1414.6 1243.4,1416.3 1244.6,1418.1 1245.7,1419.8 1246.9,1421.6 1248.1,1423.4 1249.2,1425.2 1250.4,1427.1 1251.5,1428.9 1252.7,1430.8 1253.9,1432.7 1255.0,1434.6 1256.2,1436.5 1257.3,1438.3 1258.5,1440.2 1259.6,1442.1 1260.8,1444.0 1262.0,1445.8 1263.1,1447.7 1264.3,1449.5 1265.4,1451.4 1266.6,1453.2 1267.7,1455.0 1268.9,1456.7 1270.1,1458.5 1271.2,1460.2 1272.4,1461.9 1273.5,1463.6 1274.7,1465.3 1275.9,1466.9 1277.0,1468.5 1278.2,1470.1 1279.3,1471.6 1280.5,1473.2 1281.6,1474.7 1282.8,1476.2 1284.0,1477.6 1285.1,1479.0 1286.3,1480.4 1287.4,1481.8 1288.6,1483.2 1289.8,1484.5 1290.9,1485.8 1292.1,1487.1 1293.2,1488.4 1294.4,1489.6 1295.5,1490.9 1296.7,1492.1 1297.9,1493.3 1299.0,1494.4 1300.2,1495.6 1301.3,1496.8 1302.5,1497.9 1303.7,1499.0 1304.8,1500.2 1306.0,1501.3 1307.1,1502.4 1308.3,1503.5 1309.4,1504.6 1310.6,1505.7 1311.8,1506.8 1312.9,1507.8 1314.1,1508.9 1315.2,1510.0 1316.4,1511.1 1317.6,1512.1 1318.7,1513.2 1319.9,1514.3 1321.0,1515.3 1322.2,1516.4 1323.3,1517.4 1324.5,1518.5 1325.7,1519.6 1326.8,1520.6 1328.0,1521.6 1329.1,1522.7 1330.3,1523.7 1331.5,1524.8 1332.6,1525.8 1333.8,1526.8 1334.9,1527.8 1336.1,1528.8 1337.2,1529.8 1338.4,1530.8 1339.6,1531.7 1340.7,1532.6 1341.9,1533.6 1343.0,1534.5 1344.2,1535.4 1345.4,1536.2 1346.5,1537.1 1347.7,1537.9 1348.8,1538.7 1350.0,1539.4 1351.1,1540.2 1352.3,1540.9 1353.5,1541.5 1354.6,1542.2 1355.8,1542.8 1356.9,1543.3 1358.1,1543.9 1359.3,1544.4 1360.4,1544.8 1361.6,1545.3 1362.7,1545.6 1363.9,1546.0 1365.0,1546.3 1366.2,1546.5 1367.4,1546.8 1368.5,1546.9 1369.7,1547.1 1370.8,1547.2 1372.0,1547.2 1373.1,1547.2 1374.3,1547.2 1375.5,1547.1 1376.6,1547.0 1377.8,1546.9 1378.9,1546.7 1380.1,1546.4 1381.3,1546.2 1382.4,1545.8 1383.6,1545.5 1384.7,1545.1 1385.9,1544.7 1387.0,1544.3 1388.2,1543.8 1389.4,1543.3 1390.5,1542.7 1391.7,1542.2 1392.8,1541.6 1394.0,1541.0 1395.2,1540.4 1396.3,1539.7 1397.5,1539.1 1398.6,1538.4 1399.8,1537.7 1400.9,1537.0 1402.1,1536.3 1403.3,1535.7 1404.4,1535.0 1405.6,1534.3 1406.7,1533.6 1407.9,1533.0 1409.1,1532.3 1410.2,1531.7 1411.4,1531.1 1412.5,1530.5 1413.7,1529.9 1414.8,1529.4 1416.0,1528.9 1417.2,1528.4 1418.3,1527.9 1419.5,1527.5 1420.6,1527.2 1421.8,1526.8 1423.0,1526.6 1424.1,1526.3 1425.3,1526.1 1426.4,1526.0 1427.6,1525.9 1428.7,1525.8 1429.9,1525.8 1431.1,1525.8 1432.2,1525.9 1433.4,1526.0 1434.5,1526.2 1435.7,1526.4 1436.9,1526.7 1438.0,1527.0 1439.2,1527.4 1440.3,1527.8 1441.5,1528.2 1442.6,1528.7 1443.8,1529.2 1445.0,1529.7 1446.1,1530.3 1447.3,1530.9 1448.4,1531.5 1449.6,1532.2 1450.8,1532.8 1451.9,1533.5 1453.1,1534.2 1454.2,1534.9 1455.4,1535.7 1456.5,1536.4 1457.7,1537.1 1458.9,1537.9 1460.0,1538.6 1461.2,1539.4 1462.3,1540.1 1463.5,1540.8 1464.7,1541.6 1465.8,1542.3 1467.0,1543.0 1468.1,1543.7 1469.3,1544.4 1470.4,1545.0 1471.6,1545.7 1472.8,1546.3 1473.9,1546.9 1475.1,1547.5 1476.2,1548.1 1477.4,1548.7 1478.5,1549.2 1479.7,1549.7 1480.9,1550.2 1482.0,1550.7 1483.2,1551.1 1484.3,1551.5 1485.5,1551.9 1486.7,1552.3 1487.8,1552.7 1489.0,1553.0 1490.1,1553.4 1491.3,1553.7 1492.4,1554.0 1493.6,1554.2 1494.8,1554.5 1495.9,1554.7 1497.1,1554.9 1498.2,1555.2 1499.4,1555.3 1500.6,1555.5 1501.7,1555.7 1502.9,1555.8 1504.0,1556.0 1505.2,1556.1 1506.3,1556.2 1507.5,1556.3 1508.7,1556.4 1509.8,1556.5 1511.0,1556.6 1512.1,1556.7 1513.3,1556.8 1514.5,1556.8 1515.6,1556.9 1516.8,1556.9 1517.9,1557.0 1519.1,1557.0 1519.1,1557.4" fill="#4682b4" fill-opacity="0.25"/>
<polygon points="1139.3,1557.4 1139.3,1557.2 1139.8,1557.1 1140.2,1557.1 1140.6,1557.1 1141.1,1557.0 1141.5,1557.0 1142.0,1556.9 1142.4,1556.9 1142.8,1556.8 1143.3,1556.8 1143.7,1556.7 1144.2,1556.6 1144.6,1556.5 1145.0,1556.5 1145.5,1556.4 1145.9,1556.2 1146.3,1556.1 1146.8,1556.0 1147.2,1555.9 1147.7,1555.7 1148.1,1555.5 1148.5,1555.3 1149.0,1555.1 1149.4,1554.9 1149.9,1554.7 1150.3,1554.4 1150.7,1554.2 1151.2,1553.9 1151.6,1553.6 1152.1,1553.2 1152.5,1552.9 1152.9,1552.5 1153.4,1552.1 1153.8,1551.6 1154.2,1551.2 1154.7,1550.7 1155.1,1550.2 1155.6,1549.6 1156.0,1549.0 1156.4,1548.4 1156.9,1547.7 1157.3,1547.0 1157.8,1546.3 1158.2,1545.5 1158.6,1544.7 1159.1,1543.9 1159.5,1543.0 1160.0,1542.1 1160.4,1541.1 1160.8,1540.1 1161.3,1539.0 1161.7,1537.9 1162.1,1536.7 1162.6,1535.5 1163.0,1534.3 1163.5,1533.0 1163.9,1531.6 1164.3,1530.2 1164.8,1528.8 1165.2,1527.3 1165.7,1525.8 1166.1,1524.2 1166.5,1522.5 1167.0,1520.8 1167.4,1519.1 1167.8,1517.3 1168.3,1515.5 1168.7,1513.6 1169.2,1511.6 1169.6,1509.6 1170.0,1507.6 1170.5,1505.5 1170.9,1503.4 1171.4,1501.2 1171.8,1498.9 1172.2,1496.7 1172.7,1494.3 1173.1,1492.0 1173.6,1489.6 1174.0,1487.1 1174.4,1484.7 1174.9,1482.1 1175.3,1479.6 1175.7,1477.0 1176.2,1474.4 1176.6,1471.7 1177.1,1469.1 1177.5,1466.4 1177.9,1463.7 1178.4,1460.9 1178.8,1458.2 1179.3,1455.4 1179.7,1452.6 1180.1,1449.9 1180.6,1447.1 1181.0,1444.3 1181.5,1441.5 1181.9,1438.7 1182.3,1435.9 1182.8,1433.2 1183.2,1430.4 1183.6,1427.6 1184.1,1424.9 1184.5,1422.2 1185.0,1419.5 1185.4,1416.8 1185.8,1414.2 1186.3,1411.6 1186.7,1409.0 1187.2,1406.4 1187.6,1403.9 1188.0,1401.4 1188.5,1398.9 1188.9,1396.4 1189.4,1394.0 1189.8,1391.6 1190.2,1389.3 1190.7,1387.0 1191.1,1384.7 1191.5,1382.4 1192.0,1380.2 1192.4,1378.0 1192.9,1375.8 1193.3,1373.7 1193.7,1371.6 1194.2,1369.6 1194.6,1367.5 1195.1,1365.5 1195.5,1363.6 1195.9,1361.6 1196.4,1359.7 1196.8,1357.9 1197.3,1356.0 1197.7,1354.3 1198.1,1352.5 1198.6,1350.8 1199.0,1349.1 1199.4,1347.4 1199.9,1345.8 1200.3,1344.2 1200.8,1342.7 1201.2,1341.2 1201.6,1339.8 1202.1,1338.3 1202.5,1337.0 1203.0,1335.6 1203.4,1334.4 1203.8,1333.1 1204.3,1331.9 1204.7,1330.7 1205.2,1329.6 1205.6,1328.5 1206.0,1327.4 1206.5,1326.4 1206.9,1325.4 1207.3,1324.5 1207.8,1323.6 1208.2,1322.7 1208.7,1321.8 1209.1,1320.9 1209.5,1320.1 1210.0,1319.3 1210.4,1318.5 1210.9,1317.8 1211.3,1317.0 1211.7,1316.2 1212.2,1315.5 1212.6,1314.8 1213.1,1314.1 1213.5,1313.3 1213.9,1312.6 1214.4,1311.9 1214.8,1311.2 1215.2,1310.5 1215.7,1309.8 1216.1,1309.1 1216.6,1308.4 1217.0,1307.7 1217.4,1307.0 1217.9,1306.4 1218.3,1305.7 1218.8,1305.0 1219.2,1304.4 1219.6,1303.8 1220.1,1303.1 1220.5,1302.5 1221.0,1302.0 1221.4,1301.4 1221.8,1300.8 1222.3,1300.3 1222.7,1299.8 1223.1,1299.3 1223.6,1298.9 1224.0,1298.4 1224.5,1298.0 1224.9,1297.6 1225.3,1297.2 1225.8,1296.8 1226.2,1296.4 1226.7,1296.0 1227.1,1295.7 1227.5,1295.3 1228.0,1294.9 1228.4,1294.5 1228.9,1294.1 1229.3,1293.6 1229.7,1293.2 1230.2,1292.7 1230.6,1292.1 1231.0,1291.5 1231.5,1290.9 1231.9,1290.2 1232.4,1289.4 1232.8,1288.5 1233.2,1287.6 1233.7,1286.6 1234.1,1285.6 1234.6,1284.4 1235.0,1283.2 1235.4,1281.9 1235.9,1280.4 1236.3,1278.9 1236.7,1277.4 1237.2,1275.7 1237.6,1273.9 1238.1,1272.1 1238.5,1270.2 1238.9,1268.2 1239.4,1266.1 1239.8,1264.0 1240.3,1261.8 1240.7,1259.6 1241.1,1257.2 1241.6,1254.9 1242.0,1252.5 1242.5,1250.1 1242.9,1247.6 1243.3,1245.1 1243.8,1242.6 1244.2,1240.1 1244.6,1237.5 1245.1,1235.0 1245.5,1232.4 1246.0,1229.9 1246.4,1227.4 1246.8,1224.8 1247.3,1222.3 1247.7,1219.9 1248.2,1217.4 1248.6,1214.9 1249.0,1212.5 1249.5,1210.1 1249.9,1207.8 1250.4,1205.4 1250.8,1203.1 1251.2,1200.9 1251.7,1198.6 1252.1,1196.5 1252.5,1194.3 1253.0,1192.2 1253.4,1190.1 1253.9,1188.1 1254.3,1186.2 1254.7,1184.2 1255.2,1182.4 1255.6,1180.6 1256.1,1178.8 1256.5,1177.2 1256.9,1175.6 1257.4,1174.0 1257.8,1172.6 1258.3,1171.2 1258.7,1170.0 1259.1,1168.8 1259.6,1167.7 1260.0,1166.7 1260.4,1165.9 1260.9,1165.1 1261.3,1164.5 1261.8,1164.0 1262.2,1163.7 1262.6,1163.4 1263.1,1163.3 1263.5,1163.4 1264.0,1163.6 1264.4,1163.9 1264.8,1164.4 1265.3,1165.1 1265.7,1165.9 1266.2,1166.8 1266.6,1167.9 1267.0,1169.2 1267.5,1170.5 1267.9,1172.1 1268.3,1173.8 1268.8,1175.6 1269.2,1177.6 1269.7,1179.7 1270.1,1181.9 1270.5,1184.3 1271.0,1186.8 1271.4,1189.4 1271.9,1192.2 1272.3,1195.0 1272.7,1198.0 1273.2,1201.1 1273.6,1204.3 1274.1,1207.6 1274.5,1211.0 1274.9,1214.5 1275.4,1218.0 1275.8,1221.7 1276.2,1225.5 1276.7,1229.3 1277.1,1233.3 1277.6,1237.3 1278.0,1241.4 1278.4,1245.6 1278.9,1249.9 1279.3,1254.3 1279.8,1258.8 1280.2,1263.3 1280.6,1267.9 1281.1,1272.6 1281.5,1277.4 1282.0,1282.3 1282.4,1287.2 1282.8,1292.2 1283.3,1297.3 1283.7,1302.5 1284.1,1307.7 1284.6,1313.0 1285.0,1318.3 1285.5,1323.7 1285.9,1329.2 1286.3,1334.7 1286.8,1340.2 1287.2,1345.8 1287.7,1351.4 1288.1,1357.0 1288.5,1362.6 1289.0,1368.2 1289.4,1373.8 1289.9,1379.4 1290.3,1384.9 1290.7,1390.5 1291.2,1396.0 1291.6,1401.4 1292.0,1406.8 1292.5,1412.1 1292.9,1417.4 1293.4,1422.6 1293.8,1427.6 1294.2,1432.6 1294.7,1437.5 1295.1,1442.3 1295.6,1447.0 1296.0,1451.5 1296.4,1455.9 1296.9,1460.2 1297.3,1464.4 1297.8,1468.5 1298.2,1472.4 1298.6,1476.1 1299.1,1479.8 1299.5,1483.3 1299.9,1486.6 1300.4,1489.9 1300.8,1493.0 1301.3,1495.9 1301.7,1498.8 1302.1,1501.5 1302.6,1504.0 1303.0,1506.5 1303.5,1508.9 1303.9,1511.1 1304.3,1513.2 1304.8,1515.2 1305.2,1517.1 1305.6,1519.0 1306.1,1520.7 1306.5,1522.3 1307.0,1523.9 1307.4,1525.4 1307.8,1526.8 1308.3,1528.1 1308.7,1529.4 1309.2,1530.6 1309.6,1531.8 1310.0,1532.9 1310.5,1533.9 1310.9,1534.9 1311.4,1535.9 1311.8,1536.8 1312.2,1537.7 1312.7,1538.6 1313.1,1539.4 1313.5,1540.2 1314.0,1540.9 1314.4,1541.7 1314.9,1542.4 1315.3,1543.0 1315.7,1543.7 1316.2,1544.3 1316.6,1544.9 1317.1,1545.5 1317.5,1546.1 1317.9,1546.7 1318.4,1547.2 1318.8,1547.7 1319.3,1548.2 1319.7,1548.7 1320.1,1549.2 1320.6,1549.6 1321.0,1550.0 1321.4,1550.5 1321.9,1550.9 1322.3,1551.2 1322.8,1551.6 1323.2,1552.0 1323.6,1552.3 1324.1,1552.6 1324.5,1552.9 1325.0,1553.2 1325.4,1553.5 1325.8,1553.8 1326.3,1554.0 1326.7,1554.2 1327.2,1554.5 1327.6,1554.7 1328.0,1554.9 1328.5,1555.1 1328.9,1555.3 1329.3,1555.4 1329.8,1555.6 1330.2,1555.7 1330.7,1555.9 1331.1,1556.0 1331.5,1556.1 1332.0,1556.2 1332.4,1556.3 1332.9,1556.4 1333.3,1556.5 1333.7,1556.6 1334.2,1556.6 1334.6,1556.7 1335.1,1556.8 1335.5,1556.8 1335.9,1556.9 1336.4,1556.9 1336.8,1557.0 1337.2,1557.0 1337.7,1557.1 1338.1,1557.1 1338.6,1557.1 1339.0,1557.1 1339.4,1557.2 1339.9,1557.2 1340.3,1557.2 1340.8,1557.2 1341.2,1557.2 1341.6,1557.3 1342.1,1557.3 1342.5,1557.3 1343.0,1557.3 1343.4,1557.3 1343.8,1557.3 1344.3,1557.3 1344.7,1557.3 1345.1,1557.3 1345.6,1557.3 1346.0,1557.3 1346.5,1557.3 1346.9,1557.3 1347.3,1557.3 1347.8,1557.3 1348.2,1557.3 1348.7,1557.3 1349.1,1557.3 1349.5,1557.4 1350.0,1557.4 1350.4,1557.4 1350.9,1557.4 1351.3,1557.4 1351.7,1557.4 1352.2,1557.4 1352.6,1557.4 1353.0,1557.4 1353.5,1557.4 1353.9,1557.4 1354.4,1557.4 1354.8,1557.4 1355.2,1557.4 1355.7,1557.4 1356.1,1557.4 1356.6,1557.4 1357.0,1557.4 1357.4,1557.4 1357.9,1557.4 1358.3,1557.4 1358.3,1557.4" fill="#bfbf00" fill-opacity="0.25"/>
<polygon points="1200.3,1557.4 1200.3,1557.4 1200.4,1557.4 1200.6,1557.4 1200.7,1557.4 1200.8,1557.3 1200.9,1557.3 1201.1,1557.3 1201.2,1557.3 1201.3,1557.3 1201.4,1557.3 1201.6,1557.3 1201.7,1557.3 1201.8,1557.3 1201.9,1557.3 1202.1,1557.2 1202.2,1557.2 1202.3,1557.2 1202.5,1557.1 1202.6,1557.0 1202.7,1557.0 1202.8,1556.9 1203.0,1556.8 1203.1,1556.7 1203.2,1556.5 1203.3,1556.4 1203.5,1556.2 1203.6,1555.9 1203.7,1555.7 1203.8,1555.3 1204.0,1555.0 1204.1,1554.6 1204.2,1554.1 1204.3,1553.6 1204.5,1553.0 1204.6,1552.3 1204.7,1551.6 1204.8,1550.7 1205.0,1549.8 1205.1,1548.8 1205.2,1547.7 1205.4,1546.5 1205.5,1545.1 1205.6,1543.7 1205.7,1542.2 1205.9,1540.5 1206.0,1538.8 1206.1,1536.9 1206.2,1535.0 1206.4,1532.9 1206.5,1530.8 1206.6,1528.6 1206.7,1526.4 1206.9,1524.1 1207.0,1521.8 1207.1,1519.4 1207.2,1517.1 1207.4,1514.8 1207.5,1512.5 1207.6,1510.3 1207.7,1508.2 1207.9,1506.2 1208.0,1504.3 1208.1,1502.5 1208.3,1500.9 1208.4,1499.4 1208.5,1498.1 1208.6,1497.0 1208.8,1496.0 1208.9,1495.3 1209.0,1494.7 1209.1,1494.4 1209.3,1494.2 1209.4,1494.1 1209.5,1494.3 1209.6,1494.6 1209.8,1495.0 1209.9,1495.5 1210.0,1496.1 1210.1,1496.7 1210.3,1497.5 1210.4,1498.2 1210.5,1498.9 1210.6,1499.6 1210.8,1500.3 1210.9,1500.8 1211.0,1501.4 1211.2,1501.8 1211.3,1502.1 1211.4,1502.3 1211.5,1502.3 1211.7,1502.3 1211.8,1502.1 1211.9,1501.8 1212.0,1501.4 1212.2,1500.9 1212.3,1500.3 1212.4,1499.7 1212.5,1499.0 1212.7,1498.2 1212.8,1497.5 1212.9,1496.8 1213.0,1496.1 1213.2,1495.5 1213.3,1495.0 1213.4,1494.6 1213.5,1494.3 1213.7,1494.1 1213.8,1494.2 1213.9,1494.3 1214.1,1494.7 1214.2,1495.2 1214.3,1496.0 1214.4,1496.9 1214.6,1498.0 1214.7,1499.3 1214.8,1500.7 1214.9,1502.4 1215.1,1504.1 1215.2,1506.0 1215.3,1508.0 1215.4,1510.2 1215.6,1512.4 1215.7,1514.6 1215.8,1516.9 1215.9,1519.2 1216.1,1521.6 1216.2,1523.9 1216.3,1526.2 1216.4,1528.4 1216.6,1530.6 1216.7,1532.8 1216.8,1534.8 1217.0,1536.8 1217.1,1538.6 1217.2,1540.4 1217.3,1542.0 1217.5,1543.6 1217.6,1545.0 1217.7,1546.4 1217.8,1547.6 1218.0,1548.7 1218.1,1549.7 1218.2,1550.7 1218.3,1551.5 1218.5,1552.3 1218.6,1552.9 1218.7,1553.5 1218.8,1554.1 1219.0,1554.5 1219.1,1555.0 1219.2,1555.3 1219.3,1555.6 1219.5,1555.9 1219.6,1556.1 1219.7,1556.3 1219.9,1556.5 1220.0,1556.7 1220.1,1556.8 1220.2,1556.9 1220.4,1557.0 1220.5,1557.0 1220.6,1557.1 1220.7,1557.1 1220.9,1557.2 1221.0,1557.2 1221.1,1557.2 1221.2,1557.3 1221.4,1557.3 1221.5,1557.3 1221.6,1557.3 1221.7,1557.3 1221.9,1557.3 1222.0,1557.3 1222.1,1557.3 1222.2,1557.3 1222.4,1557.4 1222.5,1557.4 1222.6,1557.4 1222.8,1557.4 1222.9,1557.4 1223.0,1557.4 1223.1,1557.4 1223.3,1557.4 1223.4,1557.4 1223.5,1557.4 1223.6,1557.4 1223.8,1557.4 1223.9,1557.4 1224.0,1557.4 1224.1,1557.4 1224.3,1557.4 1224.4,1557.4 1224.5,1557.4 1224.6,1557.4 1224.8,1557.4 1224.9,1557.4 1225.0,1557.4 1225.1,1557.4 1225.3,1557.4 1225.4,1557.4 1225.5,1557.4 1225.7,1557.4 1225.8,1557.4 1225.9,1557.4 1226.0,1557.4 1226.2,1557.4 1226.3,1557.4 1226.4,1557.4 1226.5,1557.4 1226.7,1557.4 1226.8,1557.4 1226.9,1557.4 1227.0,1557.4 1227.2,1557.4 1227.3,1557.4 1227.4,1557.4 1227.5,1557.4 1227.7,1557.4 1227.8,1557.4 1227.9,1557.4 1228.0,1557.4 1228.2,1557.4 1228.3,1557.4 1228.4,1557.4 1228.6,1557.4 1228.7,1557.4 1228.8,1557.4 1228.9,1557.4 1229.1,1557.4 1229.2,1557.4 1229.3,1557.4 1229.4,1557.4 1229.6,1557.4 1229.7,1557.4 1229.8,1557.4 1229.9,1557.4 1230.1,1557.4 1230.2,1557.4 1230.3,1557.4 1230.4,1557.4 1230.6,1557.4 1230.7,1557.4 1230.8,1557.4 1230.9,1557.4 1231.1,1557.4 1231.2,1557.4 1231.3,1557.4 1231.5,1557.4 1231.6,1557.4 1231.7,1557.4 1231.8,1557.4 1232.0,1557.4 1232.1,1557.4 1232.2,1557.4 1232.3,1557.4 1232.5,1557.4 1232.6,1557.4 1232.7,1557.4 1232.8,1557.4 1233.0,1557.4 1233.1,1557.4 1233.2,1557.4 1233.3,1557.4 1233.5,1557.4 1233.6,1557.4 1233.7,1557.4 1233.8,1557.4 1234.0,1557.4 1234.1,1557.4 1234.2,1557.4 1234.4,1557.4 1234.5,1557.4 1234.6,1557.4 1234.7,1557.4 1234.9,1557.4 1235.0,1557.4 1235.1,1557.4 1235.2,1557.4 1235.4,1557.4 1235.5,1557.4 1235.6,1557.4 1235.7,1557.4 1235.9,1557.4 1236.0,1557.4 1236.1,1557.4 1236.2,1557.4 1236.4,1557.4 1236.5,1557.4 1236.6,1557.4 1236.7,1557.4 1236.9,1557.4 1237.0,1557.4 1237.1,1557.4 1237.3,1557.4 1237.4,1557.4 1237.5,1557.4 1237.6,1557.4 1237.8,1557.4 1237.9,1557.4 1238.0,1557.4 1238.0,1557.4" fill="#008000" fill-opacity="0.25"/>
<polygon points="1238.1,1557.4 1238.1,1557.4 1238.1,1557.3 1238.2,1557.1 1238.2,1556.9 1238.3,1556.5 1238.5,1556.0 1238.6,1555.4 1238.8,1554.7 1239.0,1553.9 1239.3,1553.0 1239.5,1552.0 1239.7,1550.9 1239.8,1549.7 1240.0,1548.3 1240.1,1546.9 1240.2,1545.3 1240.3,1543.7 1240.4,1541.9 1240.5,1540.0 1240.6,1538.1 1240.7,1536.0 1240.8,1533.8 1240.9,1531.5 1241.0,1529.1 1241.0,1526.6 1241.1,1523.9 1241.2,1521.2 1241.3,1518.4 1241.3,1515.4 1241.4,1512.4 1241.5,1509.2 1241.5,1506.0 1241.6,1502.6 1241.6,1499.1 1241.7,1495.5 1241.7,1491.8 1241.8,1488.0 1241.9,1484.1 1241.9,1480.1 1242.0,1476.0 1242.1,1471.8 1242.1,1467.5 1242.2,1463.0 1242.2,1458.5 1242.3,1453.8 1242.3,1449.1 1242.4,1444.2 1242.5,1439.2 1242.5,1434.1 1242.6,1428.9 1242.7,1423.7 1242.7,1418.3 1242.8,1412.7 1242.9,1407.1 1242.9,1401.4 1243.0,1395.6 1243.1,1389.6 1243.2,1383.6 1243.3,1377.4 1243.4,1371.2 1243.5,1364.8 1243.6,1358.4 1243.6,1351.8 1243.7,1345.1 1243.8,1338.3 1243.9,1331.4 1244.0,1324.4 1244.0,1317.3 1244.1,1310.1 1244.1,1302.7 1244.2,1295.3 1244.3,1287.8 1244.3,1280.1 1244.4,1272.4 1244.4,1264.5 1244.5,1256.5 1244.5,1248.4 1244.6,1240.3 1244.6,1232.0 1244.7,1223.6 1244.7,1215.1 1244.8,1206.5 1244.9,1197.7 1244.9,1188.9 1245.0,1180.0 1245.1,1171.0 1245.2,1161.8 1245.3,1152.6 1245.4,1143.2 1245.6,1133.7 1245.7,1124.2 1245.9,1114.5 1246.0,1104.7 1246.1,1094.8 1246.2,1084.8 1246.3,1074.7 1246.3,1064.5 1246.4,1054.1 1246.4,1043.7 1246.5,1033.2 1246.5,1022.5 1246.5,1011.8 1246.5,1000.9 1246.6,990.0 1246.6,978.9 1246.6,967.7 1246.7,956.4 1246.7,945.0 1246.7,933.5 1246.7,921.9 1246.8,916.9 1246.8,916.9 1246.8,916.9 1246.8,916.9 1246.9,916.9 1246.9,916.9 1246.9,916.9 1247.0,916.9 1247.0,916.9 1247.0,916.9 1264.2,916.9 1264.3,916.9 1264.4,916.9 1264.5,916.9 1264.6,916.9 1264.7,916.9 1264.7,916.9 1264.8,916.9 1264.9,916.9 1265.0,916.9 1265.1,921.9 1265.2,933.5 1265.3,945.0 1265.3,956.4 1265.4,967.7 1265.5,978.9 1265.6,990.0 1265.7,1000.9 1265.8,1011.8 1265.9,1022.5 1265.9,1033.2 1266.0,1043.7 1266.1,1054.1 1266.2,1064.5 1266.2,1074.7 1266.3,1084.8 1266.4,1094.8 1266.4,1104.7 1266.5,1114.5 1266.5,1124.2 1266.6,1133.7 1266.6,1143.2 1266.7,1152.6 1266.7,1161.8 1266.8,1171.0 1266.8,1180.0 1266.9,1188.9 1267.0,1197.7 1267.0,1206.5 1267.1,1215.1 1267.2,1223.6 1267.3,1232.0 1267.3,1240.3 1267.4,1248.4 1267.5,1256.5 1267.6,1264.5 1267.6,1272.4 1267.7,1280.1 1267.8,1287.8 1267.8,1295.3 1267.9,1302.7 1268.0,1310.1 1268.0,1317.3 1268.1,1324.4 1268.2,1331.4 1268.2,1338.3 1268.3,1345.1 1268.4,1351.8 1268.4,1358.4 1268.5,1364.8 1268.5,1371.2 1268.6,1377.4 1268.6,1383.6 1268.7,1389.6 1268.8,1395.6 1268.8,1401.4 1268.9,1407.1 1269.0,1412.7 1269.0,1418.3 1269.1,1423.7 1269.2,1428.9 1269.3,1434.1 1269.4,1439.2 1269.5,1444.2 1269.5,1449.1 1269.6,1453.8 1269.7,1458.5 1269.8,1463.0 1269.8,1467.5 1269.9,1471.8 1270.0,1476.0 1270.1,1480.1 1270.2,1484.1 1270.2,1488.0 1270.3,1491.8 1270.4,1495.5 1270.5,1499.1 1270.5,1502.6 1270.6,1506.0 1270.7,1509.2 1270.8,1512.4 1270.8,1515.4 1270.9,1518.4 1271.0,1521.2 1271.1,1523.9 1271.3,1526.6 1271.4,1529.1 1271.5,1531.5 1271.7,1533.8 1271.8,1536.0 1271.9,1538.1 1272.1,1540.0 1272.2,1541.9 1272.3,1543.7 1272.5,1545.3 1272.6,1546.9 1272.8,1548.3 1272.9,1549.7 1273.1,1550.9 1273.3,1552.0 1273.5,1553.0 1273.7,1553.9 1274.0,1554.7 1274.3,1555.4 1274.6,1556.0 1274.8,1556.5 1275.0,1556.9 1275.2,1557.1 1275.3,1557.3 1275.3,1557.4 1275.3,1557.4" fill="#008000" fill-opacity="0.25"/>
<polyline points="941.1,1556.3 942.3,1556.2 943.4,1556.2 944.6,1556.1 945.8,1556.1 946.9,1556.0 948.1,1556.0 949.2,1555.9 950.4,1555.8 951.6,1555.8 952.7,1555.7 953.9,1555.7 955.0,1555.6 956.2,1555.5 957.3,1555.5 958.5,1555.4 959.7,1555.3 960.8,1555.2 962.0,1555.2 963.1,1555.1 964.3,1555.0 965.4,1554.9 966.6,1554.8 967.8,1554.8 968.9,1554.7 970.1,1554.6 971.2,1554.5 972.4,1554.4 973.6,1554.3 974.7,1554.2 975.9,1554.1 977.0,1554.0 978.2,1553.8 979.3,1553.7 980.5,1553.6 981.7,1553.5 982.8,1553.3 984.0,1553.2 985.1,1553.1 986.3,1552.9 987.5,1552.8 988.6,1552.6 989.8,1552.4 990.9,1552.3 992.1,1552.1 993.2,1551.9 994.4,1551.7 995.6,1551.6 996.7,1551.4 997.9,1551.2 999.0,1551.0 1000.2,1550.8 1001.4,1550.6 1002.5,1550.3 1003.7,1550.1 1004.8,1549.9 1006.0,1549.7 1007.1,1549.4 1008.3,1549.2 1009.5,1548.9 1010.6,1548.7 1011.8,1548.4 1012.9,1548.2 1014.1,1547.9 1015.3,1547.6 1016.4,1547.3 1017.6,1547.0 1018.7,1546.8 1019.9,1546.5 1021.0,1546.2 1022.2,1545.8 1023.4,1545.5 1024.5,1545.2 1025.7,1544.9 1026.8,1544.5 1028.0,1544.2 1029.2,1543.8 1030.3,1543.5 1031.5,1543.1 1032.6,1542.7 1033.8,1542.3 1034.9,1541.9 1036.1,1541.5 1037.3,1541.1 1038.4,1540.7 1039.6,1540.2 1040.7,1539.8 1041.9,1539.3 1043.1,1538.9 1044.2,1538.4 1045.4,1537.9 1046.5,1537.4 1047.7,1536.9 1048.8,1536.4 1050.0,1535.9 1051.2,1535.4 1052.3,1534.8 1053.5,1534.3 1054.6,1533.7 1055.8,1533.2 1057.0,1532.6 1058.1,1532.1 1059.3,1531.5 1060.4,1530.9 1061.6,1530.3 1062.7,1529.7 1063.9,1529.1 1065.1,1528.5 1066.2,1527.9 1067.4,1527.3 1068.5,1526.7 1069.7,1526.1 1070.8,1525.5 1072.0,1524.9 1073.2,1524.3 1074.3,1523.6 1075.5,1523.0 1076.6,1522.3 1077.8,1521.7 1079.0,1521.0 1080.1,1520.4 1081.3,1519.7 1082.4,1519.0 1083.6,1518.2 1084.7,1517.5 1085.9,1516.8 1087.1,1516.0 1088.2,1515.2 1089.4,1514.4 1090.5,1513.5 1091.7,1512.7 1092.9,1511.8 1094.0,1510.8 1095.2,1509.9 1096.3,1508.9 1097.5,1507.8 1098.6,1506.7 1099.8,1505.6 1101.0,1504.5 1102.1,1503.3 1103.3,1502.0 1104.4,1500.7 1105.6,1499.4 1106.8,1498.0 1107.9,1496.6 1109.1,1495.1 1110.2,1493.6 1111.4,1492.0 1112.5,1490.4 1113.7,1488.7 1114.9,1487.0 1116.0,1485.2 1117.2,1483.4 1118.3,1481.6 1119.5,1479.7 1120.7,1477.8 1121.8,1475.8 1123.0,1473.8 1124.1,1471.7 1125.3,1469.6 1126.4,1467.5 1127.6,1465.3 1128.8,1463.1 1129.9,1460.9 1131.1,1458.7 1132.2,1456.4 1133.4,1454.1 1134.6,1451.8 1135.7,1449.5 1136.9,1447.2 1138.0,1444.8 1139.2,1442.5 1140.3,1440.1 1141.5,1437.7 1142.7,1435.4 1143.8,1433.0 1145.0,1430.6 1146.1,1428.3 1147.3,1425.9 1148.5,1423.6 1149.6,1421.3 1150.8,1419.0 1151.9,1416.7 1153.1,1414.5 1154.2,1412.3 1155.4,1410.1 1156.6,1407.9 1157.7,1405.8 1158.9,1403.8 1160.0,1401.8 1161.2,1399.8 1162.3,1397.9 1163.5,1396.0 1164.7,1394.3 1165.8,1392.5 1167.0,1390.9 1168.1,1389.3 1169.3,1387.8 1170.5,1386.3 1171.6,1384.9 1172.8,1383.6 1173.9,1382.4 1175.1,1381.3 1176.2,1380.2 1177.4,1379.3 1178.6,1378.4 1179.7,1377.5 1180.9,1376.8 1182.0,1376.2 1183.2,1375.6 1184.4,1375.1 1185.5,1374.7 1186.7,1374.4 1187.8,1374.1 1189.0,1373.9 1190.1,1373.8 1191.3,1373.8 1192.5,1373.8 1193.6,1373.9 1194.8,1374.0 1195.9,1374.2 1197.1,1374.5 1198.3,1374.8 1199.4,1375.2 1200.6,1375.6 1201.7,1376.1 1202.9,1376.6 1204.0,1377.1 1205.2,1377.7 1206.4,1378.3 1207.5,1379.0 1208.7,1379.7 1209.8,1380.4 1211.0,1381.2 1212.2,1382.0 1213.3,1382.8 1214.5,1383.7 1215.6,1384.6 1216.8,1385.5 1217.9,1386.4 1219.1,1387.4 1220.3,1388.5 1221.4,1389.5 1222.6,1390.6 1223.7,1391.7 1224.9,1392.9 1226.1,1394.1 1227.2,1395.3 1228.4,1396.6 1229.5,1397.9 1230.7,1399.2 1231.8,1400.6 1233.0,1402.0 1234.2,1403.5 1235.3,1405.0 1236.5,1406.5 1237.6,1408.0 1238.8,1409.6 1240.0,1411.3 1241.1,1412.9 1242.3,1414.6 1243.4,1416.3 1244.6,1418.1 1245.7,1419.8 1246.9,1421.6 1248.1,1423.4 1249.2,1425.2 1250.4,1427.1 1251.5,1428.9 1252.7,1430.8 1253.9,1432.7 1255.0,1434.6 1256.2,1436.5 1257.3,1438.3 1258.5,1440.2 1259.6,1442.1 1260.8,1444.0 1262.0,1445.8 1263.1,1447.7 1264.3,1449.5 1265.4,1451.4 1266.6,1453.2 1267.7,1455.0 1268.9,1456.7 1270.1,1458.5 1271.2,1460.2 1272.4,1461.9 1273.5,1463.6 1274.7,1465.3 1275.9,1466.9 1277.0,1468.5 1278.2,1470.1 1279.3,1471.6 1280.5,1473.2 1281.6,1474.7 1282.8,1476.2 1284.0,1477.6 1285.1,1479.0 1286.3,1480.4 1287.4,1481.8 1288.6,1483.2 1289.8,1484.5 1290.9,1485.8 1292.1,1487.1 1293.2,1488.4 1294.4,1489.6 1295.5,1490.9 1296.7,1492.1 1297.9,1493.3 1299.0,1494.4 1300.2,1495.6 1301.3,1496.8 1302.5,1497.9 1303.7,1499.0 1304.8,1500.2 1306.0,1501.3 1307.1,1502.4 1308.3,1503.5 1309.4,1504.6 1310.6,1505.7 1311.8,1506.8 1312.9,1507.8 1314.1,1508.9 1315.2,1510.0 1316.4,1511.1 1317.6,1512.1 1318.7,1513.2 1319.9,1514.3 1321.0,1515.3 1322.2,1516.4 1323.3,1517.4 1324.5,1518.5 1325.7,1519.6 1326.8,1520.6 1328.0,1521.6 1329.1,1522.7 1330.3,1523.7 1331.5,1524.8 1332.6,1525.8 1333.8,1526.8 1334.9,1527.8 1336.1,1528.8 1337.2,1529.8 1338.4,1530.8 1339.6,1531.7 1340.7,1532.6 1341.9,1533.6 1343.0,1534.5 1344.2,1535.4 1345.4,1536.2 1346.5,1537.1 1347.7,1537.9 1348.8,1538.7 1350.0,1539.4 1351.1,1540.2 1352.3,1540.9 1353.5,1541.5 1354.6,1542.2 1355.8,1542.8 1356.9,1543.3 1358.1,1543.9 1359.3,1544.4 1360.4,1544.8 1361.6,1545.3 1362.7,1545.6 1363.9,1546.0 1365.0,1546.3 1366.2,1546.5 1367.4,1546.8 1368.5,1546.9 1369.7,1547.1 1370.8,1547.2 1372.0,1547.2 1373.1,1547.2 1374.3,1547.2 1375.5,1547.1 1376.6,1547.0 1377.8,1546.9 1378.9,1546.7 1380.1,1546.4 1381.3,1546.2 1382.4,1545.8 1383.6,1545.5 1384.7,1545.1 1385.9,1544.7 1387.0,1544.3 1388.2,1543.8 1389.4,1543.3 1390.5,1542.7 1391.7,1542.2 1392.8,1541.6 1394.0,1541.0 1395.2,1540.4 1396.3,1539.7 1397.5,1539.1 1398.6,1538.4 1399.8,1537.7 1400.9,1537.0 1402.1,1536.3 1403.3,1535.7 1404.4,1535.0 1405.6,1534.3 1406.7,1533.6 1407.9,1533.0 1409.1,1532.3 1410.2,1531.7 1411.4,1531.1 1412.5,1530.5 1413.7,1529.9 1414.8,1529.4 1416.0,1528.9 1417.2,1528.4 1418.3,1527.9 1419.5,1527.5 1420.6,1527.2 1421.8,1526.8 1423.0,1526.6 1424.1,1526.3 1425.3,1526.1 1426.4,1526.0 1427.6,1525.9 1428.7,1525.8 1429.9,1525.8 1431.1,1525.8 1432.2,1525.9 1433.4,1526.0 1434.5,1526.2 1435.7,1526.4 1436.9,1526.7 1438.0,1527.0 1439.2,1527.4 1440.3,1527.8 1441.5,1528.2 1442.6,1528.7 1443.8,1529.2 1445.0,1529.7 1446.1,1530.3 1447.3,1530.9 1448.4,1531.5 1449.6,1532.2 1450.8,1532.8 1451.9,1533.5 1453.1,1534.2 1454.2,1534.9 1455.4,1535.7 1456.5,1536.4 1457.7,1537.1 1458.9,1537.9 1460.0,1538.6 1461.2,1539.4 1462.3,1540.1 1463.5,1540.8 1464.7,1541.6 1465.8,1542.3 1467.0,1543.0 1468.1,1543.7 1469.3,1544.4 1470.4,1545.0 1471.6,1545.7 1472.8,1546.3 1473.9,1546.9 1475.1,1547.5 1476.2,1548.1 1477.4,1548.7 1478.5,1549.2 1479.7,1549.7 1480.9,1550.2 1482.0,1550.7 1483.2,1551.1 1484.3,1551.5 1485.5,1551.9 1486.7,1552.3 1487.8,1552.7 1489.0,1553.0 1490.1,1553.4 1491.3,1553.7 1492.4,1554.0 1493.6,1554.2 1494.8,1554.5 1495.9,1554.7 1497.1,1554.9 1498.2,1555.2 1499.4,1555.3 1500.6,1555.5 1501.7,1555.7 1502.9,1555.8 1504.0,1556.0 1505.2,1556.1 1506.3,1556.2 1507.5,1556.3 1508.7,1556.4 1509.8,1556.5 1511.0,1556.6 1512.1,1556.7 1513.3,1556.8 1514.5,1556.8 1515.6,1556.9 1516.8,1556.9 1517.9,1557.0 1519.1,1557.0" fill="none" stroke="#4682b4" stroke-width="1.85" stroke-linejoin="round"/>
<polyline points="1139.3,1557.2 1139.8,1557.1 1140.2,1557.1 1140.6,1557.1 1141.1,1557.0 1141.5,1557.0 1142.0,1556.9 1142.4,1556.9 1142.8,1556.8 1143.3,1556.8 1143.7,1556.7 1144.2,1556.6 1144.6,1556.5 1145.0,1556.5 1145.5,1556.4 1145.9,1556.2 1146.3,1556.1 1146.8,1556.0 1147.2,1555.9 1147.7,1555.7 1148.1,1555.5 1148.5,1555.3 1149.0,1555.1 1149.4,1554.9 1149.9,1554.7 1150.3,1554.4 1150.7,1554.2 1151.2,1553.9 1151.6,1553.6 1152.1,1553.2 1152.5,1552.9 1152.9,1552.5 1153.4,1552.1 1153.8,1551.6 1154.2,1551.2 1154.7,1550.7 1155.1,1550.2 1155.6,1549.6 1156.0,1549.0 1156.4,1548.4 1156.9,1547.7 1157.3,1547.0 1157.8,1546.3 1158.2,1545.5 1158.6,1544.7 1159.1,1543.9 1159.5,1543.0 1160.0,1542.1 1160.4,1541.1 1160.8,1540.1 1161.3,1539.0 1161.7,1537.9 1162.1,1536.7 1162.6,1535.5 1163.0,1534.3 1163.5,1533.0 1163.9,1531.6 1164.3,1530.2 1164.8,1528.8 1165.2,1527.3 1165.7,1525.8 1166.1,1524.2 1166.5,1522.5 1167.0,1520.8 1167.4,1519.1 1167.8,1517.3 1168.3,1515.5 1168.7,1513.6 1169.2,1511.6 1169.6,1509.6 1170.0,1507.6 1170.5,1505.5 1170.9,1503.4 1171.4,1501.2 1171.8,1498.9 1172.2,1496.7 1172.7,1494.3 1173.1,1492.0 1173.6,1489.6 1174.0,1487.1 1174.4,1484.7 1174.9,1482.1 1175.3,1479.6 1175.7,1477.0 1176.2,1474.4 1176.6,1471.7 1177.1,1469.1 1177.5,1466.4 1177.9,1463.7 1178.4,1460.9 1178.8,1458.2 1179.3,1455.4 1179.7,1452.6 1180.1,1449.9 1180.6,1447.1 1181.0,1444.3 1181.5,1441.5 1181.9,1438.7 1182.3,1435.9 1182.8,1433.2 1183.2,1430.4 1183.6,1427.6 1184.1,1424.9 1184.5,1422.2 1185.0,1419.5 1185.4,1416.8 1185.8,1414.2 1186.3,1411.6 1186.7,1409.0 1187.2,1406.4 1187.6,1403.9 1188.0,1401.4 1188.5,1398.9 1188.9,1396.4 1189.4,1394.0 1189.8,1391.6 1190.2,1389.3 1190.7,1387.0 1191.1,1384.7 1191.5,1382.4 1192.0,1380.2 1192.4,1378.0 1192.9,1375.8 1193.3,1373.7 1193.7,1371.6 1194.2,1369.6 1194.6,1367.5 1195.1,1365.5 1195.5,1363.6 1195.9,1361.6 1196.4,1359.7 1196.8,1357.9 1197.3,1356.0 1197.7,1354.3 1198.1,1352.5 1198.6,1350.8 1199.0,1349.1 1199.4,1347.4 1199.9,1345.8 1200.3,1344.2 1200.8,1342.7 1201.2,1341.2 1201.6,1339.8 1202.1,1338.3 1202.5,1337.0 1203.0,1335.6 1203.4,1334.4 1203.8,1333.1 1204.3,1331.9 1204.7,1330.7 1205.2,1329.6 1205.6,1328.5 1206.0,1327.4 1206.5,1326.4 1206.9,1325.4 1207.3,1324.5 1207.8,1323.6 1208.2,1322.7 1208.7,1321.8 1209.1,1320.9 1209.5,1320.1 1210.0,1319.3 1210.4,1318.5 1210.9,1317.8 1211.3,1317.0 1211.7,1316.2 1212.2,1315.5 1212.6,1314.8 1213.1,1314.1 1213.5,1313.3 1213.9,1312.6 1214.4,1311.9 1214.8,1311.2 1215.2,1310.5 1215.7,1309.8 1216.1,1309.1 1216.6,1308.4 1217.0,1307.7 1217.4,1307.0 1217.9,1306.4 1218.3,1305.7 1218.8,1305.0 1219.2,1304.4 1219.6,1303.8 1220.1,1303.1 1220.5,1302.5 1221.0,1302.0 1221.4,1301.4 1221.8,1300.8 1222.3,1300.3 1222.7,1299.8 1223.1,1299.3 1223.6,1298.9 1224.0,1298.4 1224.5,1298.0 1224.9,1297.6 1225.3,1297.2 1225.8,1296.8 1226.2,1296.4 1226.7,1296.0 1227.1,1295.7 1227.5,1295.3 1228.0,1294.9 1228.4,1294.5 1228.9,1294.1 1229.3,1293.6 1229.7,1293.2 1230.2,1292.7 1230.6,1292.1 1231.0,1291.5 1231.5,1290.9 1231.9,1290.2 1232.4,1289.4 1232.8,1288.5 1233.2,1287.6 1233.7,1286.6 1234.1,1285.6 1234.6,1284.4 1235.0,1283.2 1235.4,1281.9 1235.9,1280.4 1236.3,1278.9 1236.7,1277.4 1237.2,1275.7 1237.6,1273.9 1238.1,1272.1 1238.5,1270.2 1238.9,1268.2 1239.4,1266.1 1239.8,1264.0 1240.3,1261.8 1240.7,1259.6 1241.1,1257.2 1241.6,1254.9 1242.0,1252.5 1242.5,1250.1 1242.9,1247.6 1243.3,1245.1 1243.8,1242.6 1244.2,1240.1 1244.6,1237.5 1245.1,1235.0 1245.5,1232.4 1246.0,1229.9 1246.4,1227.4 1246.8,1224.8 1247.3,1222.3 1247.7,1219.9 1248.2,1217.4 1248.6,1214.9 1249.0,1212.5 1249.5,1210.1 1249.9,1207.8 1250.4,1205.4 1250.8,1203.1 1251.2,1200.9 1251.7,1198.6 1252.1,1196.5 1252.5,1194.3 1253.0,1192.2 1253.4,1190.1 1253.9,1188.1 1254.3,1186.2 1254.7,1184.2 1255.2,1182.4 1255.6,1180.6 1256.1,1178.8 1256.5,1177.2 1256.9,1175.6 1257.4,1174.0 1257.8,1172.6 1258.3,1171.2 1258.7,1170.0 1259.1,1168.8 1259.6,1167.7 1260.0,1166.7 1260.4,1165.9 1260.9,1165.1 1261.3,1164.5 1261.8,1164.0 1262.2,1163.7 1262.6,1163.4 1263.1,1163.3 1263.5,1163.4 1264.0,1163.6 1264.4,1163.9 1264.8,1164.4 1265.3,1165.1 1265.7,1165.9 1266.2,1166.8 1266.6,1167.9 1267.0,1169.2 1267.5,1170.5 1267.9,1172.1 1268.3,1173.8 1268.8,1175.6 1269.2,1177.6 1269.7,1179.7 1270.1,1181.9 1270.5,1184.3 1271.0,1186.8 1271.4,1189.4 1271.9,1192.2 1272.3,1195.0 1272.7,1198.0 1273.2,1201.1 1273.6,1204.3 1274.1,1207.6 1274.5,1211.0 1274.9,1214.5 1275.4,1218.0 1275.8,1221.7 1276.2,1225.5 1276.7,1229.3 1277.1,1233.3 1277.6,1237.3 1278.0,1241.4 1278.4,1245.6 1278.9,1249.9 1279.3,1254.3 1279.8,1258.8 1280.2,1263.3 1280.6,1267.9 1281.1,1272.6 1281.5,1277.4 1282.0,1282.3 1282.4,1287.2 1282.8,1292.2 1283.3,1297.3 1283.7,1302.5 1284.1,1307.7 1284.6,1313.0 1285.0,1318.3 1285.5,1323.7 1285.9,1329.2 1286.3,1334.7 1286.8,1340.2 1287.2,1345.8 1287.7,1351.4 1288.1,1357.0 1288.5,1362.6 1289.0,1368.2 1289.4,1373.8 1289.9,1379.4 1290.3,1384.9 1290.7,1390.5 1291.2,1396.0 1291.6,1401.4 1292.0,1406.8 1292.5,1412.1 1292.9,1417.4 1293.4,1422.6 1293.8,1427.6 1294.2,1432.6 1294.7,1437.5 1295.1,1442.3 1295.6,1447.0 1296.0,1451.5 1296.4,1455.9 1296.9,1460.2 1297.3,1464.4 1297.8,1468.5 1298.2,1472.4 1298.6,1476.1 1299.1,1479.8 1299.5,1483.3 1299.9,1486.6 1300.4,1489.9 1300.8,1493.0 1301.3,1495.9 1301.7,1498.8 1302.1,1501.5 1302.6,1504.0 1303.0,1506.5 1303.5,1508.9 1303.9,1511.1 1304.3,1513.2 1304.8,1515.2 1305.2,1517.1 1305.6,1519.0 1306.1,1520.7 1306.5,1522.3 1307.0,1523.9 1307.4,1525.4 1307.8,1526.8 1308.3,1528.1 1308.7,1529.4 1309.2,1530.6 1309.6,1531.8 1310.0,1532.9 1310.5,1533.9 1310.9,1534.9 1311.4,1535.9 1311.8,1536.8 1312.2,1537.7 1312.7,1538.6 1313.1,1539.4 1313.5,1540.2 1314.0,1540.9 1314.4,1541.7 1314.9,1542.4 1315.3,1543.0 1315.7,1543.7 1316.2,1544.3 1316.6,1544.9 1317.1,1545.5 1317.5,1546.1 1317.9,1546.7 1318.4,1547.2 1318.8,1547.7 1319.3,1548.2 1319.7,1548.7 1320.1,1549.2 1320.6,1549.6 1321.0,1550.0 1321.4,1550.5 1321.9,1550.9 1322.3,1551.2 1322.8,1551.6 1323.2,1552.0 1323.6,1552.3 1324.1,1552.6 1324.5,1552.9 1325.0,1553.2 1325.4,1553.5 1325.8,1553.8 1326.3,1554.0 1326.7,1554.2 1327.2,1554.5 1327.6,1554.7 1328.0,1554.9 1328.5,1555.1 1328.9,1555.3 1329.3,1555.4 1329.8,1555.6 1330.2,1555.7 1330.7,1555.9 1331.1,1556.0 1331.5,1556.1 1332.0,1556.2 1332.4,1556.3 1332.9,1556.4 1333.3,1556.5 1333.7,1556.6 1334.2,1556.6 1334.6,1556.7 1335.1,1556.8 1335.5,1556.8 1335.9,1556.9 1336.4,1556.9 1336.8,1557.0 1337.2,1557.0 1337.7,1557.1 1338.1,1557.1 1338.6,1557.1 1339.0,1557.1 1339.4,1557.2 1339.9,1557.2 1340.3,1557.2 1340.8,1557.2 1341.2,1557.2 1341.6,1557.3 1342.1,1557.3 1342.5,1557.3 1343.0,1557.3 1343.4,1557.3 1343.8,1557.3 1344.3,1557.3 1344.7,1557.3 1345.1,1557.3 1345.6,1557.3 1346.0,1557.3 1346.5,1557.3 1346.9,1557.3 1347.3,1557.3 1347.8,1557.3 1348.2,1557.3 1348.7,1557.3 1349.1,1557.3 1349.5,1557.4 1350.0,1557.4 1350.4,1557.4 1350.9,1557.4 1351.3,1557.4 1351.7,1557.4 1352.2,1557.4 1352.6,1557.4 1353.0,1557.4 1353.5,1557.4 1353.9,1557.4 1354.4,1557.4 1354.8,1557.4 1355.2,1557.4 1355.7,1557.4 1356.1,1557.4 1356.6,1557.4 1357.0,1557.4 1357.4,1557.4 1357.9,1557.4 1358.3,1557.4" fill="none" stroke="#bfbf00" stroke-width="1.85" stroke-linejoin="round"/>
<polyline points="1200.3,1557.4 1200.4,1557.4 1200.6,1557.4 1200.7,1557.4 1200.8,1557.3 1200.9,1557.3 1201.1,1557.3 1201.2,1557.3 1201.3,1557.3 1201.4,1557.3 1201.6,1557.3 1201.7,1557.3 1201.8,1557.3 1201.9,1557.3 1202.1,1557.2 1202.2,1557.2 1202.3,1557.2 1202.5,1557.1 1202.6,1557.0 1202.7,1557.0 1202.8,1556.9 1203.0,1556.8 1203.1,1556.7 1203.2,1556.5 1203.3,1556.4 1203.5,1556.2 1203.6,1555.9 1203.7,1555.7 1203.8,1555.3 1204.0,1555.0 1204.1,1554.6 1204.2,1554.1 1204.3,1553.6 1204.5,1553.0 1204.6,1552.3 1204.7,1551.6 1204.8,1550.7 1205.0,1549.8 1205.1,1548.8 1205.2,1547.7 1205.4,1546.5 1205.5,1545.1 1205.6,1543.7 1205.7,1542.2 1205.9,1540.5 1206.0,1538.8 1206.1,1536.9 1206.2,1535.0 1206.4,1532.9 1206.5,1530.8 1206.6,1528.6 1206.7,1526.4 1206.9,1524.1 1207.0,1521.8 1207.1,1519.4 1207.2,1517.1 1207.4,1514.8 1207.5,1512.5 1207.6,1510.3 1207.7,1508.2 1207.9,1506.2 1208.0,1504.3 1208.1,1502.5 1208.3,1500.9 1208.4,1499.4 1208.5,1498.1 1208.6,1497.0 1208.8,1496.0 1208.9,1495.3 1209.0,1494.7 1209.1,1494.4 1209.3,1494.2 1209.4,1494.1 1209.5,1494.3 1209.6,1494.6 1209.8,1495.0 1209.9,1495.5 1210.0,1496.1 1210.1,1496.7 1210.3,1497.5 1210.4,1498.2 1210.5,1498.9 1210.6,1499.6 1210.8,1500.3 1210.9,1500.8 1211.0,1501.4 1211.2,1501.8 1211.3,1502.1 1211.4,1502.3 1211.5,1502.3 1211.7,1502.3 1211.8,1502.1 1211.9,1501.8 1212.0,1501.4 1212.2,1500.9 1212.3,1500.3 1212.4,1499.7 1212.5,1499.0 1212.7,1498.2 1212.8,1497.5 1212.9,1496.8 1213.0,1496.1 1213.2,1495.5 1213.3,1495.0 1213.4,1494.6 1213.5,1494.3 1213.7,1494.1 1213.8,1494.2 1213.9,1494.3 1214.1,1494.7 1214.2,1495.2 1214.3,1496.0 1214.4,1496.9 1214.6,1498.0 1214.7,1499.3 1214.8,1500.7 1214.9,1502.4 1215.1,1504.1 1215.2,1506.0 1215.3,1508.0 1215.4,1510.2 1215.6,1512.4 1215.7,1514.6 1215.8,1516.9 1215.9,1519.2 1216.1,1521.6 1216.2,1523.9 1216.3,1526.2 1216.4,1528.4 1216.6,1530.6 1216.7,1532.8 1216.8,1534.8 1217.0,1536.8 1217.1,1538.6 1217.2,1540.4 1217.3,1542.0 1217.5,1543.6 1217.6,1545.0 1217.7,1546.4 1217.8,1547.6 1218.0,1548.7 1218.1,1549.7 1218.2,1550.7 1218.3,1551.5 1218.5,1552.3 1218.6,1552.9 1218.7,1553.5 1218.8,1554.1 1219.0,1554.5 1219.1,1555.0 1219.2,1555.3 1219.3,1555.6 1219.5,1555.9 1219.6,1556.1 1219.7,1556.3 1219.9,1556.5 1220.0,1556.7 1220.1,1556.8 1220.2,1556.9 1220.4,1557.0 1220.5,1557.0 1220.6,1557.1 1220.7,1557.1 1220.9,1557.2 1221.0,1557.2 1221.1,1557.2 1221.2,1557.3 1221.4,1557.3 1221.5,1557.3 1221.6,1557.3 1221.7,1557.3 1221.9,1557.3 1222.0,1557.3 1222.1,1557.3 1222.2,1557.3 1222.4,1557.4 1222.5,1557.4 1222.6,1557.4 1222.8,1557.4 1222.9,1557.4 1223.0,1557.4 1223.1,1557.4 1223.3,1557.4 1223.4,1557.4 1223.5,1557.4 1223.6,1557.4 1223.8,1557.4 1223.9,1557.4 1224.0,1557.4 1224.1,1557.4 1224.3,1557.4 1224.4,1557.4 1224.5,1557.4 1224.6,1557.4 1224.8,1557.4 1224.9,1557.4 1225.0,1557.4 1225.1,1557.4 1225.3,1557.4 1225.4,1557.4 1225.5,1557.4 1225.7,1557.4 1225.8,1557.4 1225.9,1557.4 1226.0,1557.4 1226.2,1557.4 1226.3,1557.4 1226.4,1557.4 1226.5,1557.4 1226.7,1557.4 1226.8,1557.4 1226.9,1557.4 1227.0,1557.4 1227.2,1557.4 1227.3,1557.4 1227.4,1557.4 1227.5,1557.4 1227.7,1557.4 1227.8,1557.4 1227.9,1557.4 1228.0,1557.4 1228.2,1557.4 1228.3,1557.4 1228.4,1557.4 1228.6,1557.4 1228.7,1557.4 1228.8,1557.4 1228.9,1557.4 1229.1,1557.4 1229.2,1557.4 1229.3,1557.4 1229.4,1557.4 1229.6,1557.4 1229.7,1557.4 1229.8,1557.4 1229.9,1557.4 1230.1,1557.4 1230.2,1557.4 1230.3,1557.4 1230.4,1557.4 1230.6,1557.4 1230.7,1557.4 1230.8,1557.4 1230.9,1557.4 1231.1,1557.4 1231.2,1557.4 1231.3,1557.4 1231.5,1557.4 1231.6,1557.4 1231.7,1557.4 1231.8,1557.4 1232.0,1557.4 1232.1,1557.4 1232.2,1557.4 1232.3,1557.4 1232.5,1557.4 1232.6,1557.4 1232.7,1557.4 1232.8,1557.4 1233.0,1557.4 1233.1,1557.4 1233.2,1557.4 1233.3,1557.4 1233.5,1557.4 1233.6,1557.4 1233.7,1557.4 1233.8,1557.4 1234.0,1557.4 1234.1,1557.4 1234.2,1557.4 1234.4,1557.4 1234.5,1557.4 1234.6,1557.4 1234.7,1557.4 1234.9,1557.4 1235.0,1557.4 1235.1,1557.4 1235.2,1557.4 1235.4,1557.4 1235.5,1557.4 1235.6,1557.4 1235.7,1557.4 1235.9,1557.4 1236.0,1557.4 1236.1,1557.4 1236.2,1557.4 1236.4,1557.4 1236.5,1557.4 1236.6,1557.4 1236.7,1557.4 1236.9,1557.4 1237.0,1557.4 1237.1,1557.4 1237.3,1557.4 1237.4,1557.4 1237.5,1557.4 1237.6,1557.4 1237.8,1557.4 1237.9,1557.4 1238.0,1557.4" fill="none" stroke="#008000" stroke-width="1.85" stroke-linejoin="round"/>
<polyline points="1238.1,1557.4 1238.1,1557.3 1238.2,1557.1 1238.2,1556.9 1238.3,1556.5 1238.5,1556.0 1238.6,1555.4 1238.8,1554.7 1239.0,1553.9 1239.3,1553.0 1239.5,1552.0 1239.7,1550.9 1239.8,1549.7 1240.0,1548.3 1240.1,1546.9 1240.2,1545.3 1240.3,1543.7 1240.4,1541.9 1240.5,1540.0 1240.6,1538.1 1240.7,1536.0 1240.8,1533.8 1240.9,1531.5 1241.0,1529.1 1241.0,1526.6 1241.1,1523.9 1241.2,1521.2 1241.3,1518.4 1241.3,1515.4 1241.4,1512.4 1241.5,1509.2 1241.5,1506.0 1241.6,1502.6 1241.6,1499.1 1241.7,1495.5 1241.7,1491.8 1241.8,1488.0 1241.9,1484.1 1241.9,1480.1 1242.0,1476.0 1242.1,1471.8 1242.1,1467.5 1242.2,1463.0 1242.2,1458.5 1242.3,1453.8 1242.3,1449.1 1242.4,1444.2 1242.5,1439.2 1242.5,1434.1 1242.6,1428.9 1242.7,1423.7 1242.7,1418.3 1242.8,1412.7 1242.9,1407.1 1242.9,1401.4 1243.0,1395.6 1243.1,1389.6 1243.2,1383.6 1243.3,1377.4 1243.4,1371.2 1243.5,1364.8 1243.6,1358.4 1243.6,1351.8 1243.7,1345.1 1243.8,1338.3 1243.9,1331.4 1244.0,1324.4 1244.0,1317.3 1244.1,1310.1 1244.1,1302.7 1244.2,1295.3 1244.3,1287.8 1244.3,1280.1 1244.4,1272.4 1244.4,1264.5 1244.5,1256.5 1244.5,1248.4 1244.6,1240.3 1244.6,1232.0 1244.7,1223.6 1244.7,1215.1 1244.8,1206.5 1244.9,1197.7 1244.9,1188.9 1245.0,1180.0 1245.1,1171.0 1245.2,1161.8 1245.3,1152.6 1245.4,1143.2 1245.6,1133.7 1245.7,1124.2 1245.9,1114.5 1246.0,1104.7 1246.1,1094.8 1246.2,1084.8 1246.3,1074.7 1246.3,1064.5 1246.4,1054.1 1246.4,1043.7 1246.5,1033.2 1246.5,1022.5 1246.5,1011.8 1246.5,1000.9 1246.6,990.0 1246.6,978.9 1246.6,967.7 1246.7,956.4 1246.7,945.0 1246.7,933.5 1246.7,921.9 1246.8,916.9 1246.8,916.9 1246.8,916.9 1246.8,916.9 1246.9,916.9 1246.9,916.9 1246.9,916.9 1247.0,916.9 1247.0,916.9 1247.0,916.9 1264.2,916.9 1264.3,916.9 1264.4,916.9 1264.5,916.9 1264.6,916.9 1264.7,916.9 1264.7,916.9 1264.8,916.9 1264.9,916.9 1265.0,916.9 1265.1,921.9 1265.2,933.5 1265.3,945.0 1265.3,956.4 1265.4,967.7 1265.5,978.9 1265.6,990.0 1265.7,1000.9 1265.8,1011.8 1265.9,1022.5 1265.9,1033.2 1266.0,1043.7 1266.1,1054.1 1266.2,1064.5 1266.2,1074.7 1266.3,1084.8 1266.4,1094.8 1266.4,1104.7 1266.5,1114.5 1266.5,1124.2 1266.6,1133.7 1266.6,1143.2 1266.7,1152.6 1266.7,1161.8 1266.8,1171.0 1266.8,1180.0 1266.9,1188.9 1267.0,1197.7 1267.0,1206.5 1267.1,1215.1 1267.2,1223.6 1267.3,1232.0 1267.3,1240.3 1267.4,1248.4 1267.5,1256.5 1267.6,1264.5 1267.6,1272.4 1267.7,1280.1 1267.8,1287.8 1267.8,1295.3 1267.9,1302.7 1268.0,1310.1 1268.0,1317.3 1268.1,1324.4 1268.2,1331.4 1268.2,1338.3 1268.3,1345.1 1268.4,1351.8 1268.4,1358.4 1268.5,1364.8 1268.5,1371.2 1268.6,1377.4 1268.6,1383.6 1268.7,1389.6 1268.8,1395.6 1268.8,1401.4 1268.9,1407.1 1269.0,1412.7 1269.0,1418.3 1269.1,1423.7 1269.2,1428.9 1269.3,1434.1 1269.4,1439.2 1269.5,1444.2 1269.5,1449.1 1269.6,1453.8 1269.7,1458.5 1269.8,1463.0 1269.8,1467.5 1269.9,1471.8 1270.0,1476.0 1270.1,1480.1 1270.2,1484.1 1270.2,1488.0 1270.3,1491.8 1270.4,1495.5 1270.5,1499.1 1270.5,1502.6 1270.6,1506.0 1270.7,1509.2 1270.8,1512.4 1270.8,1515.4 1270.9,1518.4 1271.0,1521.2 1271.1,1523.9 1271.3,1526.6 1271.4,1529.1 1271.5,1531.5 1271.7,1533.8 1271.8,1536.0 1271.9,1538.1 1272.1,1540.0 1272.2,1541.9 1272.3,1543.7 1272.5,1545.3 1272.6,1546.9 1272.8,1548.3 1272.9,1549.7 1273.1,1550.9 1273.3,1552.0 1273.5,1553.0 1273.7,1553.9 1274.0,1554.7 1274.3,1555.4 1274.6,1556.0 1274.8,1556.5 1275.0,1556.9 1275.2,1557.1 1275.3,1557.3 1275.3,1557.4" fill="none" stroke="#008000" stroke-width="1.85" stroke-linejoin="round"/>
<line x1="1245.00" y1="936.85" x2="1245.00" y2="1557.36" stroke="#ff0000" stroke-width="3.9"/>
</g>
<line x1="1022.90" y1="1557.36" x2="1022.90" y2="1561.36" stroke="#000" stroke-width="1.05"/><text class="t" x="1022.90" y="1581.16" text-anchor="middle">0</text>
<line x1="1161.66" y1="1557.36" x2="1161.66" y2="1561.36" stroke="#000" stroke-width="1.05"/><text class="t" x="1161.66" y="1581.16" text-anchor="middle">5</text>
<line x1="1300.43" y1="1557.36" x2="1300.43" y2="1561.36" stroke="#000" stroke-width="1.05"/><text class="t" x="1300.43" y="1581.16" text-anchor="middle">10</text>
<line x1="1439.19" y1="1557.36" x2="1439.19" y2="1561.36" stroke="#000" stroke-width="1.05"/><text class="t" x="1439.19" y="1581.16" text-anchor="middle">15</text>
<line x1="908.54" y1="1557.36" x2="912.94" y2="1557.36" stroke="#000" stroke-width="1.05"/><text class="t" x="904.94" y="1565.56" text-anchor="end">0.0</text>
<line x1="908.54" y1="1440.60" x2="912.94" y2="1440.60" stroke="#000" stroke-width="1.05"/><text class="t" x="904.94" y="1448.80" text-anchor="end">0.1</text>
<line x1="908.54" y1="1323.85" x2="912.94" y2="1323.85" stroke="#000" stroke-width="1.05"/><text class="t" x="904.94" y="1332.05" text-anchor="end">0.2</text>
<line x1="908.54" y1="1207.09" x2="912.94" y2="1207.09" stroke="#000" stroke-width="1.05"/><text class="t" x="904.94" y="1215.29" text-anchor="end">0.3</text>
<line x1="908.54" y1="1090.34" x2="912.94" y2="1090.34" stroke="#000" stroke-width="1.05"/><text class="t" x="904.94" y="1098.54" text-anchor="end">0.4</text>
<line x1="908.54" y1="973.58" x2="912.94" y2="973.58" stroke="#000" stroke-width="1.05"/><text class="t" x="904.94" y="981.78" text-anchor="end">0.5</text>
<path d="M912.94,1557.36 L912.94,936.85 L1549.60,936.85 L1549.60,1557.36" fill="none" stroke="#222" stroke-width="1.2" stroke-linecap="square"/>
<line x1="912.94" y1="1557.36" x2="1549.60" y2="1557.36" stroke="#000" stroke-width="1.26" stroke-linecap="square"/>
<text class="t" x="1231.27" y="1605.76" text-anchor="middle">slowness (s/m)</text>
<text class="t" transform="translate(864.00,1247.11) rotate(-90)" text-anchor="middle">Normalized frequency</text>
<text class="c" x="1222.30" y="1713.36" text-anchor="middle" textLength="222.5" lengthAdjust="spacingAndGlyphs">(d) slowness</text>
<rect x="417.5" y="10.3" width="300.1" height="127.2" rx="3" ry="3" fill="#fff" fill-opacity="0.8" stroke="#ccc" stroke-opacity="0.8" stroke-width="1.1"/>
<line x1="425.2" y1="27.20" x2="468.0" y2="27.20" stroke="#4682b4" stroke-width="1.9"/><text class="t" x="483.5" y="34.60">1 background</text>
<line x1="425.2" y1="57.47" x2="468.0" y2="57.47" stroke="#bfbf00" stroke-width="1.9"/><text class="t" x="483.5" y="64.87">10 backgrounds SAA</text>
<line x1="425.2" y1="87.74" x2="468.0" y2="87.74" stroke="#008000" stroke-width="1.9"/><text class="t" x="483.5" y="95.14">100 backgrounds SAA</text>
<line x1="424.1" y1="118.01" x2="469.1" y2="118.01" stroke="#ff0000" stroke-width="4.0"/><text class="t" x="483.5" y="125.41">true parameter value</text>
</svg>
</body></html>
